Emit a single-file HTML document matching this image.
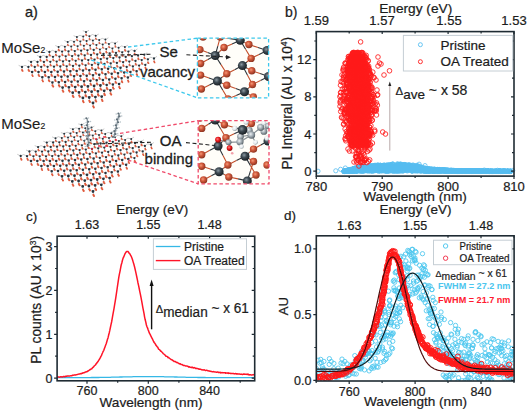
<!DOCTYPE html>
<html><head><meta charset="utf-8"><style>
html,body{margin:0;padding:0;background:#fff;width:529px;height:412px;overflow:hidden}
svg{display:block}
text{font-family:"Liberation Sans",sans-serif}
</style></head><body>
<svg width="529" height="412" viewBox="0 0 529 412">
<defs>
<radialGradient id="gSe" cx="40%" cy="38%" r="62%"><stop offset="0" stop-color="#f49a78"/><stop offset="0.45" stop-color="#d0583a"/><stop offset="1" stop-color="#8e3520"/></radialGradient>
<radialGradient id="gMo" cx="40%" cy="38%" r="62%"><stop offset="0" stop-color="#8a98a0"/><stop offset="0.45" stop-color="#3e4a52"/><stop offset="1" stop-color="#1a2024"/></radialGradient>
<radialGradient id="gC" cx="40%" cy="38%" r="62%"><stop offset="0" stop-color="#eef2f4"/><stop offset="0.5" stop-color="#a4aeb4"/><stop offset="1" stop-color="#5c666c"/></radialGradient>
<radialGradient id="gH" cx="40%" cy="38%" r="62%"><stop offset="0" stop-color="#ffffff"/><stop offset="0.6" stop-color="#e4eaee"/><stop offset="1" stop-color="#9aa4a8"/></radialGradient>
<radialGradient id="gO" cx="40%" cy="38%" r="62%"><stop offset="0" stop-color="#ff8080"/><stop offset="0.5" stop-color="#e81a1a"/><stop offset="1" stop-color="#8a0808"/></radialGradient>
</defs>
<text x="25.0" y="17.2" font-size="14.5" text-anchor="start" fill="#1c1c1c" stroke="#1c1c1c" stroke-width="0.3">a)</text>
<text x="1.2" y="52.5" font-size="15" fill="#1c1c1c" stroke="#1c1c1c" stroke-width="0.15">MoSe<tspan font-size="8.6" dx="0.1">2</tspan></text>
<text x="1.2" y="129.3" font-size="15" fill="#1c1c1c" stroke="#1c1c1c" stroke-width="0.15">MoSe<tspan font-size="8.6" dx="0.1">2</tspan></text>
<path d="M22.0 67.0L22.3 70.4M22.0 67.0L18.6 65.3M22.0 67.0L25.0 65.3M28.4 67.0L28.8 70.4M28.4 67.0L25.0 65.3M28.4 67.0L31.5 65.3M32.1 72.1L32.5 75.6M32.1 72.1L28.8 70.4M32.1 72.1L35.2 70.4M31.1 62.0L31.5 65.3M31.1 62.0L27.8 60.4M31.1 62.0L34.2 60.3M34.8 67.0L35.2 70.4M34.8 67.0L31.5 65.3M34.8 67.0L37.9 65.3M38.5 72.1L38.9 75.6M38.5 72.1L35.2 70.4M38.5 72.1L41.6 70.4M42.3 77.3L42.7 80.8M42.3 77.3L38.9 75.6M42.3 77.3L45.3 75.5M37.5 62.0L37.9 65.3M37.5 62.0L34.2 60.3M37.5 62.0L40.6 60.3M41.2 66.9L41.6 70.4M41.2 66.9L37.9 65.3M41.2 66.9L44.3 65.2M44.9 72.0L45.3 75.5M44.9 72.0L41.6 70.4M44.9 72.0L47.9 70.2M48.7 77.2L49.0 80.7M48.7 77.2L45.3 75.5M48.7 77.2L51.7 75.4M52.4 82.4L52.8 86.0M52.4 82.4L49.0 80.7M52.4 82.4L55.4 80.6M40.3 57.0L40.6 60.3M40.3 57.0L36.9 55.4M40.3 57.0L43.3 55.3M43.9 61.9L44.3 65.2M43.9 61.9L40.6 60.3M43.9 61.9L47.0 60.2M47.6 66.8L47.9 70.2M47.6 66.8L44.3 65.2M47.6 66.8L50.6 65.1M51.3 71.9L51.7 75.4M51.3 71.9L47.9 70.2M51.3 71.9L54.3 70.1M55.0 77.0L55.4 80.6M55.0 77.0L51.7 75.4M55.0 77.0L58.0 75.2M58.8 82.3L59.2 85.9M58.8 82.3L55.4 80.6M58.8 82.3L61.8 80.4M62.6 87.6L63.0 91.2M62.6 87.6L59.2 85.9M62.6 87.6L65.5 85.6M46.7 56.9L47.0 60.2M46.7 56.9L43.3 55.3M46.7 56.9L49.7 55.2M50.3 61.8L50.6 65.1M50.3 61.8L47.0 60.2M50.3 61.8L53.3 60.0M54.0 66.7L54.3 70.1M54.0 66.7L50.6 65.1M54.0 66.7L57.0 64.9M57.7 71.7L58.0 75.2M57.7 71.7L54.3 70.1M57.7 71.7L60.7 69.9M61.4 76.8L61.8 80.4M61.4 76.8L58.0 75.2M61.4 76.8L64.4 75.0M65.1 82.0L65.5 85.6M65.1 82.0L61.8 80.4M65.1 82.0L68.1 80.1M68.9 87.3L69.3 91.0M68.9 87.3L65.5 85.6M68.9 87.3L71.9 85.4M72.7 92.7L73.2 96.4M72.7 92.7L69.3 91.0M72.7 92.7L75.7 90.7M49.4 52.0L49.7 55.2M49.4 52.0L46.1 50.5M49.4 52.0L52.5 50.3M53.0 56.8L53.3 60.0M53.0 56.8L49.7 55.2M53.0 56.8L56.1 55.0M56.7 61.6L57.0 64.9M56.7 61.6L53.3 60.0M56.7 61.6L59.7 59.8M60.3 66.5L60.7 69.9M60.3 66.5L57.0 64.9M60.3 66.5L63.3 64.7M64.0 71.5L64.4 75.0M64.0 71.5L60.7 69.9M64.0 71.5L67.0 69.7M67.7 76.6L68.1 80.1M67.7 76.6L64.4 75.0M67.7 76.6L70.7 74.7M71.5 81.8L71.9 85.4M71.5 81.8L68.1 80.1M71.5 81.8L74.4 79.9M75.2 87.1L75.7 90.7M75.2 87.1L71.9 85.4M75.2 87.1L78.2 85.1M79.0 92.4L79.5 96.1M79.0 92.4L75.7 90.7M79.0 92.4L82.0 90.4M82.9 97.9L83.3 101.6M82.9 97.9L79.5 96.1M82.9 97.9L85.8 95.8M55.8 51.8L56.1 55.0M55.8 51.8L52.5 50.3M55.8 51.8L58.8 50.1M59.4 56.6L59.7 59.8M59.4 56.6L56.1 55.0M59.4 56.6L62.4 54.8M63.0 61.4L63.3 64.7M63.0 61.4L59.7 59.8M63.0 61.4L66.0 59.6M66.7 66.3L67.0 69.7M66.7 66.3L63.3 64.7M66.7 66.3L69.7 64.5M70.3 71.3L70.7 74.7M70.3 71.3L67.0 69.7M70.3 71.3L73.3 69.4M74.1 76.3L74.4 79.9M74.1 76.3L70.7 74.7M74.1 76.3L77.0 74.4M77.8 81.5L78.2 85.1M77.8 81.5L74.4 79.9M77.8 81.5L80.7 79.6M81.6 86.7L82.0 90.4M81.6 86.7L78.2 85.1M81.6 86.7L84.5 84.8M85.3 92.1L85.8 95.8M85.3 92.1L82.0 90.4M85.3 92.1L88.3 90.0M89.2 97.5L89.6 101.3M89.2 97.5L85.8 95.8M89.2 97.5L92.1 95.4M93.0 103.0L93.5 106.9M93.0 103.0L89.6 101.3M93.0 103.0L95.9 100.9M58.6 47.0L58.8 50.1M58.6 47.0L55.3 45.5M58.6 47.0L61.6 45.3M62.1 51.6L62.4 54.8M62.1 51.6L58.8 50.1M62.1 51.6L65.2 49.9M65.7 56.3L66.0 59.6M65.7 56.3L62.4 54.8M65.7 56.3L68.7 54.6M69.3 61.1L69.7 64.5M69.3 61.1L66.0 59.6M69.3 61.1L72.4 59.3M73.0 66.0L73.3 69.4M73.0 66.0L69.7 64.5M73.0 66.0L76.0 64.2M76.7 71.0L77.0 74.4M76.7 71.0L73.3 69.4M76.7 71.0L79.6 69.1M80.4 76.0L80.7 79.6M80.4 76.0L77.0 74.4M80.4 76.0L83.3 74.1M84.1 81.2L84.5 84.8M84.1 81.2L80.7 79.6M84.1 81.2L87.0 79.2M87.9 86.4L88.3 90.0M87.9 86.4L84.5 84.8M87.9 86.4L90.8 84.4M91.6 91.7L92.1 95.4M91.6 91.7L88.3 90.0M91.6 91.7L94.6 89.6M95.4 97.1L95.9 100.9M95.4 97.1L92.1 95.4M95.4 97.1L98.4 95.0M64.9 46.8L65.2 49.9M64.9 46.8L61.6 45.3M64.9 46.8L68.0 45.1M68.5 51.4L68.7 54.6M68.5 51.4L65.2 49.9M68.5 51.4L71.5 49.6M72.1 56.1L72.4 59.3M72.1 56.1L68.7 54.6M72.1 56.1L75.1 54.3M75.7 60.8L76.0 64.2M75.7 60.8L72.4 59.3M75.7 60.8L78.7 59.0M79.3 65.7L79.6 69.1M79.3 65.7L76.0 64.2M79.3 65.7L82.3 63.8M83.0 70.6L83.3 74.1M83.0 70.6L79.6 69.1M83.0 70.6L85.9 68.7M86.7 75.7L87.0 79.2M86.7 75.7L83.3 74.1M86.7 75.7L89.6 73.7M90.4 80.8L90.8 84.4M90.4 80.8L87.0 79.2M90.4 80.8L93.3 78.8M94.1 86.0L94.6 89.6M94.1 86.0L90.8 84.4M94.1 86.0L97.1 83.9M97.9 91.3L98.4 95.0M97.9 91.3L94.6 89.6M97.9 91.3L100.8 89.2M101.7 96.6L102.2 100.4M101.7 96.6L98.4 95.0M101.7 96.6L104.6 94.5M67.7 42.0L68.0 45.1M67.7 42.0L64.4 40.6M67.7 42.0L70.8 40.3M71.2 46.5L71.5 49.6M71.2 46.5L68.0 45.1M71.2 46.5L74.3 44.8M74.8 51.1L75.1 54.3M74.8 51.1L71.5 49.6M74.8 51.1L77.8 49.3M78.4 55.7L78.7 59.0M78.4 55.7L75.1 54.3M78.4 55.7L81.4 53.9M82.0 60.5L82.3 63.8M82.0 60.5L78.7 59.0M82.0 60.5L85.0 58.6M85.6 65.3L85.9 68.7M85.6 65.3L82.3 63.8M85.6 65.3L88.6 63.4M89.3 70.2L89.6 73.7M89.3 70.2L85.9 68.7M89.3 70.2L92.2 68.3M93.0 75.3L93.3 78.8M93.0 75.3L89.6 73.7M93.0 75.3L95.9 73.3M96.7 80.3L97.1 83.9M96.7 80.3L93.3 78.8M96.7 80.3L99.6 78.3M100.4 85.5L100.8 89.2M100.4 85.5L97.1 83.9M100.4 85.5L103.3 83.5M104.2 90.8L104.6 94.5M104.2 90.8L100.8 89.2M104.2 90.8L107.1 88.7M74.0 41.7L74.3 44.8M74.0 41.7L70.8 40.3M74.0 41.7L77.1 40.0M77.6 46.2L77.8 49.3M77.6 46.2L74.3 44.8M77.6 46.2L80.6 44.4M81.1 50.7L81.4 53.9M81.1 50.7L77.8 49.3M81.1 50.7L84.1 49.0M84.7 55.4L85.0 58.6M84.7 55.4L81.4 53.9M84.7 55.4L87.7 53.6M88.3 60.1L88.6 63.4M88.3 60.1L85.0 58.6M88.3 60.1L91.3 58.2M91.9 64.9L92.2 68.3M91.9 64.9L88.6 63.4M91.9 64.9L94.9 63.0M95.5 69.8L95.9 73.3M95.5 69.8L92.2 68.3M95.5 69.8L98.5 67.9M99.2 74.8L99.6 78.3M99.2 74.8L95.9 73.3M99.2 74.8L102.2 72.8M102.9 79.9L103.3 83.5M102.9 79.9L99.6 78.3M102.9 79.9L105.9 77.8M106.7 85.0L107.1 88.7M106.7 85.0L103.3 83.5M106.7 85.0L109.6 83.0M110.4 90.3L110.9 94.0M110.4 90.3L107.1 88.7M110.4 90.3L113.3 88.2M76.9 37.0L77.1 40.0M76.9 37.0L73.6 35.7M76.9 37.0L79.9 35.3M80.3 41.4L80.6 44.4M80.3 41.4L77.1 40.0M80.3 41.4L83.4 39.7M83.9 45.8L84.1 49.0M83.9 45.8L80.6 44.4M83.9 45.8L86.9 44.1M87.4 50.3L87.7 53.6M87.4 50.3L84.1 49.0M87.4 50.3L90.4 48.6M91.0 55.0L91.3 58.2M91.0 55.0L87.7 53.6M91.0 55.0L93.9 53.1M94.5 59.7L94.9 63.0M94.5 59.7L91.3 58.2M94.5 59.7L97.5 57.8M98.2 64.5L98.5 67.9M98.2 64.5L94.9 63.0M98.2 64.5L101.1 62.5M101.8 69.3L102.2 72.8M101.8 69.3L98.5 67.9M101.8 69.3L104.8 67.4M105.5 74.3L105.9 77.8M105.5 74.3L102.2 72.8M105.5 74.3L108.4 72.3M109.2 79.4L109.6 83.0M109.2 79.4L105.9 77.8M109.2 79.4L112.1 77.3M112.9 84.5L113.3 88.2M112.9 84.5L109.6 83.0M112.9 84.5L115.8 82.4M83.2 36.6L83.4 39.7M83.2 36.6L79.9 35.3M83.2 36.6L86.2 35.0M86.6 41.0L86.9 44.1M86.6 41.0L83.4 39.7M86.6 41.0L89.7 39.2M90.1 45.4L90.4 48.6M90.1 45.4L86.9 44.1M90.1 45.4L93.1 43.6M93.7 49.9L93.9 53.1M93.7 49.9L90.4 48.6M93.7 49.9L96.7 48.1M97.2 54.5L97.5 57.8M97.2 54.5L93.9 53.1M97.2 54.5L100.2 52.7M100.8 59.2L101.1 62.5M100.8 59.2L97.5 57.8M100.8 59.2L103.8 57.3M104.4 64.0L104.8 67.4M104.4 64.0L101.1 62.5M104.4 64.0L107.4 62.0M108.1 68.8L108.4 72.3M108.1 68.8L104.8 67.4M108.1 68.8L111.0 66.8M111.7 73.8L112.1 77.3M111.7 73.8L108.4 72.3M111.7 73.8L114.7 71.7M115.4 78.8L115.8 82.4M115.4 78.8L112.1 77.3M115.4 78.8L118.3 76.7M119.1 83.9L119.6 87.6M119.1 83.9L115.8 82.4M119.1 83.9L122.0 81.8M86.0 32.0L86.2 35.0M86.0 32.0L82.8 30.7M86.0 32.0L89.0 30.3M89.4 36.2L89.7 39.2M89.4 36.2L86.2 35.0M89.4 36.2L92.5 34.5M92.9 40.6L93.1 43.6M92.9 40.6L89.7 39.2M92.9 40.6L95.9 38.8M96.4 45.0L96.7 48.1M96.4 45.0L93.1 43.6M96.4 45.0L99.4 43.2M99.9 49.5L100.2 52.7M99.9 49.5L96.7 48.1M99.9 49.5L102.9 47.6M103.5 54.0L103.8 57.3M103.5 54.0L100.2 52.7M103.5 54.0L106.5 52.1M107.1 58.7L107.4 62.0M107.1 58.7L103.8 57.3M107.1 58.7L110.0 56.8M110.7 63.4L111.0 66.8M110.7 63.4L107.4 62.0M110.7 63.4L113.6 61.5M114.3 68.3L114.7 71.7M114.3 68.3L111.0 66.8M114.3 68.3L117.2 66.3M118.0 73.2L118.3 76.7M118.0 73.2L114.7 71.7M118.0 73.2L120.9 71.1M121.6 78.2L122.0 81.8M121.6 78.2L118.3 76.7M121.6 78.2L124.6 76.1M95.7 35.8L95.9 38.8M95.7 35.8L92.5 34.5M95.7 35.8L98.7 34.1M99.2 40.1L99.4 43.2M99.2 40.1L95.9 38.8M99.2 40.1L102.2 38.3M102.7 44.5L102.9 47.6M102.7 44.5L99.4 43.2M102.7 44.5L105.7 42.7M106.2 48.9L106.5 52.1M106.2 48.9L102.9 47.6M106.2 48.9L109.2 47.1M109.7 53.5L110.0 56.8M109.7 53.5L106.5 52.1M109.7 53.5L112.7 51.6M113.3 58.1L113.6 61.5M113.3 58.1L110.0 56.8M113.3 58.1L116.3 56.2M116.9 62.9L117.2 66.3M116.9 62.9L113.6 61.5M116.9 62.9L119.8 60.9M120.5 67.7L120.9 71.1M120.5 67.7L117.2 66.3M120.5 67.7L123.5 65.6M124.2 72.6L124.6 76.1M124.2 72.6L120.9 71.1M124.2 72.6L127.1 70.5M127.9 77.6L128.3 81.2M127.9 77.6L124.6 76.1M127.9 77.6L130.8 75.5M105.4 39.6L105.7 42.7M105.4 39.6L102.2 38.3M105.4 39.6L108.4 37.8M108.9 43.9L109.2 47.1M108.9 43.9L105.7 42.7M108.9 43.9L111.9 42.1M112.4 48.4L112.7 51.6M112.4 48.4L109.2 47.1M112.4 48.4L115.4 46.5M116.0 52.9L116.3 56.2M116.0 52.9L112.7 51.6M116.0 52.9L118.9 51.0M119.5 57.5L119.8 60.9M119.5 57.5L116.3 56.2M119.5 57.5L122.5 55.6M123.1 62.2L123.5 65.6M123.1 62.2L119.8 60.9M123.1 62.2L126.1 60.2M126.7 67.0L127.1 70.5M126.7 67.0L123.5 65.6M126.7 67.0L129.7 65.0M130.4 71.9L130.8 75.5M130.4 71.9L127.1 70.5M130.4 71.9L133.3 69.8M115.1 43.4L115.4 46.5M115.1 43.4L111.9 42.1M115.1 43.4L118.1 41.5M118.6 47.8L118.9 51.0M118.6 47.8L115.4 46.5M118.6 47.8L121.6 45.9M122.2 52.3L122.5 55.6M122.2 52.3L118.9 51.0M122.2 52.3L125.1 50.4M125.7 56.9L126.1 60.2M125.7 56.9L122.5 55.6M125.7 56.9L128.7 54.9M129.3 61.6L129.7 65.0M129.3 61.6L126.1 60.2M129.3 61.6L132.3 59.6M132.9 66.4L133.3 69.8M132.9 66.4L129.7 65.0M132.9 66.4L135.9 64.3M136.6 71.2L137.0 74.7M136.6 71.2L133.3 69.8M136.6 71.2L139.5 69.1M124.9 47.1L125.1 50.4M124.9 47.1L121.6 45.9M124.9 47.1L127.8 45.2M128.4 51.6L128.7 54.9M128.4 51.6L125.1 50.4M128.4 51.6L131.3 49.7M131.9 56.2L132.3 59.6M131.9 56.2L128.7 54.9M131.9 56.2L134.9 54.2M135.5 60.9L135.9 64.3M135.5 60.9L132.3 59.6M135.5 60.9L138.4 58.8M139.1 65.6L139.5 69.1M139.1 65.6L135.9 64.3M139.1 65.6L142.0 63.5M134.6 50.9L134.9 54.2M134.6 50.9L131.3 49.7M134.6 50.9L137.5 48.9M138.1 55.5L138.4 58.8M138.1 55.5L134.9 54.2M138.1 55.5L141.0 53.5M141.7 60.1L142.0 63.5M141.7 60.1L138.4 58.8M141.7 60.1L144.6 58.1M145.3 64.9L145.6 68.3M145.3 64.9L142.0 63.5M145.3 64.9L148.2 62.7M144.3 54.7L144.6 58.1M144.3 54.7L141.0 53.5M144.3 54.7L147.2 52.7M147.9 59.3L148.2 62.7M147.9 59.3L144.6 58.1M147.9 59.3L150.8 57.2M154.0 58.5L154.3 61.9M154.0 58.5L150.8 57.2M154.0 58.5L156.9 56.4" stroke="#8a8a8a" stroke-width="0.45" fill="none"/>
<path d="M67.7 44.7h0M68.2 45.5h0M71.3 49.2h0M71.7 50.1h0M74.0 44.4h0M74.5 45.2h0M77.6 48.9h0M78.0 49.7h0M76.8 39.6h0M77.3 40.4h0M80.3 44.0h0M80.8 44.9h0M83.9 48.5h0M84.3 49.4h0M83.1 39.2h0M83.6 40.1h0M86.6 43.6h0M87.1 44.5h0M90.2 48.1h0M90.6 49.0h0M86.0 34.5h0M86.4 35.4h0M89.4 38.8h0M89.9 39.7h0M92.9 43.2h0M93.4 44.1h0M96.4 47.7h0M96.9 48.5h0M95.7 38.4h0M96.2 39.2h0M99.2 42.7h0M99.6 43.6h0M102.7 47.2h0M103.2 48.0h0M105.4 42.2h0M105.9 43.1h0M108.9 46.7h0M109.4 47.5h0M115.2 46.1h0M115.6 46.9h0" stroke="#e0583a" stroke-width="1.54" stroke-linecap="round" fill="none"/>
<path d="M31.2 64.9h0M31.7 65.8h0M37.6 64.8h0M38.1 65.8h0M40.3 59.8h0M40.8 60.8h0M44.0 64.7h0M44.5 65.7h0M46.7 59.7h0M47.2 60.6h0M50.4 64.6h0M50.9 65.6h0M49.4 54.7h0M50.0 55.7h0M53.1 59.5h0M53.6 60.5h0M56.7 64.4h0M57.2 65.4h0M55.8 54.6h0M56.3 55.5h0M59.4 59.4h0M59.9 60.3h0M63.1 64.2h0M63.6 65.2h0M58.6 49.7h0M59.1 50.6h0M62.2 54.4h0M62.7 55.3h0M65.8 59.1h0M66.3 60.1h0M69.4 64.0h0M69.9 64.9h0M64.9 49.4h0M65.4 50.4h0M68.5 54.1h0M69.0 55.1h0M72.1 58.8h0M72.6 59.8h0M75.7 63.7h0M76.2 64.6h0M74.8 53.8h0M75.3 54.8h0M78.4 58.5h0M78.9 59.5h0M82.0 63.3h0M82.6 64.3h0M81.1 53.5h0M81.6 54.4h0M84.7 58.2h0M85.2 59.1h0M88.3 63.0h0M88.8 63.9h0M87.4 53.1h0M87.9 54.0h0M91.0 57.8h0M91.5 58.7h0M94.6 62.5h0M95.1 63.5h0M93.7 52.7h0M94.2 53.6h0M97.3 57.3h0M97.8 58.3h0M100.9 62.1h0M101.4 63.0h0M104.5 66.9h0M105.0 67.9h0M99.9 52.2h0M100.5 53.1h0M103.5 56.8h0M104.0 57.8h0M107.1 61.6h0M107.6 62.5h0M110.7 66.4h0M111.3 67.3h0M106.2 51.7h0M106.7 52.6h0M109.8 56.3h0M110.3 57.2h0M113.4 61.0h0M113.9 62.0h0M117.0 65.8h0M117.5 66.7h0M112.4 51.1h0M113.0 52.1h0M116.0 55.7h0M116.5 56.7h0M119.6 60.4h0M120.1 61.4h0M123.2 65.2h0M123.7 66.1h0M118.7 50.5h0M119.2 51.5h0M122.2 55.1h0M122.7 56.0h0M125.8 59.8h0M126.3 60.7h0M129.4 64.5h0M129.9 65.5h0M124.9 49.9h0M125.4 50.8h0M128.4 54.4h0M128.9 55.4h0M132.0 59.1h0M132.5 60.0h0M135.6 63.8h0M136.1 64.8h0M134.6 53.7h0M135.1 54.7h0M138.2 58.3h0M138.7 59.3h0M141.8 63.1h0M142.3 64.0h0M144.3 57.6h0M144.9 58.5h0M147.9 62.3h0M148.5 63.2h0M154.1 61.4h0M154.6 62.4h0" stroke="#e0583a" stroke-width="1.74" stroke-linecap="round" fill="none"/>
<path d="M22.0 69.9h0M22.6 70.9h0M28.5 69.9h0M29.1 71.0h0M32.2 75.1h0M32.8 76.1h0M34.9 69.9h0M35.5 70.9h0M38.6 75.0h0M39.2 76.1h0M42.4 80.3h0M43.0 81.4h0M41.3 69.8h0M41.9 70.9h0M45.0 75.0h0M45.6 76.0h0M48.8 80.2h0M49.3 81.2h0M47.7 69.7h0M48.2 70.8h0M51.4 74.8h0M52.0 75.9h0M55.1 80.0h0M55.7 81.1h0M54.0 69.6h0M54.6 70.6h0M57.7 74.7h0M58.3 75.7h0M61.5 79.8h0M62.1 80.9h0M60.4 69.4h0M61.0 70.4h0M64.1 74.5h0M64.7 75.5h0M67.8 79.6h0M68.4 80.7h0M66.7 69.1h0M67.3 70.2h0M70.4 74.2h0M71.0 75.3h0M74.1 79.3h0M74.7 80.4h0M77.9 84.6h0M78.5 85.6h0M73.0 68.9h0M73.6 69.9h0M76.7 73.9h0M77.3 75.0h0M80.5 79.0h0M81.0 80.1h0M84.2 84.2h0M84.8 85.3h0M79.4 68.6h0M79.9 69.6h0M83.0 73.6h0M83.6 74.6h0M86.8 78.7h0M87.3 79.7h0M90.5 83.8h0M91.1 84.9h0M85.7 68.2h0M86.2 69.3h0M89.3 73.2h0M89.9 74.2h0M93.0 78.3h0M93.6 79.3h0M96.8 83.4h0M97.4 84.5h0M91.9 67.8h0M92.5 68.9h0M95.6 72.8h0M96.2 73.8h0M99.3 77.8h0M99.9 78.9h0M103.0 82.9h0M103.6 84.0h0M98.2 67.3h0M98.8 68.4h0M101.9 72.3h0M102.5 73.3h0M105.6 77.3h0M106.2 78.4h0M109.3 82.4h0M109.9 83.5h0M108.1 71.8h0M108.7 72.8h0M111.8 76.8h0M112.4 77.8h0M115.5 81.9h0M116.1 82.9h0M114.4 71.2h0M115.0 72.3h0M118.0 76.2h0M118.6 77.3h0M121.8 81.3h0M122.3 82.3h0M120.6 70.6h0M121.2 71.7h0M124.3 75.6h0M124.8 76.6h0M128.0 80.6h0M128.5 81.7h0M126.8 70.0h0M127.4 71.0h0M130.5 74.9h0M131.1 76.0h0M133.0 69.3h0M133.6 70.4h0M136.7 74.2h0M137.2 75.3h0M139.2 68.6h0M139.8 69.6h0M145.4 67.8h0M145.9 68.9h0" stroke="#e0583a" stroke-width="1.94" stroke-linecap="round" fill="none"/>
<path d="M52.5 85.4h0M53.2 86.6h0M58.9 85.3h0M59.5 86.4h0M62.7 90.6h0M63.3 91.8h0M65.2 85.1h0M65.9 86.2h0M69.0 90.4h0M69.7 91.6h0M72.8 95.9h0M73.5 97.0h0M71.5 84.8h0M72.2 86.0h0M75.3 90.1h0M76.0 91.3h0M79.2 95.6h0M79.8 96.7h0M83.0 101.1h0M83.6 102.2h0M81.7 89.8h0M82.3 91.0h0M85.5 95.2h0M86.1 96.4h0M89.3 100.7h0M89.9 101.9h0M93.2 106.3h0M93.8 107.4h0M88.0 89.5h0M88.6 90.6h0M91.8 94.8h0M92.4 96.0h0M95.6 100.3h0M96.2 101.5h0M94.2 89.1h0M94.9 90.2h0M98.0 94.4h0M98.7 95.6h0M101.9 99.8h0M102.5 101.0h0M100.5 88.6h0M101.2 89.8h0M104.3 93.9h0M104.9 95.1h0M106.8 88.1h0M107.4 89.3h0M110.5 93.4h0M111.2 94.6h0M113.0 87.6h0M113.7 88.8h0M119.2 87.0h0M119.9 88.2h0" stroke="#e0583a" stroke-width="2.14" stroke-linecap="round" fill="none"/>
<path d="M58.6 47.0h0M64.9 46.8h0M67.7 42.0h0M71.2 46.5h0M74.0 41.7h0M77.6 46.2h0M76.9 37.0h0M80.3 41.4h0M83.9 45.8h0M83.2 36.6h0M86.6 41.0h0M90.1 45.4h0M86.0 32.0h0M89.4 36.2h0M92.9 40.6h0M96.4 45.0h0M99.9 49.5h0M95.7 35.8h0M99.2 40.1h0M102.7 44.5h0M106.2 48.9h0M105.4 39.6h0M108.9 43.9h0M112.4 48.4h0M115.1 43.4h0M118.6 47.8h0M124.9 47.1h0" stroke="#26343e" stroke-width="2.00" stroke-linecap="round" fill="none"/>
<path d="M22.0 67.0h0M28.4 67.0h0M31.1 62.0h0M34.8 67.0h0M37.5 62.0h0M41.2 66.9h0M40.3 57.0h0M43.9 61.9h0M47.6 66.8h0M46.7 56.9h0M50.3 61.8h0M54.0 66.7h0M49.4 52.0h0M53.0 56.8h0M56.7 61.6h0M60.3 66.5h0M55.8 51.8h0M59.4 56.6h0M63.0 61.4h0M66.7 66.3h0M62.1 51.6h0M65.7 56.3h0M69.3 61.1h0M73.0 66.0h0M68.5 51.4h0M72.1 56.1h0M75.7 60.8h0M79.3 65.7h0M74.8 51.1h0M78.4 55.7h0M82.0 60.5h0M85.6 65.3h0M81.1 50.7h0M84.7 55.4h0M88.3 60.1h0M91.9 64.9h0M87.4 50.3h0M91.0 55.0h0M94.5 59.7h0M98.2 64.5h0M93.7 49.9h0M97.2 54.5h0M100.8 59.2h0M104.4 64.0h0M103.5 54.0h0M107.1 58.7h0M110.7 63.4h0M109.7 53.5h0M113.3 58.1h0M116.9 62.9h0M116.0 52.9h0M119.5 57.5h0M123.1 62.2h0M126.7 67.0h0M122.2 52.3h0M125.7 56.9h0M129.3 61.6h0M132.9 66.4h0M128.4 51.6h0M131.9 56.2h0M135.5 60.9h0M139.1 65.6h0M134.6 50.9h0M138.1 55.5h0M141.7 60.1h0M145.3 64.9h0M144.3 54.7h0M147.9 59.3h0M154.0 58.5h0" stroke="#26343e" stroke-width="2.26" stroke-linecap="round" fill="none"/>
<path d="M32.1 72.1h0M38.5 72.1h0M42.3 77.3h0M44.9 72.0h0M48.7 77.2h0M52.4 82.4h0M51.3 71.9h0M55.0 77.0h0M58.8 82.3h0M57.7 71.7h0M61.4 76.8h0M65.1 82.0h0M64.0 71.5h0M67.7 76.6h0M71.5 81.8h0M70.3 71.3h0M74.1 76.3h0M77.8 81.5h0M76.7 71.0h0M80.4 76.0h0M84.1 81.2h0M83.0 70.6h0M86.7 75.7h0M90.4 80.8h0M89.3 70.2h0M93.0 75.3h0M96.7 80.3h0M95.5 69.8h0M99.2 74.8h0M102.9 79.9h0M106.7 85.0h0M101.8 69.3h0M105.5 74.3h0M109.2 79.4h0M112.9 84.5h0M108.1 68.8h0M111.7 73.8h0M115.4 78.8h0M119.1 83.9h0M114.3 68.3h0M118.0 73.2h0M121.6 78.2h0M120.5 67.7h0M124.2 72.6h0M127.9 77.6h0M130.4 71.9h0M136.6 71.2h0" stroke="#26343e" stroke-width="2.52" stroke-linecap="round" fill="none"/>
<path d="M62.6 87.6h0M68.9 87.3h0M72.7 92.7h0M75.2 87.1h0M79.0 92.4h0M82.9 97.9h0M81.6 86.7h0M85.3 92.1h0M89.2 97.5h0M93.0 103.0h0M87.9 86.4h0M91.6 91.7h0M95.4 97.1h0M94.1 86.0h0M97.9 91.3h0M101.7 96.6h0M100.4 85.5h0M104.2 90.8h0M110.4 90.3h0" stroke="#26343e" stroke-width="2.78" stroke-linecap="round" fill="none"/>
<path d="M20.7 156.0L21.2 159.2M20.7 156.0L17.3 154.3M20.7 156.0L23.6 154.5M27.0 156.2L27.6 159.4M27.0 156.2L23.6 154.5M27.0 156.2L29.9 154.6M31.0 161.1L31.6 164.4M31.0 161.1L27.6 159.4M31.0 161.1L33.9 159.5M29.4 151.5L29.9 154.6M29.4 151.5L26.0 150.0M29.4 151.5L32.3 150.1M33.4 156.3L33.9 159.5M33.4 156.3L29.9 154.6M33.4 156.3L36.2 154.7M37.3 161.1L37.9 164.5M37.3 161.1L33.9 159.5M37.3 161.1L40.2 159.5M41.4 166.1L41.9 169.6M41.4 166.1L37.9 164.5M41.4 166.1L44.2 164.4M35.7 151.6L36.2 154.7M35.7 151.6L32.3 150.1M35.7 151.6L38.6 150.1M39.7 156.3L40.2 159.5M39.7 156.3L36.2 154.7M39.7 156.3L42.5 154.7M43.6 161.1L44.2 164.4M43.6 161.1L40.2 159.5M43.6 161.1L46.5 159.5M47.7 166.1L48.2 169.5M47.7 166.1L44.2 164.4M47.7 166.1L50.5 164.4M51.7 171.2L52.3 174.7M51.7 171.2L48.2 169.5M51.7 171.2L54.5 169.4M38.1 147.1L38.6 150.1M38.1 147.1L34.7 145.6M38.1 147.1L41.0 145.6M42.0 151.6L42.5 154.7M42.0 151.6L38.6 150.1M42.0 151.6L44.9 150.0M46.0 156.3L46.5 159.5M46.0 156.3L42.5 154.7M46.0 156.3L48.8 154.6M49.9 161.0L50.5 164.4M49.9 161.0L46.5 159.5M49.9 161.0L52.8 159.4M53.9 166.0L54.5 169.4M53.9 166.0L50.5 164.4M53.9 166.0L56.8 164.2M58.0 171.1L58.6 174.6M58.0 171.1L54.5 169.4M58.0 171.1L60.8 169.2M62.0 176.3L62.6 179.9M62.0 176.3L58.6 174.6M62.0 176.3L64.8 174.4M44.4 147.0L44.9 150.0M44.4 147.0L41.0 145.6M44.4 147.0L47.3 145.5M48.3 151.5L48.8 154.6M48.3 151.5L44.9 150.0M48.3 151.5L51.2 149.9M52.2 156.1L52.8 159.4M52.2 156.1L48.8 154.6M52.2 156.1L55.1 154.5M56.2 160.9L56.8 164.2M56.2 160.9L52.8 159.4M56.2 160.9L59.1 159.2M60.2 165.8L60.8 169.2M60.2 165.8L56.8 164.2M60.2 165.8L63.0 164.0M64.2 170.8L64.8 174.4M64.2 170.8L60.8 169.2M64.2 170.8L67.1 169.0M68.3 176.0L68.9 179.7M68.3 176.0L64.8 174.4M68.3 176.0L71.1 174.1M72.3 181.4L73.0 185.1M72.3 181.4L68.9 179.7M72.3 181.4L75.1 179.3M46.8 142.6L47.3 145.5M46.8 142.6L43.4 141.3M46.8 142.6L49.7 141.1M50.7 146.9L51.2 149.9M50.7 146.9L47.3 145.5M50.7 146.9L53.6 145.4M54.6 151.4L55.1 154.5M54.6 151.4L51.2 149.9M54.6 151.4L57.5 149.7M58.5 156.0L59.1 159.2M58.5 156.0L55.1 154.5M58.5 156.0L61.4 154.3M62.5 160.7L63.0 164.0M62.5 160.7L59.1 159.2M62.5 160.7L65.3 158.9M66.5 165.5L67.1 169.0M66.5 165.5L63.0 164.0M66.5 165.5L69.3 163.7M70.5 170.6L71.1 174.1M70.5 170.6L67.1 169.0M70.5 170.6L73.3 168.6M74.5 175.7L75.1 179.3M74.5 175.7L71.1 174.1M74.5 175.7L77.3 173.7M78.6 181.0L79.2 184.7M78.6 181.0L75.1 179.3M78.6 181.0L81.4 178.9M82.7 186.4L83.3 190.3M82.7 186.4L79.2 184.7M82.7 186.4L85.5 184.3M53.1 142.5L53.6 145.4M53.1 142.5L49.7 141.1M53.1 142.5L56.0 141.0M57.0 146.7L57.5 149.7M57.0 146.7L53.6 145.4M57.0 146.7L59.8 145.2M60.9 151.2L61.4 154.3M60.9 151.2L57.5 149.7M60.9 151.2L63.7 149.5M64.8 155.7L65.3 158.9M64.8 155.7L61.4 154.3M64.8 155.7L67.6 154.0M68.7 160.4L69.3 163.7M68.7 160.4L65.3 158.9M68.7 160.4L71.6 158.6M72.7 165.2L73.3 168.6M72.7 165.2L69.3 163.7M72.7 165.2L75.5 163.3M76.7 170.2L77.3 173.7M76.7 170.2L73.3 168.6M76.7 170.2L79.5 168.2M80.7 175.3L81.4 178.9M80.7 175.3L77.3 173.7M80.7 175.3L83.5 173.3M84.8 180.6L85.5 184.3M84.8 180.6L81.4 178.9M84.8 180.6L87.6 178.5M88.9 186.0L89.6 189.8M88.9 186.0L85.5 184.3M88.9 186.0L91.7 183.8M93.0 191.5L93.7 195.5M93.0 191.5L89.6 189.8M93.0 191.5L95.8 189.3M55.5 138.2L56.0 141.0M55.5 138.2L52.1 136.9M55.5 138.2L58.4 136.7M59.3 142.3L59.8 145.2M59.3 142.3L56.0 141.0M59.3 142.3L62.2 140.7M63.2 146.5L63.7 149.5M63.2 146.5L59.8 145.2M63.2 146.5L66.1 144.9M67.1 150.9L67.6 154.0M67.1 150.9L63.7 149.5M67.1 150.9L70.0 149.2M71.0 155.4L71.6 158.6M71.0 155.4L67.6 154.0M71.0 155.4L73.9 153.6M75.0 160.0L75.5 163.3M75.0 160.0L71.6 158.6M75.0 160.0L77.8 158.2M78.9 164.8L79.5 168.2M78.9 164.8L75.5 163.3M78.9 164.8L81.8 162.9M82.9 169.8L83.5 173.3M82.9 169.8L79.5 168.2M82.9 169.8L85.7 167.8M87.0 174.8L87.6 178.5M87.0 174.8L83.5 173.3M87.0 174.8L89.8 172.8M91.0 180.1L91.7 183.8M91.0 180.1L87.6 178.5M91.0 180.1L93.8 177.9M95.1 185.4L95.8 189.3M95.1 185.4L91.7 183.8M95.1 185.4L97.9 183.2M61.8 137.9L62.2 140.7M61.8 137.9L58.4 136.7M61.8 137.9L64.7 136.4M65.6 142.0L66.1 144.9M65.6 142.0L62.2 140.7M65.6 142.0L68.5 140.4M69.5 146.2L70.0 149.2M69.5 146.2L66.1 144.9M69.5 146.2L72.3 144.5M73.3 150.5L73.9 153.6M73.3 150.5L70.0 149.2M73.3 150.5L76.2 148.8M77.3 155.0L77.8 158.2M77.3 155.0L73.9 153.6M77.3 155.0L80.1 153.2M81.2 159.6L81.8 162.9M81.2 159.6L77.8 158.2M81.2 159.6L84.0 157.7M85.2 164.4L85.7 167.8M85.2 164.4L81.8 162.9M85.2 164.4L88.0 162.4M89.2 169.3L89.8 172.8M89.2 169.3L85.7 167.8M89.2 169.3L92.0 167.2M93.2 174.3L93.8 177.9M93.2 174.3L89.8 172.8M93.2 174.3L96.0 172.2M97.2 179.5L97.9 183.2M97.2 179.5L93.8 177.9M97.2 179.5L100.0 177.3M101.3 184.8L102.0 188.7M101.3 184.8L97.9 183.2M101.3 184.8L104.0 182.6M64.2 133.7L64.7 136.4M64.2 133.7L60.9 132.6M64.2 133.7L67.1 132.2M68.0 137.6L68.5 140.4M68.0 137.6L64.7 136.4M68.0 137.6L70.9 136.0M71.8 141.6L72.3 144.5M71.8 141.6L68.5 140.4M71.8 141.6L74.7 140.0M75.7 145.8L76.2 148.8M75.7 145.8L72.3 144.5M75.7 145.8L78.5 144.1M79.6 150.1L80.1 153.2M79.6 150.1L76.2 148.8M79.6 150.1L82.4 148.3M83.5 154.5L84.0 157.7M83.5 154.5L80.1 153.2M83.5 154.5L86.3 152.7M87.4 159.1L88.0 162.4M87.4 159.1L84.0 157.7M87.4 159.1L90.2 157.2M91.4 163.8L92.0 167.2M91.4 163.8L88.0 162.4M91.4 163.8L94.2 161.8M95.3 168.7L96.0 172.2M95.3 168.7L92.0 167.2M95.3 168.7L98.1 166.6M99.4 173.7L100.0 177.3M99.4 173.7L96.0 172.2M99.4 173.7L102.1 171.6M103.4 178.8L104.0 182.6M103.4 178.8L100.0 177.3M103.4 178.8L106.2 176.7M70.4 133.4L70.9 136.0M70.4 133.4L67.1 132.2M70.4 133.4L73.3 131.8M74.2 137.2L74.7 140.0M74.2 137.2L70.9 136.0M74.2 137.2L77.1 135.6M78.1 141.2L78.5 144.1M78.1 141.2L74.7 140.0M78.1 141.2L80.9 139.5M81.9 145.3L82.4 148.3M81.9 145.3L78.5 144.1M81.9 145.3L84.8 143.6M85.8 149.6L86.3 152.7M85.8 149.6L82.4 148.3M85.8 149.6L88.6 147.8M89.7 154.0L90.2 157.2M89.7 154.0L86.3 152.7M89.7 154.0L92.5 152.1M93.6 158.5L94.2 161.8M93.6 158.5L90.2 157.2M93.6 158.5L96.4 156.6M97.6 163.2L98.1 166.6M97.6 163.2L94.2 161.8M97.6 163.2L100.4 161.2M101.5 168.0L102.1 171.6M101.5 168.0L98.1 166.6M101.5 168.0L104.3 166.0M105.5 173.0L106.2 176.7M105.5 173.0L102.1 171.6M105.5 173.0L108.3 170.9M109.6 178.1L110.2 181.9M109.6 178.1L106.2 176.7M109.6 178.1L112.3 175.9M72.9 129.3L73.3 131.8M72.9 129.3L69.6 128.2M72.9 129.3L75.8 127.8M76.7 132.9L77.1 135.6M76.7 132.9L73.3 131.8M76.7 132.9L79.5 131.4M80.5 136.7L80.9 139.5M80.5 136.7L77.1 135.6M80.5 136.7L83.3 135.1M84.3 140.7L84.8 143.6M84.3 140.7L80.9 139.5M84.3 140.7L87.1 139.0M88.1 144.8L88.6 147.8M88.1 144.8L84.8 143.6M88.1 144.8L91.0 143.0M92.0 149.0L92.5 152.1M92.0 149.0L88.6 147.8M92.0 149.0L94.8 147.2M95.9 153.4L96.4 156.6M95.9 153.4L92.5 152.1M95.9 153.4L98.7 151.5M99.8 157.9L100.4 161.2M99.8 157.9L96.4 156.6M99.8 157.9L102.6 155.9M103.7 162.5L104.3 166.0M103.7 162.5L100.4 161.2M103.7 162.5L106.5 160.5M107.7 167.3L108.3 170.9M107.7 167.3L104.3 166.0M107.7 167.3L110.5 165.2M111.7 172.3L112.3 175.9M111.7 172.3L108.3 170.9M111.7 172.3L114.5 170.1M79.1 128.8L79.5 131.4M79.1 128.8L75.8 127.8M79.1 128.8L82.0 127.3M82.9 132.4L83.3 135.1M82.9 132.4L79.5 131.4M82.9 132.4L85.8 130.8M86.7 136.2L87.1 139.0M86.7 136.2L83.3 135.1M86.7 136.2L89.5 134.5M90.5 140.1L91.0 143.0M90.5 140.1L87.1 139.0M90.5 140.1L93.3 138.4M94.3 144.2L94.8 147.2M94.3 144.2L91.0 143.0M94.3 144.2L97.1 142.3M98.2 148.3L98.7 151.5M98.2 148.3L94.8 147.2M98.2 148.3L101.0 146.5M102.0 152.7L102.6 155.9M102.0 152.7L98.7 151.5M102.0 152.7L104.9 150.7M106.0 157.2L106.5 160.5M106.0 157.2L102.6 155.9M106.0 157.2L108.8 155.1M109.9 161.8L110.5 165.2M109.9 161.8L106.5 160.5M109.9 161.8L112.7 159.7M113.9 166.5L114.5 170.1M113.9 166.5L110.5 165.2M113.9 166.5L116.6 164.4M117.9 171.4L118.5 175.1M117.9 171.4L114.5 170.1M117.9 171.4L120.6 169.2M81.6 124.8L82.0 127.3M81.6 124.8L78.3 123.9M81.6 124.8L84.5 123.3M85.3 128.3L85.8 130.8M85.3 128.3L82.0 127.3M85.3 128.3L88.2 126.7M89.1 131.8L89.5 134.5M89.1 131.8L85.8 130.8M89.1 131.8L91.9 130.2M92.8 135.6L93.3 138.4M92.8 135.6L89.5 134.5M92.8 135.6L95.7 133.9M96.6 139.5L97.1 142.3M96.6 139.5L93.3 138.4M96.6 139.5L99.5 137.7M100.5 143.5L101.0 146.5M100.5 143.5L97.1 142.3M100.5 143.5L103.3 141.6M104.3 147.6L104.9 150.7M104.3 147.6L101.0 146.5M104.3 147.6L107.2 145.7M108.2 151.9L108.8 155.1M108.2 151.9L104.9 150.7M108.2 151.9L111.0 150.0M112.1 156.4L112.7 159.7M112.1 156.4L108.8 155.1M112.1 156.4L114.9 154.3M116.1 161.0L116.6 164.4M116.1 161.0L112.7 159.7M116.1 161.0L118.8 158.8M120.0 165.7L120.6 169.2M120.0 165.7L116.6 164.4M120.0 165.7L122.8 163.5M91.5 127.6L91.9 130.2M91.5 127.6L88.2 126.7M91.5 127.6L94.4 126.1M95.3 131.2L95.7 133.9M95.3 131.2L91.9 130.2M95.3 131.2L98.1 129.5M99.0 134.9L99.5 137.7M99.0 134.9L95.7 133.9M99.0 134.9L101.9 133.2M102.8 138.7L103.3 141.6M102.8 138.7L99.5 137.7M102.8 138.7L105.7 136.9M106.6 142.7L107.2 145.7M106.6 142.7L103.3 141.6M106.6 142.7L109.5 140.8M110.5 146.8L111.0 150.0M110.5 146.8L107.2 145.7M110.5 146.8L113.3 144.9M114.4 151.1L114.9 154.3M114.4 151.1L111.0 150.0M114.4 151.1L117.2 149.1M118.3 155.5L118.8 158.8M118.3 155.5L114.9 154.3M118.3 155.5L121.1 153.4M122.2 160.1L122.8 163.5M122.2 160.1L118.8 158.8M122.2 160.1L125.0 157.9M126.1 164.8L126.8 168.3M126.1 164.8L122.8 163.5M126.1 164.8L128.9 162.5M101.4 130.5L101.9 133.2M101.4 130.5L98.1 129.5M101.4 130.5L104.3 128.8M105.2 134.1L105.7 136.9M105.2 134.1L101.9 133.2M105.2 134.1L108.0 132.4M109.0 138.0L109.5 140.8M109.0 138.0L105.7 136.9M109.0 138.0L111.8 136.1M112.8 141.9L113.3 144.9M112.8 141.9L109.5 140.8M112.8 141.9L115.6 140.0M116.6 146.0L117.2 149.1M116.6 146.0L113.3 144.9M116.6 146.0L119.4 144.0M120.5 150.2L121.1 153.4M120.5 150.2L117.2 149.1M120.5 150.2L123.3 148.2M124.4 154.6L125.0 157.9M124.4 154.6L121.1 153.4M124.4 154.6L127.2 152.5M128.3 159.1L128.9 162.5M128.3 159.1L125.0 157.9M128.3 159.1L131.1 156.9M111.3 133.3L111.8 136.1M111.3 133.3L108.0 132.4M111.3 133.3L114.2 131.5M115.1 137.1L115.6 140.0M115.1 137.1L111.8 136.1M115.1 137.1L118.0 135.2M118.9 141.0L119.4 144.0M118.9 141.0L115.6 140.0M118.9 141.0L121.7 139.1M122.8 145.1L123.3 148.2M122.8 145.1L119.4 144.0M122.8 145.1L125.6 143.0M126.6 149.3L127.2 152.5M126.6 149.3L123.3 148.2M126.6 149.3L129.4 147.2M130.5 153.6L131.1 156.9M130.5 153.6L127.2 152.5M130.5 153.6L133.3 151.4M134.4 158.1L135.0 161.5M134.4 158.1L131.1 156.9M134.4 158.1L137.2 155.8M121.3 136.2L121.7 139.1M121.3 136.2L118.0 135.2M121.3 136.2L124.1 134.3M125.1 140.0L125.6 143.0M125.1 140.0L121.7 139.1M125.1 140.0L127.9 138.1M128.9 144.1L129.4 147.2M128.9 144.1L125.6 143.0M128.9 144.1L131.7 142.0M132.7 148.2L133.3 151.4M132.7 148.2L129.4 147.2M132.7 148.2L135.5 146.1M136.6 152.5L137.2 155.8M136.6 152.5L133.3 151.4M136.6 152.5L139.4 150.3M131.2 139.0L131.7 142.0M131.2 139.0L127.9 138.1M131.2 139.0L134.0 137.0M135.0 143.0L135.5 146.1M135.0 143.0L131.7 142.0M135.0 143.0L137.8 140.9M138.8 147.1L139.4 150.3M138.8 147.1L135.5 146.1M138.8 147.1L141.6 145.0M142.7 151.4L143.3 154.7M142.7 151.4L139.4 150.3M142.7 151.4L145.5 149.2M141.1 141.9L141.6 145.0M141.1 141.9L137.8 140.9M141.1 141.9L143.9 139.7M144.9 145.9L145.5 149.2M144.9 145.9L141.6 145.0M144.9 145.9L147.7 143.8M151.0 144.7L151.5 147.9M151.0 144.7L147.7 143.8M151.0 144.7L153.8 142.5" stroke="#8a8a8a" stroke-width="0.45" fill="none"/>
<path d="M55.7 140.5h0M56.2 141.4h0M62.0 140.3h0M62.5 141.1h0M64.4 136.0h0M64.9 136.8h0M68.2 140.0h0M68.7 140.8h0M70.7 135.6h0M71.1 136.5h0M74.5 139.6h0M74.9 140.4h0M73.1 131.4h0M73.6 132.3h0M76.9 135.2h0M77.3 136.0h0M80.7 139.1h0M81.2 139.9h0M79.3 130.9h0M79.8 131.8h0M83.1 134.7h0M83.6 135.5h0M86.9 138.6h0M87.4 139.4h0M81.8 126.8h0M82.2 127.7h0M85.5 130.4h0M86.0 131.3h0M89.3 134.1h0M89.8 134.9h0M93.1 137.9h0M93.5 138.8h0M91.7 129.8h0M92.2 130.6h0M95.5 133.5h0M95.9 134.3h0M99.3 137.3h0M99.7 138.1h0M101.6 132.7h0M102.1 133.6h0M105.4 136.5h0M105.9 137.4h0M109.2 140.4h0M109.7 141.3h0M111.6 135.7h0M112.0 136.5h0M115.4 139.6h0M115.8 140.4h0M121.5 138.6h0M122.0 139.5h0" stroke="#e0583a" stroke-width="1.54" stroke-linecap="round" fill="none"/>
<path d="M29.7 154.2h0M30.2 155.1h0M36.0 154.2h0M36.5 155.2h0M38.3 149.6h0M38.9 150.6h0M42.3 154.2h0M42.8 155.2h0M44.6 149.6h0M45.2 150.5h0M48.6 154.1h0M49.1 155.1h0M47.0 145.0h0M47.6 146.0h0M50.9 149.5h0M51.5 150.4h0M54.9 154.0h0M55.4 155.0h0M53.3 144.9h0M53.8 145.9h0M57.2 149.3h0M57.7 150.2h0M61.1 153.8h0M61.6 154.7h0M59.6 144.7h0M60.1 145.6h0M63.5 149.0h0M64.0 150.0h0M67.4 153.5h0M67.9 154.4h0M65.8 144.4h0M66.3 145.3h0M69.7 148.7h0M70.2 149.6h0M73.6 153.1h0M74.1 154.1h0M72.1 144.0h0M72.6 145.0h0M75.9 148.3h0M76.5 149.2h0M79.8 152.7h0M80.4 153.7h0M83.8 157.2h0M84.3 158.2h0M78.3 143.6h0M78.8 144.5h0M82.2 147.8h0M82.7 148.8h0M86.0 152.2h0M86.6 153.1h0M90.0 156.7h0M90.5 157.7h0M84.5 143.1h0M85.0 144.0h0M88.4 147.3h0M88.9 148.2h0M92.2 151.6h0M92.8 152.6h0M96.2 156.1h0M96.7 157.1h0M90.7 142.5h0M91.2 143.5h0M94.5 146.7h0M95.1 147.6h0M98.4 151.0h0M98.9 151.9h0M102.3 155.4h0M102.9 156.4h0M96.9 141.9h0M97.4 142.8h0M100.7 146.0h0M101.2 147.0h0M104.6 150.3h0M105.1 151.2h0M108.5 154.7h0M109.0 155.6h0M103.0 141.2h0M103.6 142.1h0M106.9 145.2h0M107.4 146.2h0M110.8 149.5h0M111.3 150.4h0M114.7 153.8h0M115.2 154.8h0M113.0 144.4h0M113.6 145.4h0M116.9 148.6h0M117.4 149.6h0M120.8 153.0h0M121.3 153.9h0M124.7 157.4h0M125.2 158.4h0M119.2 143.5h0M119.7 144.5h0M123.0 147.7h0M123.6 148.6h0M126.9 152.0h0M127.4 152.9h0M130.8 156.4h0M131.3 157.4h0M125.3 142.6h0M125.8 143.5h0M129.2 146.7h0M129.7 147.6h0M133.0 151.0h0M133.6 151.9h0M136.9 155.4h0M137.5 156.3h0M131.4 141.5h0M131.9 142.5h0M135.3 145.6h0M135.8 146.6h0M139.1 149.9h0M139.7 150.8h0M143.0 154.2h0M143.5 155.2h0M141.4 144.5h0M141.9 145.4h0M145.2 148.7h0M145.7 149.6h0M151.3 147.4h0M151.8 148.4h0" stroke="#e0583a" stroke-width="1.74" stroke-linecap="round" fill="none"/>
<path d="M21.0 158.7h0M21.5 159.7h0M27.3 158.8h0M27.9 159.9h0M31.3 163.9h0M31.9 164.9h0M33.6 158.9h0M34.2 160.0h0M37.6 163.9h0M38.2 165.0h0M41.7 169.0h0M42.2 170.1h0M39.9 159.0h0M40.5 160.0h0M43.9 163.9h0M44.5 165.0h0M48.0 169.0h0M48.5 170.1h0M52.0 174.2h0M52.6 175.3h0M46.2 158.9h0M46.8 160.0h0M50.2 163.8h0M50.8 164.9h0M54.2 168.9h0M54.8 169.9h0M58.3 174.1h0M58.9 175.1h0M52.5 158.8h0M53.1 159.9h0M56.5 163.7h0M57.1 164.8h0M60.5 168.7h0M61.1 169.8h0M64.5 173.8h0M65.1 174.9h0M58.8 158.6h0M59.4 159.7h0M62.8 163.5h0M63.3 164.5h0M66.8 168.4h0M67.3 169.5h0M70.8 173.6h0M71.4 174.6h0M65.0 158.4h0M65.6 159.4h0M69.0 163.2h0M69.6 164.2h0M73.0 168.1h0M73.6 169.2h0M77.0 173.2h0M77.6 174.3h0M71.3 158.1h0M71.9 159.1h0M75.2 162.8h0M75.8 163.9h0M79.2 167.7h0M79.8 168.8h0M83.3 172.8h0M83.8 173.8h0M77.5 157.7h0M78.1 158.7h0M81.5 162.4h0M82.1 163.4h0M85.5 167.2h0M86.0 168.3h0M89.5 172.3h0M90.1 173.3h0M87.7 161.9h0M88.3 162.9h0M91.7 166.7h0M92.2 167.8h0M95.7 171.7h0M96.2 172.7h0M93.9 161.3h0M94.5 162.4h0M97.9 166.1h0M98.4 167.2h0M101.9 171.0h0M102.4 172.1h0M100.1 160.7h0M100.6 161.7h0M104.0 165.4h0M104.6 166.5h0M108.0 170.3h0M108.6 171.4h0M106.2 159.9h0M106.8 161.0h0M110.2 164.7h0M110.8 165.7h0M114.2 169.5h0M114.8 170.6h0M112.4 159.2h0M113.0 160.2h0M116.3 163.8h0M116.9 164.9h0M120.3 168.7h0M120.9 169.7h0M118.5 158.3h0M119.1 159.4h0M122.5 163.0h0M123.1 164.0h0M126.5 167.8h0M127.0 168.8h0M128.6 162.0h0M129.2 163.1h0M134.7 161.0h0M135.3 162.0h0" stroke="#e0583a" stroke-width="1.94" stroke-linecap="round" fill="none"/>
<path d="M62.3 179.3h0M63.0 180.5h0M68.6 179.1h0M69.2 180.3h0M72.7 184.5h0M73.3 185.7h0M74.8 178.8h0M75.5 179.9h0M78.9 184.1h0M79.5 185.3h0M83.0 189.7h0M83.7 190.9h0M81.1 178.4h0M81.7 179.5h0M85.1 183.7h0M85.8 184.9h0M89.2 189.2h0M89.9 190.4h0M93.4 194.9h0M94.0 196.0h0M87.3 177.9h0M87.9 179.1h0M91.3 183.2h0M92.0 184.4h0M95.4 188.7h0M96.1 189.9h0M93.5 177.4h0M94.1 178.5h0M97.5 182.6h0M98.2 183.8h0M101.6 188.1h0M102.3 189.3h0M99.7 176.7h0M100.3 177.9h0M103.7 182.0h0M104.4 183.2h0M105.8 176.1h0M106.5 177.2h0M109.9 181.3h0M110.5 182.5h0M112.0 175.3h0M112.7 176.5h0M118.2 174.5h0M118.8 175.7h0" stroke="#e0583a" stroke-width="2.14" stroke-linecap="round" fill="none"/>
<path d="M55.5 138.2h0M61.8 137.9h0M64.2 133.7h0M68.0 137.6h0M70.4 133.4h0M74.2 137.2h0M78.1 141.2h0M72.9 129.3h0M76.7 132.9h0M80.5 136.7h0M84.3 140.7h0M79.1 128.8h0M82.9 132.4h0M86.7 136.2h0M90.5 140.1h0M81.6 124.8h0M85.3 128.3h0M89.1 131.8h0M92.8 135.6h0M96.6 139.5h0M91.5 127.6h0M95.3 131.2h0M99.0 134.9h0M102.8 138.7h0M101.4 130.5h0M105.2 134.1h0M109.0 138.0h0M111.3 133.3h0M115.1 137.1h0M118.9 141.0h0M121.3 136.2h0M125.1 140.0h0M131.2 139.0h0" stroke="#26343e" stroke-width="2.00" stroke-linecap="round" fill="none"/>
<path d="M20.7 156.0h0M27.0 156.2h0M29.4 151.5h0M33.4 156.3h0M35.7 151.6h0M39.7 156.3h0M38.1 147.1h0M42.0 151.6h0M46.0 156.3h0M44.4 147.0h0M48.3 151.5h0M52.2 156.1h0M46.8 142.6h0M50.7 146.9h0M54.6 151.4h0M58.5 156.0h0M53.1 142.5h0M57.0 146.7h0M60.9 151.2h0M64.8 155.7h0M59.3 142.3h0M63.2 146.5h0M67.1 150.9h0M71.0 155.4h0M65.6 142.0h0M69.5 146.2h0M73.3 150.5h0M77.3 155.0h0M71.8 141.6h0M75.7 145.8h0M79.6 150.1h0M83.5 154.5h0M81.9 145.3h0M85.8 149.6h0M89.7 154.0h0M88.1 144.8h0M92.0 149.0h0M95.9 153.4h0M99.8 157.9h0M94.3 144.2h0M98.2 148.3h0M102.0 152.7h0M106.0 157.2h0M100.5 143.5h0M104.3 147.6h0M108.2 151.9h0M112.1 156.4h0M106.6 142.7h0M110.5 146.8h0M114.4 151.1h0M118.3 155.5h0M112.8 141.9h0M116.6 146.0h0M120.5 150.2h0M124.4 154.6h0M122.8 145.1h0M126.6 149.3h0M130.5 153.6h0M134.4 158.1h0M128.9 144.1h0M132.7 148.2h0M136.6 152.5h0M135.0 143.0h0M138.8 147.1h0M142.7 151.4h0M141.1 141.9h0M144.9 145.9h0M151.0 144.7h0" stroke="#26343e" stroke-width="2.26" stroke-linecap="round" fill="none"/>
<path d="M31.0 161.1h0M37.3 161.1h0M41.4 166.1h0M43.6 161.1h0M47.7 166.1h0M51.7 171.2h0M49.9 161.0h0M53.9 166.0h0M58.0 171.1h0M56.2 160.9h0M60.2 165.8h0M64.2 170.8h0M62.5 160.7h0M66.5 165.5h0M70.5 170.6h0M68.7 160.4h0M72.7 165.2h0M76.7 170.2h0M75.0 160.0h0M78.9 164.8h0M82.9 169.8h0M81.2 159.6h0M85.2 164.4h0M89.2 169.3h0M93.2 174.3h0M87.4 159.1h0M91.4 163.8h0M95.3 168.7h0M99.4 173.7h0M93.6 158.5h0M97.6 163.2h0M101.5 168.0h0M105.5 173.0h0M103.7 162.5h0M107.7 167.3h0M111.7 172.3h0M109.9 161.8h0M113.9 166.5h0M117.9 171.4h0M116.1 161.0h0M120.0 165.7h0M122.2 160.1h0M126.1 164.8h0M128.3 159.1h0" stroke="#26343e" stroke-width="2.52" stroke-linecap="round" fill="none"/>
<path d="M62.0 176.3h0M68.3 176.0h0M72.3 181.4h0M74.5 175.7h0M78.6 181.0h0M82.7 186.4h0M80.7 175.3h0M84.8 180.6h0M88.9 186.0h0M93.0 191.5h0M87.0 174.8h0M91.0 180.1h0M95.1 185.4h0M97.2 179.5h0M101.3 184.8h0M103.4 178.8h0M109.6 178.1h0" stroke="#26343e" stroke-width="2.78" stroke-linecap="round" fill="none"/>
<path d="M87.2 118.3L88.4 146M119.3 113.5L113.9 137" stroke="#7c8a92" stroke-width="1.2" fill="none"/>
<path d="M84.1 118.9h0M88.5 117.9h0M86.1 122.4h0M90.5 121.4h0M84.4 125.8h0M88.8 124.8h0M86.4 129.3h0M90.8 128.3h0M84.7 132.8h0M89.1 131.8h0M86.7 136.2h0M91.1 135.2h0M85.0 139.7h0M89.4 138.7h0M87.0 143.1h0M91.4 142.1h0M85.3 146.6h0M89.7 145.6h0M116.2 114.1h0M120.6 113.1h0M117.3 117.0h0M121.7 116.0h0M114.8 120.0h0M119.2 119.0h0M116.0 122.9h0M120.4 121.9h0M113.5 125.8h0M117.9 124.8h0M114.6 128.8h0M119.0 127.8h0M112.1 131.7h0M116.5 130.7h0M113.3 134.7h0M117.7 133.7h0M110.8 137.6h0M115.2 136.6h0" stroke="#b8c4ca" stroke-width="1.5" stroke-linecap="round" fill="none"/>
<path d="M86.3 118.3h0M88.3 121.8h0M86.6 125.2h0M88.6 128.7h0M86.9 132.2h0M88.9 135.6h0M87.2 139.1h0M89.2 142.5h0M87.5 146.0h0M118.4 113.5h0M119.5 116.4h0M117.0 119.4h0M118.2 122.3h0M115.7 125.2h0M116.8 128.2h0M114.3 131.1h0M115.5 134.1h0M113.0 137.0h0" stroke="#5e6e78" stroke-width="2.1" stroke-linecap="round" fill="none"/>
<path d="M96 139h0M104 137h0M110 141h0M99 146h0M116 140h0M92 149h0M106 146h0" stroke="#f0284a" stroke-width="1.9" stroke-linecap="round" fill="none"/>
<path d="M128 47 L197.5 38.2 M91 60 L197.5 97.8" stroke="#3cc8ec" stroke-width="1.3" stroke-dasharray="3.5 2.5" fill="none"/>
<path d="M120 133.4 L198.2 120.7 M128 160 L198.2 183.8" stroke="#f04a6a" stroke-width="1.3" stroke-dasharray="3.5 2.5" fill="none"/>
<clipPath id="clip38"><rect x="197.4" y="38.2" width="71.20000000000002" height="59.599999999999994"/></clipPath>
<rect x="197.4" y="38.2" width="71.20000000000002" height="59.599999999999994" fill="#fffef9"/>
<g clip-path="url(#clip38)">
<path d="M215.2 55.5L219.6 51.5M215.2 55.5L207.6 52.5M215.2 55.5L207.9 59.5M215.2 55.5L217.8 46.2M215.2 55.5L221.0 64.6M240.2 40.2L244.6 42.4M240.2 40.2L232.1 43.9M240.2 40.2L230.2 38.6M240.2 40.2L245.6 49.3M242.4 65.6L247.1 68.2M242.4 65.6L246.8 62.0M242.4 65.6L234.6 69.7M242.4 65.6L247.4 75.0M267.1 50.4L259.1 54.4M267.1 50.4L258.0 47.5M217.4 81.0L222.1 83.2M217.4 81.0L222.1 77.3M217.4 81.0L209.0 78.0M217.4 81.0L209.4 85.0M217.4 81.0L222.7 90.0M244.5 91.8L248.9 94.4M244.5 91.8L248.5 88.2M244.5 91.8L236.2 95.4M244.5 91.8L235.7 88.5M268.5 76.5L260.1 73.6M268.5 76.5L260.5 80.5M213.0 28.0L216.7 32.5M213.0 28.0L208.0 32.5" stroke="#2e353a" stroke-width="1.1" fill="none"/>
<path d="M219.6 51.5L224.0 47.5M207.6 52.5L199.9 49.6M207.9 59.5L200.6 63.5M217.8 46.2L220.3 37.0M221.0 64.6L226.8 73.7M244.6 42.4L248.9 44.5M232.1 43.9L224.0 47.5M230.2 38.6L220.3 37.0M245.6 49.3L251.1 58.4M247.1 68.2L251.8 70.7M246.8 62.0L251.1 58.4M234.6 69.7L226.8 73.7M247.4 75.0L252.5 84.5M259.1 54.4L251.1 58.4M258.0 47.5L248.9 44.5M222.1 83.2L226.8 85.3M222.1 77.3L226.8 73.7M209.0 78.0L200.6 75.1M209.4 85.0L201.4 89.0M222.7 90.0L228.0 99.0M248.9 94.4L253.3 97.0M248.5 88.2L252.5 84.5M236.2 95.4L228.0 99.0M235.7 88.5L226.8 85.3M260.1 73.6L251.8 70.7M260.5 80.5L252.5 84.5M216.7 32.5L220.3 37.0M208.0 32.5L203.0 37.0" stroke="#c4502c" stroke-width="1.1" fill="none"/>
<circle cx="224" cy="47.5" r="3.7" fill="url(#gSe)"/>
<circle cx="248.9" cy="44.5" r="3.7" fill="url(#gSe)"/>
<circle cx="251.1" cy="58.4" r="3.7" fill="url(#gSe)"/>
<circle cx="199.9" cy="49.6" r="3.7" fill="url(#gSe)"/>
<circle cx="200.6" cy="63.5" r="3.7" fill="url(#gSe)"/>
<circle cx="226.8" cy="73.7" r="3.7" fill="url(#gSe)"/>
<circle cx="251.8" cy="70.7" r="3.7" fill="url(#gSe)"/>
<circle cx="200.6" cy="75.1" r="3.7" fill="url(#gSe)"/>
<circle cx="201.4" cy="89" r="3.7" fill="url(#gSe)"/>
<circle cx="226.8" cy="85.3" r="3.7" fill="url(#gSe)"/>
<circle cx="252.5" cy="84.5" r="3.7" fill="url(#gSe)"/>
<circle cx="220.3" cy="37" r="3.7" fill="url(#gSe)"/>
<circle cx="253.3" cy="97" r="3.7" fill="url(#gSe)"/>
<circle cx="228" cy="99" r="3.7" fill="url(#gSe)"/>
<circle cx="203" cy="37" r="3.7" fill="url(#gSe)"/>
<circle cx="215.2" cy="55.5" r="4.5" fill="url(#gMo)"/>
<circle cx="240.2" cy="40.2" r="4.5" fill="url(#gMo)"/>
<circle cx="242.4" cy="65.6" r="4.5" fill="url(#gMo)"/>
<circle cx="267.1" cy="50.4" r="4.5" fill="url(#gMo)"/>
<circle cx="217.4" cy="81" r="4.5" fill="url(#gMo)"/>
<circle cx="244.5" cy="91.8" r="4.5" fill="url(#gMo)"/>
<circle cx="268.5" cy="76.5" r="4.5" fill="url(#gMo)"/>
<circle cx="213" cy="28" r="4.5" fill="url(#gMo)"/>
</g>
<rect x="197.4" y="38.2" width="71.20000000000002" height="59.599999999999994" fill="none" stroke="#3cc8ec" stroke-width="1.3" stroke-dasharray="3.5 2.5"/>
<clipPath id="clip120"><rect x="198.2" y="120.7" width="70.80000000000001" height="63.10000000000001"/></clipPath>
<rect x="198.2" y="120.7" width="70.80000000000001" height="63.10000000000001" fill="#fffef9"/>
<g clip-path="url(#clip120)">
<path d="M218.1 146.0L222.0 141.8M218.1 146.0L209.9 150.3M218.1 146.0L223.0 155.5M242.5 129.9L246.9 126.8M242.5 129.9L234.2 133.8M242.5 129.9L233.4 127.3M245.0 156.2L249.2 158.8M245.0 156.2L249.2 152.6M245.0 156.2L236.4 160.6M245.0 156.2L250.5 165.6M219.1 171.7L223.9 174.3M219.1 171.7L223.5 168.3M219.1 171.7L211.3 175.8M219.1 171.7L210.4 169.0M247.3 180.9L251.7 177.9M247.3 180.9L238.1 178.9M247.3 180.9L250.4 171.2M215.2 120.0L219.8 122.3M215.2 120.0L207.6 119.0M215.2 120.0L208.4 124.2M215.2 120.0L220.6 128.8M268.0 141.0L260.8 145.1" stroke="#2e353a" stroke-width="1.1" fill="none"/>
<path d="M222.0 141.8L225.9 137.7M209.9 150.3L201.7 154.7M223.0 155.5L227.9 165.0M246.9 126.8L251.4 123.6M234.2 133.8L225.9 137.7M233.4 127.3L224.4 124.7M249.2 158.8L253.5 161.5M249.2 152.6L253.5 149.1M236.4 160.6L227.9 165.0M250.5 165.6L256.0 175.0M223.9 174.3L228.8 177.0M223.5 168.3L227.9 165.0M211.3 175.8L203.6 180.0M210.4 169.0L201.7 166.3M251.7 177.9L256.0 175.0M238.1 178.9L228.8 177.0M250.4 171.2L253.5 161.5M219.8 122.3L224.4 124.7M207.6 119.0L200.0 118.0M208.4 124.2L201.7 128.4M220.6 128.8L225.9 137.7M260.8 145.1L253.5 149.1" stroke="#c4502c" stroke-width="1.1" fill="none"/>
<path d="M228.5 142.3L240 141.8L251.4 135L260.7 127.8M240.5 136.6L251.4 135M218.1 139.8L228.5 142.3L229.6 148.1M255.5 142.3L251.4 135" stroke="#8a9296" stroke-width="1.2" fill="none"/>
<circle cx="224.4" cy="124.7" r="3.7" fill="url(#gSe)"/>
<circle cx="225.9" cy="137.7" r="3.7" fill="url(#gSe)"/>
<circle cx="201.7" cy="128.4" r="3.7" fill="url(#gSe)"/>
<circle cx="201.7" cy="154.7" r="3.7" fill="url(#gSe)"/>
<circle cx="227.9" cy="165" r="3.7" fill="url(#gSe)"/>
<circle cx="253.5" cy="161.5" r="3.7" fill="url(#gSe)"/>
<circle cx="253.5" cy="149.1" r="3.7" fill="url(#gSe)"/>
<circle cx="201.7" cy="166.3" r="3.7" fill="url(#gSe)"/>
<circle cx="203.6" cy="180" r="3.7" fill="url(#gSe)"/>
<circle cx="228.8" cy="177" r="3.7" fill="url(#gSe)"/>
<circle cx="256" cy="175" r="3.7" fill="url(#gSe)"/>
<circle cx="251.4" cy="123.6" r="3.7" fill="url(#gSe)"/>
<circle cx="267" cy="165" r="3.7" fill="url(#gSe)"/>
<circle cx="200" cy="118" r="3.7" fill="url(#gSe)"/>
<circle cx="218.1" cy="146" r="4.5" fill="url(#gMo)"/>
<circle cx="242.5" cy="129.9" r="4.5" fill="url(#gMo)"/>
<circle cx="245" cy="156.2" r="4.5" fill="url(#gMo)"/>
<circle cx="219.1" cy="171.7" r="4.5" fill="url(#gMo)"/>
<circle cx="247.3" cy="180.9" r="4.5" fill="url(#gMo)"/>
<circle cx="215.2" cy="120" r="4.5" fill="url(#gMo)"/>
<circle cx="268" cy="141" r="4.5" fill="url(#gMo)"/>
<circle cx="263.9" cy="131.4" r="3.4" fill="url(#gC)"/>
<circle cx="268" cy="126" r="3.2" fill="url(#gC)"/>
<circle cx="249.3" cy="130.4" r="3.4" fill="url(#gC)"/>
<circle cx="240.5" cy="136.6" r="3.4" fill="url(#gC)"/>
<circle cx="240" cy="141.8" r="3.6" fill="url(#gC)"/>
<circle cx="251.4" cy="135" r="3.8" fill="url(#gC)"/>
<circle cx="260.7" cy="127.3" r="3.6" fill="url(#gC)"/>
<circle cx="228.5" cy="142.3" r="3.0" fill="url(#gC)"/>
<circle cx="234.8" cy="128.3" r="2.6" fill="url(#gH)"/>
<circle cx="246.2" cy="122" r="2.6" fill="url(#gH)"/>
<circle cx="267" cy="138.2" r="2.6" fill="url(#gH)"/>
<circle cx="255.5" cy="142.3" r="2.4" fill="url(#gH)"/>
<circle cx="263.9" cy="123.1" r="2.4" fill="url(#gH)"/>
<circle cx="241.5" cy="146.5" r="2.3" fill="url(#gH)"/>
<circle cx="257" cy="120.5" r="2.2" fill="url(#gH)"/>
<circle cx="242.5" cy="129.9" r="4.8" fill="url(#gMo)"/>
<circle cx="218.1" cy="139.8" r="3.0" fill="url(#gO)"/>
<circle cx="229.6" cy="148.1" r="2.9" fill="url(#gO)"/>
<circle cx="232.2" cy="153.3" r="1.3" fill="#f2a0aa"/>
</g>
<rect x="198.2" y="120.7" width="70.80000000000001" height="63.10000000000001" fill="none" stroke="#f04a6a" stroke-width="1.3" stroke-dasharray="3.5 2.5"/>
<text x="159.4" y="57.0" font-size="15" text-anchor="start" fill="#1c1c1c" stroke="#1c1c1c" stroke-width="0.3">Se</text>
<text x="140.0" y="77.0" font-size="15" text-anchor="start" fill="#1c1c1c" stroke="#1c1c1c" stroke-width="0.3">vacancy</text>
<text x="159.8" y="146.4" font-size="15" text-anchor="start" fill="#1c1c1c" stroke="#1c1c1c" stroke-width="0.3">OA</text>
<text x="144.6" y="164.3" font-size="15" text-anchor="start" fill="#1c1c1c" stroke="#1c1c1c" stroke-width="0.3">binding</text>
<path d="M101 55.4 L151 54.3 M186.4 54.8 L227 57" stroke="#222" stroke-width="1.1" stroke-dasharray="4 2.5" fill="none"/>
<path d="M231 57.2 L226 55 L226 59.4Z" fill="#222"/>
<path d="M95 144 L153 142.2 M186 142.6 L215 145.5" stroke="#222" stroke-width="1.1" stroke-dasharray="4 2.5" fill="none"/>
<marker id="m0" markerUnits="userSpaceOnUse" markerWidth="5.800000000000001" markerHeight="5.800000000000001" refX="2.9000000000000004" refY="2.9000000000000004" overflow="visible"><circle cx="2.9000000000000004" cy="2.9000000000000004" r="2.1" fill="none" stroke="#55bdf0" stroke-width="0.8"/></marker>
<path d="M354.6 170.6L474.1 171.1L355.8 169.8L417.1 170.4L462.0 171.3L402.3 167.7L408.9 167.5L462.6 170.7L384.7 166.9L455.1 171.1L344.1 171.3L387.0 169.2L490.6 171.3L415.8 166.6L347.3 170.6L399.4 170.7L448.8 170.2L372.6 167.6L387.0 166.2L459.8 171.2L479.3 171.1L452.7 170.5L408.5 166.3L488.2 171.4L482.9 171.3L417.2 170.5L455.5 171.1L486.8 171.3L431.4 170.4L440.3 171.0L368.5 167.2L465.2 171.0L496.0 171.4L483.1 171.3L504.1 171.3L439.3 169.5L471.5 171.0L350.3 170.6L354.5 170.8L373.6 166.2L360.5 169.9L419.5 167.0L504.2 171.3L373.6 168.1L456.9 171.3L452.2 171.0L436.3 169.9L450.3 170.8L430.2 170.9L419.9 170.8L417.4 168.3L469.1 171.1L346.0 171.0L372.3 167.0L401.8 168.7L493.9 171.3L395.2 168.7L417.4 170.8L428.8 168.9L431.6 169.5L500.9 171.3L463.7 170.8L477.5 171.3L417.6 169.4L381.1 167.6L390.2 166.9L435.0 171.2L410.9 168.8L457.0 171.3L366.7 168.6L404.5 166.7L392.6 169.9L498.0 171.4L363.5 169.9L393.7 169.7L427.0 168.8L360.4 169.4L450.1 170.3L510.7 171.4L427.1 168.9L350.2 170.2L367.5 167.1L499.1 171.3L344.8 171.4L406.4 165.6L377.2 167.2L404.6 169.5L456.5 171.1L399.0 165.7L419.9 167.4L423.5 170.8L411.1 165.7L431.9 169.0L344.1 171.4L468.2 171.0L431.2 169.7L487.8 171.3L428.8 169.9L449.8 171.0L450.3 170.7L471.3 171.1L346.9 170.9L484.4 171.2L445.7 170.8L396.5 166.0L353.5 168.9L487.8 171.2L361.8 170.8L491.0 171.3L382.5 168.8L448.6 171.2L418.5 167.8L459.5 171.4L475.8 171.2L409.7 167.7L384.1 165.4L373.3 168.1L366.6 168.0L492.5 171.3L361.6 168.2L490.8 171.4L406.2 166.5L462.6 171.1L444.9 170.3L395.9 166.4L434.1 169.8L422.7 170.0L409.5 165.3L369.6 170.5L345.2 171.0L508.6 171.4L381.8 170.1L438.1 170.4L477.6 171.3L488.1 171.3L475.3 171.0L494.1 171.3L439.8 170.3L370.0 168.5L497.1 171.3L346.2 170.9L391.6 170.4L362.3 167.2L503.1 171.3L401.0 167.7L479.2 171.1L351.7 170.9L486.2 171.3L448.3 170.4L444.5 170.2L428.6 170.8L369.5 165.7L345.0 171.1L488.6 171.3L349.6 170.7L392.1 168.0L408.3 165.1L359.4 167.0L349.2 169.8L392.6 166.0L344.2 171.3L451.8 170.7L475.0 171.3L403.9 167.1L347.1 170.5L406.4 169.7L374.9 167.4L349.5 171.0L387.9 169.6L461.3 170.9L492.9 171.3L386.4 169.1L360.0 170.2L438.9 169.9L386.6 169.0L474.4 170.9L354.5 171.2L466.4 171.1L407.9 167.1L466.7 171.3L503.6 171.3L406.5 168.2L382.8 167.4L372.3 168.2L492.9 171.3L478.8 171.3L489.1 171.4L373.5 167.1L387.6 170.5L354.8 168.8L346.0 171.3L500.6 171.3L398.8 170.0L486.1 171.2L450.2 170.8L425.0 168.0L424.5 171.1L353.1 169.7L461.7 170.9L463.5 171.2L398.9 169.4L399.2 169.4L480.1 171.3L372.7 167.1L403.4 169.0L505.9 171.3L374.4 170.4L419.4 168.4L394.9 166.9L451.9 170.5L378.0 167.3L350.9 171.2L350.5 171.1L470.5 171.2L419.5 169.0L372.6 171.1L368.7 166.5L393.6 168.2L381.6 166.5L456.2 171.0L421.8 169.6L433.4 170.0L434.1 169.3L501.4 171.4L400.3 171.1L399.5 165.5L452.1 170.8L354.7 168.7L440.3 170.8L471.2 171.4L369.6 166.9L349.3 171.2L421.0 168.0L436.2 171.3L383.2 166.6L395.2 169.9L344.2 171.4L497.8 171.4L429.9 169.0L455.9 171.1L446.6 171.2L420.5 170.1L487.7 171.2L466.9 171.1L473.3 170.9L398.6 167.5L365.8 170.8L459.4 171.3L438.3 171.2L450.3 170.5L499.7 171.3L402.0 168.5L456.8 170.7L358.9 169.9L350.5 170.9L461.9 170.7L507.0 171.4L404.0 165.3L421.5 169.8L470.6 170.9L363.3 168.7L363.5 170.4L426.0 170.6L474.8 171.2L368.6 167.8L381.2 170.9L510.5 171.4L361.1 168.9L344.3 171.3L353.2 171.3L504.4 171.3L497.5 171.3L461.9 171.4L445.8 171.3L345.0 171.1L388.4 166.1L425.8 168.9L445.1 169.9L416.4 166.1L477.8 171.1L421.8 169.5L446.2 171.1L410.3 167.1L388.5 169.8L357.5 168.1L487.7 171.2L457.0 170.9L350.8 169.5L416.2 167.2L359.6 167.9L363.4 166.3L457.7 170.9L447.5 171.1L420.5 171.0L384.0 169.4L366.2 169.1L351.5 171.3L392.6 164.0L460.6 171.1L371.4 170.7L406.5 166.9L478.6 171.2L483.3 171.2L482.9 171.3L415.0 170.4L435.4 171.3L415.5 170.4L416.9 170.3L344.1 171.3L408.5 167.8L360.2 169.0L387.2 170.8L405.4 166.8L387.7 166.3L471.8 171.4L373.9 169.7L436.7 170.4L432.5 171.2L385.2 170.3L464.1 170.9L388.1 165.2L361.8 171.3L399.3 166.5L500.7 171.3L361.9 168.3L345.7 170.9L390.9 170.6L363.8 167.0L493.3 171.4L510.3 171.3L392.0 171.0L364.1 169.1L372.3 170.3L382.9 165.5L348.1 170.2L412.0 166.6L422.7 167.5L368.6 169.9L422.1 169.2L392.3 169.1L355.1 169.7L479.4 171.1L406.2 164.7L504.5 171.4L359.0 167.6L499.7 171.3L504.1 171.3L424.8 171.1L398.7 164.6L357.1 170.8L347.6 170.8L438.7 170.3L488.3 171.3L444.6 170.4L421.7 171.1L356.3 169.0L373.3 168.9L446.4 170.5L378.4 169.7L362.5 167.9L459.3 171.3L382.6 170.4L440.2 170.8L486.6 171.3L445.9 170.4L499.9 171.3L498.2 171.3L344.3 171.3L463.1 171.1L448.3 171.2L446.3 170.8L500.7 171.4L397.2 165.6L402.4 168.1L392.9 170.7L390.5 165.0L467.9 171.2L450.2 170.4L473.3 171.4L366.0 166.2L384.0 166.1L443.4 169.9L353.6 168.6L487.7 171.3L457.8 171.4L485.8 171.3L463.1 170.8L346.8 170.5L357.3 170.8L413.2 169.8L446.5 171.1L442.1 170.1L503.9 171.3L385.0 167.4L447.1 170.1L435.6 170.4L386.9 166.3L444.7 171.3L387.2 170.2L419.9 169.5L365.2 168.5L448.5 170.9L480.1 171.3L350.8 169.9L431.6 169.5L498.6 171.3L476.9 171.1L423.1 169.4L509.2 171.4L407.9 168.2L445.1 171.3L447.2 171.3L400.3 168.2L432.1 170.0L438.7 171.3L391.9 165.9L406.6 165.7L428.2 169.8L451.6 170.3L344.3 171.4L355.0 170.7L346.2 170.7L363.9 168.9L488.8 171.3L378.8 169.5L407.4 169.3L415.7 168.8L354.0 168.7L504.9 171.3L355.8 168.1L397.5 168.5L380.1 165.3L454.4 171.1L398.6 168.3L400.5 166.5L501.3 171.4L482.6 171.1L374.4 165.4L487.7 171.2L357.6 169.6L466.1 171.0L351.0 169.7L405.5 169.9L395.0 170.6L397.3 171.3L510.4 171.4L393.6 169.1L413.8 169.2L489.8 171.4L510.2 171.3L507.5 171.4L353.9 168.9L365.2 167.4L488.5 171.3L390.1 167.3L486.5 171.2L418.4 168.2L474.4 171.3L498.0 171.3L376.7 167.4L461.6 170.9L352.8 171.2L375.0 170.7L418.1 167.2L433.9 169.3L419.0 169.0L360.6 166.7L450.9 170.3L498.6 171.4L438.7 170.4L465.6 171.4L448.5 170.6L399.3 170.5L453.3 171.3L393.4 171.2L388.4 169.6L441.4 170.2L457.2 171.0L465.5 170.9L426.6 169.1L505.4 171.3L503.6 171.3L401.5 168.0L447.8 171.0L496.4 171.4L442.5 169.9L479.2 171.1L458.3 170.8L435.8 170.4L491.9 171.4L360.8 169.8L376.9 165.3L426.0 168.6L429.8 170.8L487.5 171.2L360.0 167.7L432.6 171.0L393.3 165.9L369.5 167.9L426.4 169.8L368.7 166.7L427.7 169.5L442.9 170.8L462.4 171.1L496.3 171.3L370.6 168.7L402.7 164.6L388.6 165.0L346.7 171.3L386.4 166.2L438.4 170.6L406.0 165.6L374.1 166.6L399.2 166.3L476.9 171.2L370.7 170.0L378.8 170.8L408.3 167.1L401.6 164.5L499.4 171.3L472.6 171.2L466.3 171.4L346.0 171.3L390.1 166.1L347.4 170.9L437.3 169.6L431.6 170.8L354.7 169.7L475.0 171.0L441.5 171.1L353.1 171.3L382.4 167.8L363.8 168.1L389.6 165.7L425.9 169.0L380.3 167.7L489.7 171.4L498.3 171.3L510.2 171.4L418.9 167.7L437.0 170.1L485.6 171.3L458.9 171.0L494.5 171.3L411.2 169.1L492.3 171.3L468.9 170.8L501.0 171.3L397.0 171.0L410.2 170.0L460.3 170.9L498.9 171.3L379.4 169.0L420.8 168.8L499.7 171.3L391.5 169.4L433.8 171.2L413.6 165.7L495.4 171.3L428.4 170.5L436.1 170.4L446.7 170.0L465.6 171.3L367.2 167.5L505.9 171.3L480.8 171.3L378.2 165.1L488.0 171.3L476.7 171.1L470.3 171.0L452.8 170.4L408.8 166.5L503.3 171.4L379.7 169.1L433.5 170.3L500.0 171.4L388.2 170.8L368.0 168.0L350.0 169.6L466.5 171.3L471.9 171.3L423.6 170.6L367.3 168.4L489.2 171.4L372.7 168.5L502.4 171.4L486.6 171.3L412.5 166.5L370.8 168.3L347.8 170.7L510.0 171.4L356.5 169.2L498.1 171.3L503.6 171.4L509.1 171.4L468.9 171.2L480.2 171.4L389.3 164.8L468.9 171.1L400.1 164.5L370.7 170.3L351.3 169.9L494.8 171.4L467.2 170.9L372.1 168.3L433.3 171.3L500.5 171.4L363.8 167.7L420.8 167.6L445.9 171.2L412.5 165.1L388.3 170.1L489.7 171.4L405.0 164.5L485.0 171.4L354.8 169.8L453.1 170.6L371.3 168.9L412.5 169.4L452.3 170.8L406.4 166.1L387.0 167.2L470.5 171.2L347.5 171.4L471.9 170.9L458.2 171.4L380.3 165.2L430.8 170.3L505.4 171.3L379.3 166.7L476.9 171.0L494.7 171.3L352.2 170.6L371.5 167.6L428.6 168.8L377.5 170.6L347.3 171.2L491.1 171.3L378.9 167.7L446.6 170.9L346.0 170.9L434.7 171.2L421.0 170.7L406.0 166.3L438.8 170.7L467.6 171.2L447.1 171.0L443.7 170.4L438.4 169.7L476.2 170.9L375.5 165.3L450.2 171.2L344.2 171.4L412.6 167.3L489.9 171.3L495.9 171.3L486.8 171.2L464.7 171.3L433.7 170.3L452.5 171.1L496.6 171.4L413.5 170.3L495.6 171.3L501.4 171.4L392.8 164.6L488.5 171.4L414.9 171.0L479.1 171.1L499.4 171.3L407.5 168.8L448.4 170.8L503.3 171.3L413.5 165.2L381.0 169.2L353.4 168.7L424.4 169.8L490.6 171.3L372.7 170.6L488.6 171.2L428.2 169.4L346.0 171.0L353.8 171.0L350.5 170.3L433.7 170.4L458.6 171.3L376.5 170.3L422.0 167.9L368.0 166.3L395.5 169.9L379.9 166.4L344.7 171.3L385.8 167.7L402.8 170.7L364.3 166.2L431.7 169.1L502.2 171.3L494.7 171.3L386.8 165.7L391.9 169.4L416.8 168.9L502.9 171.3L459.9 170.7L379.5 169.7L394.6 166.9L346.6 171.3L379.6 170.8L379.5 170.7L386.8 168.3L428.5 169.2L385.7 168.7L486.3 171.4L423.0 170.9L345.3 171.0L449.7 170.8L475.7 170.9L434.8 170.4L344.0 171.3L469.6 171.3L411.7 169.8L500.9 171.4L362.8 166.7L387.9 170.5L351.4 171.0L409.4 169.7L451.5 170.4L363.4 171.2L466.6 171.0L486.3 171.4L455.5 171.1L369.2 169.2L482.8 171.1L481.0 171.3L412.5 170.3L374.8 166.2L357.6 167.6L503.9 171.3L437.7 169.4L459.6 170.7L463.6 171.3L470.8 171.0L393.7 171.1L396.0 167.2L397.2 167.0L403.2 166.5L498.8 171.4L441.4 169.9L346.5 171.0L475.0 171.1L400.9 168.9L347.6 170.8L477.6 171.0L458.2 171.0L378.7 169.6L367.3 169.6L344.5 171.3L470.7 171.2L483.8 171.2L471.0 170.8L357.4 169.8L366.1 170.6L458.6 171.4L437.0 169.5L407.3 166.7L361.2 167.5L469.2 171.0L495.2 171.3L437.3 171.4L477.8 171.2L454.5 170.9L364.7 168.8L498.1 171.3L358.4 169.0L492.8 171.4L344.1 171.3L436.8 169.8L391.0 167.3L363.7 170.8L429.8 169.2L428.0 171.3L344.3 171.3L397.9 169.9L380.6 165.4L417.2 170.6L368.5 171.0L500.8 171.3L412.2 171.0L383.4 165.9L481.8 171.2L384.1 164.9L391.0 169.4L362.8 168.8L481.3 171.2L477.9 171.3L453.3 171.2L413.5 169.4L387.3 166.0L374.1 168.3L397.6 164.8L376.0 169.2L457.5 171.1L461.6 170.6L397.4 167.4L346.2 170.8L399.5 166.9L372.3 167.4L420.4 166.5L501.2 171.3L367.1 169.8L428.0 169.2L490.5 171.3L470.0 171.1L433.2 170.8L430.6 170.4L429.7 171.3L355.6 169.1L408.5 169.9L504.8 171.4L499.3 171.3L344.0 171.3L458.9 171.2L453.2 170.5L351.7 170.7L360.7 167.1L360.4 170.9L355.8 168.4L371.3 165.7L348.0 170.8L361.1 170.5L368.7 168.2L374.4 169.3L485.3 171.2L344.6 171.3L439.9 170.8L355.5 171.0L396.3 166.7L415.7 169.9L364.3 169.8L488.4 171.4L352.7 171.2L430.4 171.3L388.3 169.2L407.6 168.5L481.0 171.3L365.7 167.1L375.0 170.5L346.0 170.7L449.6 170.6L355.2 168.5L351.3 169.8L479.4 171.2L369.8 165.8L349.0 171.0L440.6 170.2L369.9 169.8L404.2 164.5L509.4 171.4L483.7 171.3L379.4 168.6L350.3 169.9L455.8 171.2L347.4 170.5L506.7 171.4L507.7 171.3L376.6 166.6L467.9 171.2L433.3 170.9L436.0 171.0L397.5 165.5L472.9 171.0L493.5 171.3L438.2 170.0L361.2 171.2L378.3 166.5L508.1 171.4L506.9 171.3L365.9 168.4L381.3 166.5L396.3 168.4L432.8 170.7L472.4 171.1L350.2 170.3L410.2 165.3L502.2 171.4L468.0 171.0L420.9 170.9L491.2 171.3L443.3 169.8L359.3 169.6L347.7 171.0L510.4 171.4L478.5 171.0L427.6 169.1L373.7 170.9L372.2 170.8L356.3 171.2L352.7 171.1L428.9 170.6L509.2 171.3L498.9 171.3L491.8 171.3L401.9 169.7L353.9 168.5L377.5 165.2L460.8 170.7L347.9 170.2L354.2 168.9L347.9 170.2L350.8 171.0L412.6 170.3L358.3 169.8L350.8 170.2L462.5 171.0L432.2 170.8L415.6 167.5L498.4 171.3L507.5 171.3L439.0 169.9L357.1 168.1L479.5 171.3L448.3 170.8L368.5 170.2L362.2 166.6L478.1 171.1L368.6 167.2L381.9 168.0L346.2 170.7L394.6 166.1L359.3 170.5L466.4 170.9L439.4 170.6L444.4 169.9L478.2 171.1L411.8 168.5L492.2 171.4L426.4 170.7L411.6 169.9L488.4 171.2L397.3 165.5L473.8 170.9L462.5 171.2L444.7 171.0L416.5 171.0L345.9 170.8L414.0 168.3L443.9 171.3L447.2 170.4L351.0 169.6L422.2 169.2L389.2 171.0L372.3 170.2L472.4 171.1L500.6 171.4L471.4 171.0L413.9 166.9L367.1 167.3L382.1 167.8L449.6 171.1L504.5 171.4L491.8 171.3L475.9 171.2L471.9 171.0L507.9 171.3L359.9 168.8L353.7 169.8L359.1 169.2L472.9 171.4L395.5 170.9L390.2 168.7L345.5 171.2L451.2 170.9L359.9 169.5L346.0 171.3L408.5 170.3L429.1 171.1L468.9 170.9L479.1 171.1L438.5 169.7L359.3 171.2L393.0 164.1L415.0 167.9L380.9 167.7L467.3 171.0L348.7 170.8L403.2 170.5L348.1 170.4L345.3 171.2L440.1 169.9L382.1 170.9L496.0 171.3L467.0 171.0L456.1 171.3L360.7 166.9L386.9 167.1L457.7 170.9L351.3 170.1L415.5 169.6L411.9 167.7L348.3 170.8L372.1 168.4L367.9 169.0L414.4 170.4L378.3 167.7L441.5 169.7L443.0 170.4L507.3 171.3L424.2 169.6L500.2 171.4L477.9 171.3L367.9 169.8L421.5 169.7L373.2 170.8L352.5 169.0L472.5 171.0L444.1 170.5L414.2 167.0L408.8 165.5L377.5 168.5L469.5 171.0L465.6 170.9L399.9 168.3L350.9 170.6L500.6 171.4L496.0 171.3L469.6 171.3L481.8 171.1L391.5 170.4L365.3 169.9L380.1 170.9L373.9 169.2L464.8 170.7L344.7 171.1L491.4 171.3L421.1 169.6L374.7 169.6L380.0 169.7L407.5 170.9L361.3 169.2L346.8 170.6L458.6 171.2L468.3 170.8L471.8 171.2L439.7 170.0L481.9 171.3L380.7 168.8L349.0 170.0L450.5 170.8L430.0 168.9L347.8 170.2L386.8 167.9L410.9 169.3L399.9 167.2L389.3 169.8L344.5 171.3L424.4 171.2L349.7 169.8L344.8 171.4L396.0 166.3L449.7 170.7L407.3 168.7L348.8 170.3L485.0 171.1L383.7 168.3L380.4 166.7L460.5 171.2L373.8 165.8L437.4 171.0L396.7 168.1L457.0 170.7L475.3 171.3L353.9 169.4L455.7 171.3L423.7 168.2L465.4 170.8L428.4 170.2L442.5 170.2L379.1 166.6L397.8 163.9L380.0 166.3L485.8 171.2L446.9 170.1L349.8 170.7L505.4 171.3L395.8 169.5L386.4 171.3L456.8 171.4L464.1 171.4L363.3 169.1L353.9 171.2L505.8 171.3L448.3 170.4L363.3 171.2L379.1 168.2L466.9 171.1L398.2 170.8L366.5 169.1L382.2 168.6L441.2 170.9L502.8 171.3L504.8 171.3L434.5 169.1L399.1 166.1L469.7 171.2L399.2 168.7L360.2 169.9L385.5 165.9L505.6 171.4L445.5 170.4L383.5 165.9L403.6 170.8L350.3 170.0L505.0 171.3L503.4 171.4L373.0 166.3L393.0 166.3L436.4 170.5L458.0 170.8L507.8 171.3L457.5 171.1L441.9 170.9L498.9 171.3L367.4 166.9L467.4 170.8L508.9 171.3L362.7 170.6L346.2 171.3L463.5 171.4L412.7 167.1L369.9 167.8L448.7 170.7L346.3 170.9L356.9 171.2L485.6 171.2L495.7 171.4L389.0 170.0L392.1 170.4L427.5 169.2L503.2 171.3L417.1 169.2L392.2 166.8L451.5 171.0L440.9 171.1L350.7 169.7L369.8 166.4L500.1 171.4L383.5 167.5L386.3 171.0L427.1 171.0L430.0 170.9L445.7 170.2L361.3 166.6L454.6 170.8L447.4 171.0L352.2 169.7L400.4 165.0L375.6 166.8L461.4 170.8L440.7 170.9L502.2 171.4L385.6 165.5L496.9 171.3L346.7 170.9L487.6 171.2L381.8 166.0L466.8 170.8L479.5 171.1L413.3 168.8L452.3 171.1L434.0 171.2L385.8 171.2L352.5 171.2L351.5 171.0L363.9 166.8L427.2 171.3L367.9 166.8L442.7 170.9L345.4 171.2L391.2 169.3L503.9 171.3L469.1 171.0L482.2 171.1L434.5 170.5L383.5 167.8L372.5 170.3L476.0 171.3L387.1 165.0L456.8 170.9L352.5 171.2L351.5 171.0L367.5 170.8L354.4 168.4L504.1 171.3L460.4 171.1L409.3 168.9L450.0 171.1L384.1 170.5L445.1 169.9L446.2 171.2L376.1 167.6L429.7 170.4L344.1 171.4L377.2 167.7L461.8 170.8L474.5 171.3L480.5 171.3L382.2 169.7L384.2 168.7L454.6 171.2L373.2 167.7L408.9 164.8L348.7 171.3L418.0 170.6L461.0 171.0L423.1 168.9L452.3 170.9L382.8 166.9L360.0 169.8L439.3 170.7L457.7 170.7L464.8 171.0L391.2 168.2L453.1 170.5L483.1 171.2L459.8 171.4L404.1 164.7L457.1 170.8L487.1 171.3L347.9 170.5L407.2 168.7L356.1 170.6L466.3 170.8L349.3 170.4L383.4 167.2L374.1 165.8L397.6 166.6L407.3 166.7L452.1 171.1L345.3 171.4L382.7 166.3L426.7 170.0L349.1 170.9L425.8 169.1L462.8 171.1L457.9 171.4L411.4 167.1L481.8 171.1L458.1 170.8L410.9 168.4L391.1 164.7L397.2 169.5L476.6 171.2L409.5 165.3L352.1 171.2L430.0 171.3L490.0 171.2L384.4 165.5L413.8 167.9L408.2 165.3L390.9 164.7L393.1 169.5L509.8 171.4L362.4 168.2L499.7 171.3L457.9 171.4L351.7 169.5L472.6 170.9L396.9 167.2L383.4 170.8L454.3 170.7L351.8 170.0L483.0 171.2L388.1 171.3L377.2 170.5L399.8 167.9L415.8 170.5L393.1 169.7L483.2 171.2L499.4 171.3L474.8 171.3L395.9 168.5L386.7 170.0L495.3 171.3L457.9 171.2L455.1 170.8L492.7 171.4L500.9 171.3L364.6 169.2L400.1 164.1L452.0 171.2L418.8 167.3L350.8 169.8L451.4 170.5L364.4 166.3L401.8 166.6L378.4 171.2L350.7 170.2L492.3 171.3L349.9 171.4L507.6 171.3L490.1 171.3L461.6 170.7L399.7 169.1L350.2 169.5L355.2 168.4L353.3 169.7L488.3 171.3L435.5 170.2L355.7 168.0L454.4 170.5L484.2 171.3L467.9 171.0L373.2 167.9L505.9 171.4L449.5 170.9L420.1 168.0L371.2 171.1L363.8 169.3L447.0 170.7L472.6 171.2L358.8 168.8L458.3 171.0L350.6 170.5L455.2 171.1L481.0 171.3L450.9 170.9L357.6 170.3L361.8 168.6L482.5 171.2L443.9 171.3L440.1 169.9L390.0 168.0L411.3 168.2L355.3 169.6L382.2 167.7L352.8 170.6L357.5 168.3L498.9 171.3L402.3 168.3L438.7 171.0L346.2 170.7L417.3 167.2L413.1 169.7L347.7 170.6L426.0 171.4L362.4 166.5L458.5 171.2L399.4 166.5L480.9 171.3L448.2 170.6L457.1 171.3L399.7 166.6L383.6 167.6L407.9 167.7L481.1 171.1L356.6 168.9L349.1 170.8L460.9 170.8L508.4 171.4L424.6 169.1L471.7 170.9L390.3 170.2L377.8 166.6L352.0 170.8L480.4 171.0L411.2 166.4L401.6 169.4L432.2 171.1L415.2 167.3L502.5 171.3L373.6 168.8L350.5 171.3L509.0 171.4L396.1 165.9L374.5 168.9L358.6 167.9L393.7 170.1L387.0 167.3L410.2 169.4L386.1 169.0L415.4 169.1L451.9 171.0L355.9 171.1L397.1 164.1L407.7 168.7L348.0 170.7L346.8 171.2L370.9 169.4L364.9 170.4L344.6 171.3L381.2 165.9L469.2 171.1L491.8 171.4L351.4 169.4L502.7 171.4L402.4 171.2L447.8 170.3L355.4 168.9L426.2 170.9L378.6 170.0L372.4 168.2L350.7 169.5L399.4 168.4L462.6 171.3L372.8 167.3L448.7 170.8L459.9 170.9L456.6 170.7L459.0 170.7L409.6 166.0L462.6 171.4L424.9 168.3L411.1 169.0L397.4 165.3L395.8 169.8L453.5 170.4L440.6 171.3L356.8 170.2L460.9 170.7L467.2 171.3L452.2 170.6L413.6 170.0L424.7 169.8L395.3 171.3L381.2 166.5L390.1 166.6L406.7 169.9L462.9 170.7L459.8 170.8L403.9 165.3L507.1 171.3L460.9 171.3L351.4 169.9L396.4 169.2L438.2 171.3L431.9 169.7L462.6 171.4L352.2 169.4L488.2 171.2L428.7 170.5L477.2 171.2L499.5 171.3L345.5 171.4L491.7 171.4L369.7 171.0L392.3 164.4L344.6 171.2L401.1 165.8L482.0 171.1L369.9 167.3L363.5 170.3L374.2 165.5L491.1 171.3L371.3 170.7L466.2 171.0L479.0 171.1L395.6 167.3L474.9 171.2L347.5 170.9L463.2 171.0L478.3 171.1L439.4 170.0L377.6 170.3L359.5 169.4L407.1 169.6L473.7 171.3L350.2 170.5L398.7 171.2L412.2 168.4L490.8 171.3L378.0 165.3L482.3 171.1L401.6 169.7L485.2 171.2L448.1 171.3L406.3 170.6L501.1 171.4L486.6 171.2L428.7 169.4L384.8 171.0L478.1 171.2L348.3 170.8L455.7 170.7L473.2 171.3L346.0 170.7L417.7 170.1L360.3 167.3L354.9 168.6L455.2 171.2L490.3 171.3L355.6 169.7L421.3 169.5L503.5 171.3L452.8 170.5L489.5 171.3L501.1 171.3L464.0 171.3L402.6 169.1L434.2 171.2L360.1 168.8L504.3 171.3L428.4 170.8L458.9 171.1L374.5 168.4L352.3 171.1L470.6 171.2L357.9 169.3L371.9 165.5L418.8 167.8L491.0 171.3L456.0 171.0L480.5 171.2L410.4 165.4L411.2 169.3L487.7 171.3L449.1 170.8L415.3 166.1L355.4 168.1L438.9 169.9L510.5 171.3L347.3 170.5L471.7 170.9L381.2 166.0L468.1 171.0L469.8 171.2L412.7 167.7L498.5 171.3L350.7 169.6L463.9 170.8L472.7 171.0L433.4 171.1L426.1 168.7L503.5 171.4L454.2 171.1L437.6 170.7L372.6 167.8L397.3 168.2L488.3 171.3L379.0 169.6L426.9 171.2L478.5 171.1L353.3 171.1L351.3 170.3L378.5 168.4L422.5 167.9L425.3 171.3L385.5 165.8L469.9 170.9L458.7 171.2L380.1 169.1L377.1 167.8L383.6 166.4L348.9 170.3L378.0 166.1L490.7 171.3L347.8 171.3L463.9 171.2L425.4 168.7L476.1 170.9L443.1 170.8L425.4 169.8L400.7 164.1L489.1 171.3L502.2 171.3L415.9 167.7L417.3 168.2L470.7 171.0L352.6 171.4L439.2 170.8L470.5 171.4L380.7 167.6L465.5 171.1L423.6 170.0L386.8 168.8L456.2 170.8L356.0 169.2L485.4 171.3L478.1 171.1L418.6 170.9L429.2 170.6L507.0 171.3L428.9 169.5L471.7 170.9L451.4 170.9L366.9 166.9L356.9 171.2L470.9 171.0L402.5 165.4L491.9 171.3L347.7 171.2L409.4 169.7L358.5 169.7L412.4 167.0L476.4 171.1L509.0 171.4L422.1 169.9L400.8 170.7L429.6 169.7L367.2 170.7L355.6 169.7L493.8 171.4L347.9 170.3L391.6 167.5L464.6 171.2L506.6 171.4L418.4 166.0L428.6 170.8L381.1 165.9L400.2 168.9L345.1 171.4L361.6 169.9L507.9 171.3L348.8 170.6L386.7 165.2L508.5 171.3L465.4 171.1L369.9 167.6L352.6 170.0L476.7 171.3L460.6 171.2L457.7 171.2L413.0 168.9L352.2 169.8L353.2 169.6L418.8 166.8L411.7 171.0L393.7 166.1L354.8 170.8L357.5 168.2L381.8 170.4L447.1 171.0L435.6 169.7L443.5 170.0L377.8 166.7L438.9 170.6L446.0 170.4L364.0 170.0L429.2 170.8L412.0 169.0L427.8 170.9L441.4 170.1L418.7 169.6L370.9 166.4L500.4 171.3L390.5 165.5L405.6 169.9L412.3 171.3L355.4 169.4L498.9 171.3L451.7 171.1L344.0 171.3L348.7 170.2L463.1 171.3L462.8 171.0L386.6 165.8L379.4 167.2L361.5 166.7L459.5 171.0L358.2 167.1L416.8 165.8L507.4 171.3L411.4 169.6L415.7 168.8L360.6 170.4L479.1 171.0L416.7 165.4L440.8 170.8L460.9 170.8L468.1 170.8L387.6 170.1L435.1 170.6L436.5 169.6L383.7 167.4L483.9 171.2L355.1 170.3L404.4 167.2L412.0 169.1L405.3 167.0L351.8 170.3L495.0 171.3L463.3 170.8L492.8 171.4L352.2 171.0L388.3 171.0L442.5 170.1L468.5 171.1L409.1 169.5L502.8 171.3L477.6 171.2L353.0 171.1L354.5 168.3L356.3 169.4L456.5 170.7L424.8 169.1L403.0 165.5L356.4 170.8L390.1 166.9L390.4 170.8L485.9 171.4L378.4 165.5L463.2 170.9L457.5 171.1L318.0 171.2L335.8 170.8L340.6 169.3L345.3 168.0L419.1 164.2L425.0 165.6L512.7 170.5L497.5 170.3L484.3 170.1" fill="none" stroke="none" marker-start="url(#m0)" marker-mid="url(#m0)" marker-end="url(#m0)"/>
<marker id="m1" markerUnits="userSpaceOnUse" markerWidth="6.3" markerHeight="6.3" refX="3.15" refY="3.15" overflow="visible"><circle cx="3.15" cy="3.15" r="2.3" fill="none" stroke="#ff1a1a" stroke-width="0.85"/></marker>
<path d="M358.0 114.5L362.7 103.7L355.3 125.6L359.3 129.6L354.5 136.6L360.3 142.6L357.4 113.8L364.8 146.2L362.9 86.7L352.9 102.3L361.0 156.0L356.5 128.7L355.4 135.6L360.0 142.3L346.4 88.9L355.9 119.8L353.7 82.8L376.3 109.0L355.6 126.4L358.0 57.5L366.6 94.0L349.8 66.9L350.7 104.2L343.6 76.0L355.3 135.0L359.0 60.3L358.2 57.2L355.4 143.0L340.3 103.1L353.0 73.9L356.3 114.8L362.2 55.3L365.0 128.9L359.6 58.1L357.8 53.3L357.1 77.8L356.5 75.7L351.2 65.1L352.4 92.3L356.4 119.6L353.3 127.4L354.9 93.1L363.4 121.2L360.9 141.6L366.0 71.9L357.6 113.5L359.2 101.0L360.5 109.2L366.2 112.9L356.2 96.6L349.0 56.6L359.6 71.5L351.1 72.4L369.0 111.9L361.1 140.3L367.6 145.4L362.9 71.2L354.3 137.5L355.1 128.7L359.2 70.0L364.6 120.4L363.5 143.7L357.0 73.8L370.4 110.4L360.6 91.0L357.1 133.0L356.1 60.6L349.9 82.1L361.6 79.0L357.9 70.8L362.7 65.5L363.4 87.4L366.8 144.1L367.5 151.4L343.8 123.7L361.4 120.3L356.4 75.5L367.7 117.0L360.7 87.6L374.2 96.4L361.8 90.7L357.7 72.3L353.2 82.6L361.7 92.8L355.0 126.9L365.0 105.3L355.7 104.2L361.2 74.8L365.2 100.0L362.3 71.9L354.2 132.3L347.0 101.1L363.2 70.3L348.7 105.6L369.4 138.8L358.1 130.4L354.1 118.1L358.2 80.5L361.3 61.2L354.8 92.5L361.9 161.0L347.5 77.5L358.1 57.8L349.0 127.9L357.3 133.2L347.7 97.7L359.9 91.0L355.3 57.1L354.6 60.4L347.9 115.0L355.6 113.9L353.9 60.7L359.3 56.7L345.1 63.5L353.4 63.6L356.9 68.8L343.6 67.3L363.2 143.3L356.5 108.2L360.5 124.2L353.9 58.0L348.6 86.7L355.8 80.3L353.2 70.7L363.9 69.5L357.8 60.2L355.0 119.3L355.7 127.7L350.4 120.0L355.0 72.9L348.6 81.8L350.4 63.9L364.7 72.8L350.3 70.6L352.7 54.5L358.5 54.1L360.9 89.6L363.6 120.4L353.4 117.9L363.9 73.6L358.0 80.8L349.5 125.9L348.8 97.5L340.7 111.5L339.9 96.7L344.4 113.4L355.2 118.3L364.8 81.0L359.4 146.4L354.2 87.0L356.3 140.8L363.6 86.1L360.4 72.4L355.7 79.6L361.7 109.3L354.8 86.2L359.8 83.2L346.6 99.1L356.3 60.8L346.0 92.6L358.6 63.0L359.5 57.6L358.4 137.1L360.5 74.5L359.2 61.4L355.3 126.3L356.0 71.8L364.2 103.6L361.5 87.0L361.3 63.8L368.0 61.3L349.6 65.4L360.4 97.7L353.4 124.7L359.7 90.2L363.2 89.3L356.8 89.4L362.6 139.3L357.3 66.6L354.2 121.7L353.3 75.6L359.1 119.9L357.9 135.7L350.7 119.9L359.9 67.5L353.5 115.4L356.4 67.0L365.7 124.6L356.0 68.4L358.8 69.8L351.8 109.1L360.5 56.2L356.4 140.5L360.5 144.3L352.4 83.7L362.4 124.4L366.8 88.8L363.5 56.4L358.9 71.6L360.0 131.4L357.4 78.0L370.4 101.7L362.6 67.1L361.5 103.4L355.8 97.7L363.6 91.7L364.6 139.1L352.4 112.5L366.7 134.3L350.8 111.5L354.3 67.6L364.8 66.2L355.5 117.7L364.4 150.1L361.9 72.1L362.8 143.2L357.9 85.0L358.1 99.9L358.9 111.1L357.5 54.5L366.8 118.1L359.7 138.7L350.1 100.5L365.4 119.8L358.5 142.6L362.7 88.5L356.9 116.0L358.9 62.8L355.8 97.4L352.6 77.9L356.8 58.3L355.7 56.4L357.5 56.0L357.0 139.6L350.4 131.5L354.2 86.5L355.4 80.2L355.0 145.6L359.3 61.7L354.1 97.4L359.1 56.1L345.0 88.3L359.2 58.2L356.8 82.4L362.2 114.0L356.6 76.1L348.8 107.3L350.9 145.2L361.5 67.4L363.3 62.6L356.8 64.9L354.0 74.7L355.7 125.3L369.6 133.5L359.1 85.4L357.5 56.7L354.2 88.3L361.5 61.9L359.9 108.4L345.8 80.0L360.7 71.0L354.4 98.3L353.3 67.3L355.1 111.0L357.9 132.1L356.7 138.6L374.0 77.9L360.6 68.1L368.7 94.3L352.4 92.0L350.3 60.7L363.4 60.3L365.6 68.2L369.6 73.5L360.6 127.0L346.7 83.4L357.9 57.0L362.1 139.2L365.9 95.4L365.3 79.2L359.8 63.5L358.6 153.1L364.7 104.8L363.0 60.8L357.2 71.8L371.2 134.5L364.7 114.0L355.9 76.1L365.1 122.3L366.4 103.3L351.9 111.7L366.9 125.3L356.7 66.6L364.5 116.2L359.3 69.1L357.3 135.4L355.0 87.2L348.6 129.6L363.1 142.8L355.6 59.0L350.3 111.2L356.2 70.9L353.0 112.0L351.9 99.8L367.2 125.2L361.2 87.2L355.0 96.7L360.1 106.0L360.6 64.7L360.3 68.3L346.2 84.5L347.1 134.0L356.7 124.3L357.2 63.7L362.2 144.4L358.3 69.6L360.2 95.4L357.8 52.3L362.0 67.0L356.5 68.3L350.9 70.7L364.6 130.6L362.1 115.6L353.5 93.1L353.9 131.3L357.1 58.9L360.6 119.2L356.7 100.6L357.4 116.2L354.6 70.3L357.7 159.9L354.8 80.9L360.1 64.4L345.5 107.8L358.3 59.3L356.8 162.2L353.9 110.0L366.9 132.5L348.1 117.4L357.5 74.6L350.3 65.3L357.6 107.6L355.7 60.2L358.8 125.9L361.1 83.9L348.8 133.3L350.6 91.9L369.4 135.2L363.2 109.4L362.4 54.1L357.4 144.3L366.0 63.3L351.4 119.8L360.6 69.8L354.8 142.3L366.5 78.3L368.2 107.6L351.1 103.5L353.8 131.2L361.0 79.9L363.5 66.4L371.7 89.0L348.5 71.5L350.4 111.3L372.4 110.5L345.9 69.7L350.5 62.4L369.9 107.5L361.4 71.4L360.1 131.4L356.0 143.6L351.3 139.1L355.4 88.6L366.8 125.0L359.7 133.4L366.9 73.0L360.4 105.0L365.7 103.6L364.5 94.8L351.8 86.3L357.1 105.1L355.0 104.0L360.8 125.7L351.9 105.9L360.3 141.1L363.1 130.4L362.9 143.4L370.2 104.6L350.0 88.8L356.4 57.1L348.3 63.7L355.3 132.0L359.5 155.9L359.8 137.0L366.1 90.8L353.0 77.1L352.6 140.8L359.0 121.1L368.7 73.3L364.0 112.7L365.2 136.2L368.0 129.6L357.4 96.3L361.3 140.9L353.2 61.4L360.6 118.6L358.2 66.1L359.7 61.7L352.8 62.4L359.2 70.1L360.7 143.9L360.4 122.2L358.5 140.9L353.7 116.2L354.3 68.0L350.6 134.5L368.1 67.2L365.8 124.2L364.5 143.9L352.9 69.4L375.6 108.1L366.5 96.6L356.9 156.6L361.4 66.8L355.7 143.2L355.1 143.0L355.3 58.0L350.2 107.4L366.5 101.7L344.9 98.1L364.2 102.8L353.4 70.7L363.1 98.0L359.1 65.1L355.4 62.9L367.3 122.5L355.6 64.8L362.0 121.1L355.8 97.1L357.3 58.1L368.2 60.6L361.0 130.2L358.1 71.0L354.3 94.6L357.7 116.8L348.0 97.5L351.5 142.1L359.7 127.2L361.3 95.9L349.8 61.1L369.5 126.9L360.1 83.4L360.4 128.7L359.6 73.0L357.4 60.4L367.4 92.0L354.6 64.1L357.8 104.2L365.7 124.7L351.2 125.5L341.0 81.5L350.0 133.5L359.4 118.3L353.2 64.0L364.2 143.7L351.1 58.1L359.3 107.1L357.0 143.3L361.8 76.3L342.0 74.9L348.2 118.7L368.2 78.3L363.4 97.9L361.5 74.1L362.5 111.1L354.8 87.2L373.8 102.4L349.0 112.3L367.0 141.4L372.6 135.3L363.0 118.5L360.9 125.0L362.9 117.4L370.9 125.6L366.0 99.1L352.2 150.9L364.1 113.9L357.8 132.7L354.6 68.4L361.7 139.5L353.6 141.2L362.1 61.9L358.1 64.4L360.0 56.5L358.7 118.8L363.5 89.7L355.7 121.6L366.3 140.4L360.0 145.0L351.4 143.6L362.8 124.2L350.7 104.9L348.5 68.4L356.3 55.6L367.2 87.7L367.3 117.8L363.5 74.8L352.8 92.7L349.8 63.0L356.3 56.3L355.7 94.4L356.9 89.1L352.7 60.5L355.5 148.0L351.1 116.8L347.8 84.1L352.3 103.2L364.6 81.4L365.8 91.9L359.2 130.9L368.7 79.5L365.6 100.0L361.4 126.9L353.6 59.1L356.2 154.0L351.9 121.5L359.0 100.2L351.4 126.7L362.0 89.3L364.8 121.6L366.5 59.2L359.3 141.8L357.5 81.6L362.8 102.0L356.4 107.8L359.0 68.2L362.1 63.9L343.7 83.0L353.0 94.7L361.0 61.2L359.8 61.3L364.8 124.2L354.4 129.9L359.9 81.7L353.0 73.1L350.0 81.5L377.4 105.1L364.7 62.3L359.6 74.2L354.0 58.6L361.3 104.9L357.0 53.7L354.4 62.8L356.2 64.1L353.4 91.2L356.2 60.1L352.6 112.2L349.7 105.5L368.6 139.7L360.5 90.7L347.8 72.1L356.1 129.8L348.3 70.7L364.0 133.8L355.7 88.3L357.8 71.0L363.1 85.7L354.1 82.8L356.6 100.6L363.7 72.1L362.8 118.1L358.6 85.5L356.5 145.0L358.7 85.5L351.9 65.2L353.5 57.7L360.7 139.5L358.9 79.8L364.3 91.9L354.4 117.8L359.1 83.0L366.0 129.5L361.1 54.6L359.9 104.4L347.4 83.7L366.4 145.3L357.6 100.3L367.6 102.9L354.7 143.7L371.6 115.1L354.3 61.1L354.7 139.6L362.1 91.1L366.9 75.2L352.4 64.4L349.3 72.9L362.0 136.0L364.2 65.6L356.3 107.3L361.3 114.1L355.6 136.7L361.6 62.7L361.6 65.8L357.9 90.7L353.4 117.0L362.2 144.8L359.9 128.0L360.6 85.0L357.1 97.9L361.5 115.5L356.4 127.7L368.4 89.9L371.0 87.7L356.4 142.9L364.7 121.0L357.5 90.7L355.9 58.1L370.9 118.8L356.9 76.3L360.6 162.7L348.9 65.9L367.9 112.7L359.8 53.8L344.9 109.8L360.4 62.6L357.8 68.8L365.2 122.8L350.8 102.4L368.8 85.3L357.2 124.0L342.9 70.1L361.2 131.0L359.0 88.8L342.1 82.2L356.6 78.3L351.5 107.8L359.4 56.3L357.3 117.3L363.5 131.4L356.8 115.6L354.3 126.3L362.7 129.8L364.4 100.2L355.8 58.5L358.9 112.2L366.3 86.3L364.1 110.3L358.2 113.9L355.5 114.6L365.2 76.0L368.0 83.4L359.0 139.0L361.7 102.1L353.4 139.0L355.4 116.2L353.5 80.5L363.3 66.0L357.0 101.2L354.5 107.1L357.7 59.7L365.3 146.0L350.2 100.4L366.9 78.3L363.7 120.8L360.4 75.4L370.9 133.4L365.3 115.3L363.5 114.4L354.1 63.3L373.3 94.6L360.9 136.8L358.4 87.6L360.8 102.1L362.0 87.5L357.0 66.5L356.6 121.1L371.2 98.1L359.9 66.8L357.7 129.7L365.5 141.4L366.2 114.8L362.9 68.0L358.4 60.3L351.9 63.6L358.7 68.2L357.0 99.3L354.6 139.5L353.9 114.3L357.4 86.6L353.5 139.5L351.5 81.0L356.8 96.4L362.1 58.3L360.2 143.3L350.0 64.8L358.4 132.2L367.1 145.1L350.9 91.6L360.9 120.1L364.5 78.9L355.8 67.6L349.1 58.3L349.7 79.8L358.3 53.7L353.0 82.9L365.4 94.7L356.0 91.4L364.0 135.6L372.3 119.9L345.3 139.2L358.7 81.4L354.5 81.0L354.3 92.0L353.2 67.5L354.1 73.7L360.0 91.5L354.7 52.7L359.0 58.3L352.1 106.1L356.2 59.4L351.4 112.4L363.3 72.2L363.3 153.2L360.6 100.6L362.3 81.3L358.8 64.9L363.1 104.4L358.0 140.9L357.2 91.8L365.3 84.4L356.1 74.0L353.9 115.1L370.1 89.2L347.6 132.7L356.2 134.4L362.0 126.7L360.2 76.4L365.7 73.3L355.1 69.4L356.8 87.6L368.5 99.8L365.9 102.7L369.4 73.4L357.4 57.1L366.0 109.4L355.5 59.1L358.2 158.8L362.5 115.9L353.6 57.6L358.1 71.6L359.3 58.1L365.9 136.2L358.3 53.3L352.6 53.2L365.1 112.7L356.3 62.6L362.4 102.9L354.1 59.2L364.6 64.4L356.9 61.9L367.2 92.0L371.3 104.6L349.3 131.8L352.9 114.5L353.4 81.5L361.7 155.2L356.6 121.4L358.9 103.7L347.0 101.3L361.8 76.8L368.1 116.0L357.2 72.0L352.5 60.3L351.6 92.6L362.2 69.7L357.8 55.9L362.6 59.3L353.9 72.2L357.3 80.8L358.1 121.1L360.3 129.0L360.6 128.5L353.5 88.3L368.9 89.7L352.6 121.2L355.0 124.6L366.4 111.9L356.7 111.2L353.1 65.8L361.5 70.3L360.6 59.6L357.3 99.4L366.1 124.3L360.5 132.5L350.9 128.4L345.0 99.8L356.9 99.8L372.2 87.6L349.5 140.0L369.7 127.4L352.6 64.0L349.6 131.8L360.5 96.1L357.4 117.1L351.2 123.9L350.0 81.2L362.3 65.5L376.2 111.0L352.9 66.6L355.3 67.8L359.0 78.0L354.2 57.4L347.9 96.0L365.1 115.8L344.4 111.7L358.8 129.1L356.4 122.3L360.9 131.8L345.8 140.8L352.3 82.8L359.6 77.6L358.6 128.7L368.9 122.1L360.4 144.9L355.6 128.7L361.4 60.1L357.5 110.6L366.9 128.9L374.1 111.0L362.2 76.7L350.5 111.2L351.0 133.9L356.9 74.2L353.4 116.9L353.9 66.0L340.5 85.2L368.3 143.7L352.6 109.5L358.3 61.7L367.4 94.2L368.6 143.8L354.9 126.5L362.4 57.6L352.3 77.7L363.2 103.2L371.7 92.6L353.1 146.6L363.8 128.4L355.5 77.2L356.8 61.2L369.4 101.8L359.8 132.4L364.9 96.1L366.0 139.3L362.9 109.7L352.9 67.3L351.1 98.7L367.9 129.9L359.4 123.5L366.3 158.9L368.8 68.3L360.1 146.2L350.4 89.1L353.4 64.1L362.2 104.4L354.5 110.5L362.4 56.4L372.1 96.9L357.7 52.8L359.7 143.4L356.9 57.7L349.7 86.2L370.0 74.8L364.2 73.8L358.0 74.1L350.8 141.6L359.1 75.7L358.9 90.8L356.1 69.8L352.2 91.7L341.6 109.0L358.0 71.9L352.0 145.1L363.3 145.5L359.8 58.9L360.2 63.6L361.8 66.9L370.1 109.7L357.2 61.2L361.2 71.6L367.4 101.7L361.3 89.3L341.0 92.6L351.6 132.6L351.8 68.7L361.3 78.2L359.3 64.2L348.8 95.0L361.1 116.1L364.3 65.8L354.4 117.2L352.5 145.9L354.5 112.7L353.8 144.2L350.5 111.0L352.0 124.9L366.0 58.0L362.7 94.1L362.3 128.3L359.9 133.5L363.1 140.3L355.4 123.8L357.0 67.9L353.5 86.6L365.1 112.3L354.2 138.0L350.3 119.9L346.4 87.5L356.4 94.4L349.2 86.8L362.1 93.1L357.8 128.9L359.1 78.3L359.1 77.9L366.5 94.0L363.7 58.1L357.2 140.9L355.2 136.9L361.3 68.1L352.3 105.2L358.9 140.5L343.3 79.3L356.5 120.9L362.5 118.1L362.4 66.6L361.2 91.7L355.3 138.9L363.9 125.7L346.4 78.7L368.9 86.4L360.8 158.3L351.3 57.2L365.6 121.3L363.6 118.4L362.8 58.4L358.6 144.9L364.2 123.7L356.4 156.6L361.9 52.5L349.5 64.8L364.5 88.7L354.4 72.8L351.3 117.3L359.3 96.7L361.2 80.8L349.0 99.5L367.8 107.8L356.5 63.7L354.1 56.8L362.3 102.6L361.5 84.9L357.8 123.6L350.1 65.7L350.5 87.2L367.1 110.9L353.3 61.3L355.3 114.7L360.9 128.0L361.7 54.0L352.5 67.5L368.5 94.3L353.0 129.4L359.4 144.8L357.5 53.0L369.0 106.5L359.7 101.4L350.4 135.1L348.7 75.2L351.8 76.2L358.8 134.5L359.2 57.2L342.6 108.3L354.1 63.3L366.4 136.4L359.5 64.4L368.2 142.1L352.8 102.8L360.9 60.9L354.8 124.6L361.1 61.0L354.8 138.5L361.0 136.2L368.4 161.3L359.0 92.0L367.3 111.4L360.5 120.0L363.5 132.4L361.8 96.5L351.5 76.4L369.1 134.4L356.6 79.5L361.1 52.6L369.3 69.8L351.1 56.3L355.1 130.6L363.3 114.3L352.7 113.4L360.7 100.1L363.0 80.6L354.6 71.6L355.2 127.8L358.3 117.8L358.3 97.5L356.1 77.3L354.9 112.3L361.5 75.2L351.1 139.0L354.8 62.2L356.8 60.8L359.3 61.8L353.4 136.4L358.2 101.4L353.8 132.9L359.5 141.2L357.9 92.6L343.0 98.0L360.2 77.0L363.7 103.1L364.3 108.5L364.6 113.3L357.9 121.6L360.3 126.9L362.0 97.8L360.7 129.4L350.0 67.4L355.6 136.7L360.6 106.9L359.2 142.1L356.9 127.6L357.0 153.6L359.8 113.3L364.4 137.7L358.9 61.8L353.3 134.1L364.9 111.8L358.2 130.8L355.3 110.4L350.0 87.1L356.8 134.6L353.4 103.1L363.6 59.2L350.4 114.5L362.6 142.5L359.4 61.5L351.2 61.8L355.3 87.8L367.2 124.6L350.9 60.3L368.2 106.6L359.9 87.0L351.1 94.5L355.5 72.9L345.1 129.0L353.2 63.2L356.0 68.8L352.7 63.1L362.4 60.5L352.8 57.0L363.2 124.7L349.8 73.5L358.9 62.7L357.1 85.9L364.7 136.1L359.3 137.6L354.0 137.0L359.5 61.3L353.5 82.4L352.6 66.5L356.9 139.6L366.6 109.4L345.5 113.2L365.1 78.5L357.1 126.1L367.4 137.1L357.6 70.8L355.4 107.6L360.6 135.4L345.3 62.9L357.3 78.2L360.8 129.2L357.8 144.8L366.5 118.7L373.7 100.9L353.8 130.0L365.3 71.7L366.1 117.8L352.9 55.1L360.0 92.9L366.6 79.8L365.2 88.0L370.1 82.6L357.0 63.1L352.2 101.5L360.5 118.6L356.6 106.4L352.7 72.2L359.8 112.1L357.8 66.5L353.9 111.6L353.4 123.2L360.8 106.9L355.2 69.8L349.4 70.0L354.8 119.2L364.0 108.8L361.0 68.6L362.5 102.0L357.1 71.3L353.8 89.6L365.1 143.7L364.7 160.2L362.3 108.3L346.6 99.9L353.1 56.5L354.8 61.9L358.2 118.3L357.0 124.8L353.2 121.8L364.6 56.5L365.3 119.1L353.0 52.6L365.1 64.6L351.6 144.9L361.4 138.2L358.3 61.2L347.4 65.9L366.9 85.5L365.6 99.4L354.8 74.6L350.4 141.5L362.6 142.7L351.5 59.6L359.8 134.8L340.6 92.5L354.3 98.9L363.6 93.8L362.1 140.7L361.8 58.3L355.6 106.5L356.6 144.4L354.9 117.1L347.9 59.5L356.2 123.9L350.5 77.0L353.7 75.3L353.3 129.3L353.7 56.6L352.6 72.8L353.1 84.9L360.0 64.1L354.1 128.7L349.0 94.8L352.4 69.7L366.6 134.0L358.5 98.6L359.7 93.7L351.8 97.4L366.5 69.7L360.6 60.9L364.5 95.8L345.7 135.7L366.3 140.8L359.5 141.0L355.3 67.7L360.7 116.3L357.7 111.1L362.3 115.8L358.7 73.3L356.5 143.3L363.1 101.6L366.3 95.5L362.6 62.7L350.2 107.4L364.7 124.6L358.2 75.9L357.1 61.6L361.0 119.3L357.2 145.9L355.6 80.1L361.6 112.3L353.9 134.9L349.7 72.9L362.7 73.7L359.0 133.1L358.0 127.8L355.4 102.5L361.4 138.4L363.7 123.7L355.2 137.9L354.5 118.3L355.9 101.1L349.7 75.6L366.2 85.6L354.0 71.4L368.8 79.6L357.1 97.7L359.8 96.5L356.5 63.9L354.0 80.6L364.7 89.0L358.7 57.7L354.0 62.8L348.9 71.7L366.7 77.3L359.6 76.2L358.9 63.8L362.6 97.4L354.9 91.9L360.1 143.6L360.2 94.4L357.7 76.5L359.8 117.1L355.3 62.4L357.9 89.7L359.9 118.7L361.7 95.3L351.7 115.5L361.2 127.1L362.7 113.3L366.8 105.8L364.0 98.7L357.2 98.9L362.5 158.7L362.1 87.0L353.4 99.6L355.9 54.1L360.1 138.5L356.4 101.9L363.8 143.2L356.4 71.9L359.2 66.5L344.7 101.4L356.0 114.6L368.9 136.1L353.3 82.8L349.4 59.8L368.8 111.9L356.7 127.8L364.4 126.5L356.8 107.7L356.9 61.0L340.8 100.4L356.7 143.6L362.2 162.2L341.5 117.2L363.4 99.1L356.2 65.1L361.1 128.3L365.1 138.9L362.2 72.1L366.1 74.6L344.3 74.3L359.6 68.0L353.5 132.0L362.4 105.1L352.3 116.6L345.7 102.5L362.6 73.0L361.4 81.4L364.4 88.1L360.3 116.5L359.9 65.4L359.9 143.6L355.1 79.4L343.9 77.4L349.4 63.4L348.3 78.6L358.4 160.3L348.2 70.4L359.9 133.9L361.8 105.3L349.6 86.7L346.8 101.8L350.1 130.6L365.7 136.1L344.4 95.0L351.6 66.2L362.8 139.3L367.1 113.0L357.1 89.7L363.2 127.3L353.7 115.9L365.8 144.2L352.9 58.3L356.0 63.0L360.7 113.6L361.2 120.8L352.1 64.6L352.4 145.3L359.2 124.4L352.8 145.0L356.2 95.0L364.8 140.8L352.9 60.4L350.4 115.5L355.5 93.1L355.6 135.3L352.2 80.8L359.2 103.1L368.4 119.1L357.9 131.1L355.0 118.8L351.4 67.8L358.4 72.2L363.0 57.9L355.9 92.6L372.4 143.1L357.5 70.7L355.3 129.8L362.4 108.8L350.5 120.5L354.8 53.8L355.8 69.0L357.8 121.1L361.8 142.6L355.7 104.3L354.9 55.8L364.5 132.8L344.0 70.1L362.4 126.3L360.0 64.3L356.1 56.0L366.2 55.4L359.4 113.7L362.6 75.6L354.0 75.2L358.9 151.5L357.7 150.3L354.4 137.2L360.8 141.5L363.7 62.5L358.3 122.3L362.2 101.6L361.7 119.8L349.8 138.1L354.8 95.2L343.8 92.3L353.9 68.8L365.6 125.0L353.1 67.0L371.6 96.2L359.0 65.2L355.1 56.1L360.4 69.0L364.6 85.0L370.0 113.0L359.9 136.9L353.6 142.9L351.0 136.6L362.4 136.9L361.2 95.9L358.6 115.5L351.0 125.7L358.7 101.6L360.0 78.7L364.0 115.1L359.7 60.1L364.6 115.4L362.5 137.3L352.5 67.7L361.6 101.3L353.7 58.8L360.2 89.4L359.1 125.2L368.3 86.2L360.5 72.3L355.4 136.6L354.4 77.0L360.8 78.8L351.4 62.8L359.7 71.5L350.6 72.7L356.8 73.5L364.5 121.2L359.2 119.4L355.8 92.5L350.2 70.4L355.3 141.0L359.9 107.3L359.7 137.6L349.6 100.5L348.1 83.3L365.2 98.4L358.3 95.6L355.4 144.6L368.7 134.0L365.5 138.0L352.7 129.3L370.1 75.3L361.2 108.1L362.8 52.8L361.4 93.2L364.6 95.6L355.5 57.4L345.1 138.4L377.7 94.7L360.8 67.0L352.3 64.9L353.6 53.5L360.4 64.6L360.4 62.1L361.3 127.5L367.1 98.0L351.0 56.2L362.2 110.3L357.6 124.1L364.3 119.5L366.7 121.7L356.2 52.8L359.7 131.9L361.9 144.6L362.4 131.9L359.8 58.9L363.2 137.2L356.0 136.7L360.4 57.6L368.7 66.2L360.4 65.7L360.2 82.3L353.9 136.0L353.9 63.2L369.1 150.1L356.1 100.6L353.4 75.9L370.4 73.3L364.3 141.3L358.4 100.1L359.7 117.7L353.7 62.3L357.0 66.8L352.8 69.7L347.9 71.1L358.4 97.2L367.1 135.2L358.9 114.3L365.4 159.5L364.9 56.1L360.7 60.0L359.0 90.2L358.9 104.7L354.7 70.2L359.7 83.8L360.2 117.0L365.1 147.8L354.6 102.8L364.9 137.1L365.9 127.8L352.5 97.7L354.6 120.4L353.7 118.7L345.8 110.1L365.4 107.9L361.1 98.5L354.5 60.1L364.9 94.0L346.4 131.5L358.3 139.0L354.2 126.1L361.2 65.4L358.6 59.1L344.3 112.9L359.3 125.2L359.8 135.2L352.5 57.1L368.4 84.3L361.1 72.0L359.7 100.3L367.8 80.6L356.3 133.9L360.0 108.8L365.3 97.1L371.0 86.1L358.2 119.7L359.9 92.0L369.7 159.9L361.7 62.0L362.7 81.3L363.5 65.9L359.5 142.2L363.0 63.2L355.0 69.2L364.1 139.9L359.7 134.5L358.8 129.4L362.5 58.0L356.2 135.9L367.0 79.7L352.8 58.8L355.6 156.6L354.1 83.2L357.6 140.6L363.6 75.2L359.9 60.6L351.8 143.8L362.5 103.8L356.0 115.4L361.4 77.4L354.8 144.2L366.8 162.6L366.3 88.3L360.8 99.0L359.4 87.9L361.2 83.4L354.3 83.9L362.7 142.3L351.6 140.0L356.0 67.0L374.6 110.1L356.0 58.2L365.0 60.5L348.2 86.6L363.8 76.1L358.6 80.5L375.4 110.6L359.5 64.8L369.3 90.1L358.2 57.1L367.4 108.5L358.6 113.1L364.0 126.1L340.7 95.5L362.3 81.2L371.3 132.1L354.4 75.3L348.3 87.8L347.2 111.9L349.6 64.5L359.9 93.4L358.8 83.9L340.0 106.3L355.3 138.5L354.0 95.5L359.0 119.9L360.5 114.6L359.6 125.5L352.0 53.9L354.3 102.5L360.9 93.6L353.1 89.7L357.2 145.1L354.3 107.6L353.3 68.5L363.3 139.5L352.5 121.1L356.7 66.5L361.2 80.8L355.8 81.6L358.3 54.1L364.1 89.5L355.6 68.0L355.1 59.7L355.0 106.2L356.7 75.6L362.8 143.9L356.6 111.6L355.0 55.2L358.6 64.6L357.7 116.5L355.9 57.5L356.6 77.4L348.9 135.1L359.0 127.9L350.6 107.4L364.7 142.7L355.1 106.6L359.3 108.8L359.0 58.6L366.4 97.1L357.9 70.6L356.5 63.9L360.9 133.9L355.5 88.3L365.4 114.9L373.9 77.3L358.5 57.4L354.2 61.2L346.3 92.7L355.4 132.9L364.4 95.2L360.1 108.4L353.8 78.6L356.8 145.6L376.4 102.8L357.9 71.9L361.1 125.4L360.3 96.5L358.3 125.9L350.8 62.9L356.9 83.3L357.3 111.5L360.8 134.2L352.5 63.2L370.0 81.7L357.1 123.3L354.1 57.7L360.1 84.5L346.1 63.7L353.2 98.1L362.7 87.4L365.5 81.3L364.0 86.0L350.9 88.0L367.8 121.9L359.4 130.6L354.6 71.6L356.8 64.8L354.4 112.2L362.5 69.1L353.9 53.5L350.7 57.3L357.3 130.3L346.7 82.4L361.6 67.9L357.8 62.9L361.8 141.3L377.2 95.3L356.1 126.8L353.3 88.2L361.7 144.9L356.2 112.1L345.6 76.3L367.2 93.4L356.8 80.1L363.3 162.4L366.5 141.7L358.9 73.8L355.9 65.2L342.3 89.2L357.7 125.3L363.9 70.4L350.9 61.3L354.6 105.7L354.8 75.3L354.9 64.5L358.3 87.9L351.9 91.3L353.3 63.4L362.2 77.4L347.6 107.4L356.3 96.5L353.3 92.0L361.5 86.8L355.1 127.8L359.1 57.7L352.0 72.0L357.6 114.8L351.5 116.1L362.2 65.3L352.8 73.1L370.1 93.3L357.5 124.2L359.0 86.7L358.9 113.5L364.1 154.9L361.7 73.2L356.5 87.8L355.5 58.7L349.4 63.0L365.0 130.2L360.3 128.1L352.3 139.1L368.8 74.6L343.9 118.4L355.4 117.3L361.3 114.7L351.6 72.8L351.1 73.9L350.6 77.5L357.5 107.0L366.6 89.4L369.7 134.8L357.4 63.9L351.7 105.3L372.6 103.4L363.0 101.4L358.8 61.2L351.7 72.2L358.6 108.0L361.1 64.9L372.4 103.9L349.9 81.7L359.0 110.4L367.7 89.2L359.5 83.6L355.6 122.7L358.4 81.9L354.5 58.5L349.5 71.7L358.7 65.4L348.1 136.4L353.1 81.5L356.5 143.5L360.2 161.6L356.7 92.8L353.8 138.8L359.2 114.9L359.3 92.0L360.9 134.8L352.5 146.0L354.2 141.1L363.5 128.7L352.5 102.1L360.9 65.9L367.4 84.5L363.7 84.4L359.7 102.6L370.6 144.7L359.4 74.7L359.3 138.4L355.5 107.6L362.4 139.5L360.6 134.8L361.2 157.2L352.1 72.1L366.8 129.4L362.4 123.2L355.0 88.2L340.1 101.7L357.5 70.8L362.0 70.7L362.8 62.0L351.9 139.4L362.6 106.9L350.7 115.5L355.0 91.7L360.9 58.6L359.9 141.5L364.9 77.8L356.4 58.2L354.7 139.2L359.2 56.4L359.9 108.4L360.4 140.5L371.3 114.8L352.4 115.1L359.2 131.6L359.7 59.4L359.1 145.0L357.1 104.6L353.5 76.9L367.8 67.4L363.7 108.2L357.9 75.3L356.9 72.5L364.7 144.2L360.0 139.7L358.1 92.5L352.5 97.0L346.9 79.1L365.1 88.2L360.2 98.1L361.9 60.5L354.3 82.9L362.1 115.0L358.6 145.1L362.2 113.6L370.8 131.9L362.9 58.6L350.2 119.0L349.8 66.9L354.5 89.8L371.6 100.8L361.7 126.5L356.0 138.4L365.5 67.6L345.3 121.7L358.2 145.0L362.4 110.7L355.8 57.8L362.6 112.0L348.5 75.9L367.2 116.6L367.6 69.0L366.6 65.8L362.4 58.7L358.7 70.3L359.3 142.7L349.2 120.4L355.4 62.2L364.9 68.6L344.7 109.7L356.3 57.0L358.2 86.4L360.1 69.0L355.6 59.7L362.1 105.7L356.2 105.1L359.4 68.9L348.6 124.3L362.1 77.7L357.4 80.7L368.7 103.9L362.7 78.2L361.6 107.4L363.9 78.4L357.7 117.4L361.5 62.3L354.7 78.3L362.1 84.4L364.1 81.2L359.0 69.1L358.7 117.9L367.6 99.8L349.3 77.2L369.9 144.8L356.2 65.2L349.9 72.9L363.0 73.4L351.5 80.9L354.9 72.0L364.3 105.2L364.3 85.4L363.1 126.6L359.5 65.6L357.0 61.4L371.2 112.3L346.5 122.0L362.4 73.1L355.9 73.8L366.8 145.7L348.6 106.3L356.9 108.9L357.5 144.0L356.8 122.2L360.9 139.7L362.0 91.3L359.3 130.4L349.6 133.4L353.0 67.0L365.8 133.8L352.3 113.4L366.4 105.3L359.0 68.0L352.0 121.2L350.3 118.9L359.7 92.0L354.5 65.6L361.5 115.4L358.5 98.1L359.9 66.7L359.9 114.3L352.5 135.0L359.0 53.0L360.5 125.2L360.3 84.9L359.0 57.7L364.4 79.9L346.3 109.3L361.8 74.4L356.2 55.3L347.4 74.9L362.8 62.7L357.6 102.7L357.5 62.7L367.3 105.6L350.6 129.0L355.9 69.9L362.0 79.7L356.7 112.8L365.3 82.8L355.7 130.8L348.7 68.6L365.1 123.5L357.4 129.4L353.5 100.8L350.7 70.2L358.2 74.7L359.3 61.9L359.7 60.2L363.2 85.9L359.7 115.7L364.1 122.6L349.5 151.1L353.9 59.5L354.3 83.5L352.8 102.4L356.1 63.5L364.1 109.8L358.9 128.2L360.3 64.6L346.5 116.5L360.7 144.1L354.4 114.1L357.4 108.8L355.1 108.9L360.1 72.6L369.0 115.3L359.4 61.8L365.8 133.0L357.8 87.7L355.1 67.8L353.3 117.7L356.6 79.8L350.1 112.0L354.4 133.4L357.0 80.2L359.2 105.1L361.4 71.3L364.7 112.3L356.7 103.6L357.8 72.4L360.7 121.5L358.9 118.4L359.9 76.4L363.8 134.4L357.3 116.7L367.4 133.5L370.7 99.8L351.9 129.4L355.1 142.9L353.4 113.0L361.2 72.0L362.3 63.0L343.4 68.9L358.3 83.7L357.1 57.3L365.7 101.5L361.2 113.1L352.0 86.6L355.9 64.0L351.8 91.0L356.1 84.0L356.0 157.1L360.5 85.4L356.5 61.8L360.2 125.2L352.5 69.0L360.1 139.3L356.5 95.4L359.0 56.5L357.0 66.3L361.9 140.6L357.1 61.4L355.3 60.9L347.8 136.5L366.4 136.2L352.9 91.9L364.0 99.4L349.9 71.1L358.4 58.6L347.2 92.7L359.6 58.9L360.7 140.6L371.6 75.8L363.2 137.6L356.9 67.8L368.9 90.9L358.5 62.7L364.6 104.8L367.2 94.0L351.5 75.5L357.6 62.4L364.5 101.6L356.2 116.5L347.3 123.9L363.4 88.1L350.9 130.3L361.8 79.3L356.8 58.1L358.4 74.1L356.1 62.1L362.5 76.3L355.8 58.4L362.6 77.4L360.0 115.8L353.5 71.2L353.5 61.0L361.4 66.2L365.0 85.4L361.4 63.8L367.0 85.1L367.0 84.4L362.7 131.0L355.0 143.4L364.0 128.3L359.7 115.1L362.1 118.4L354.2 75.3L368.8 68.8L363.0 75.8L352.0 102.8L363.0 128.1L359.3 102.8L354.1 61.2L348.4 56.5L358.7 144.9L348.9 114.8L361.5 140.7L359.0 151.1L357.6 66.5L353.0 69.3L371.2 110.0L375.1 104.1L357.7 69.5L367.8 116.5L366.2 108.6L358.9 120.6L347.0 112.5L358.8 64.1L363.0 67.7L361.9 151.9L362.9 79.5L364.0 106.6L359.0 71.6L349.6 74.2L365.5 132.1L350.0 72.9L362.3 144.1L356.1 115.0L359.1 85.9L348.1 113.3L355.3 69.9L357.0 120.1L354.4 58.3L355.1 123.0L361.7 140.6L354.3 142.7L364.2 105.4L350.1 83.2L355.3 101.5L355.9 66.2L364.4 89.3L364.6 141.1L351.0 104.6L362.1 93.4L363.4 62.0L358.9 57.1L364.0 119.1L357.9 58.0L364.8 84.9L367.1 70.1L357.3 88.5L349.4 62.8L368.1 71.0L361.1 112.6L355.5 70.4L362.3 144.9L348.5 68.2L358.0 107.1L357.4 70.9L362.1 118.2L356.9 108.0L361.0 85.2L364.0 127.3L348.6 58.5L347.2 107.7L366.3 91.4L362.1 101.2L361.5 96.2L374.7 130.1L359.0 120.6L358.0 97.4L357.0 132.8L365.0 67.7L357.1 58.4L359.2 115.3L366.7 76.2L357.2 64.6L370.8 98.3L363.5 138.8L351.6 90.6L364.4 126.0L353.0 115.6L362.1 132.7L359.1 80.8L353.8 112.7L358.4 88.9L373.0 94.6L367.6 137.7L360.4 89.7L359.0 69.0L352.7 114.0L355.9 120.6L359.6 73.2L363.1 97.1L356.9 88.1L354.4 56.5L351.2 114.2L348.2 136.9L370.3 78.2L361.6 61.3L349.1 63.9L359.6 97.8L358.0 108.8L349.6 70.6L372.4 98.2L364.9 81.6L365.0 130.1L369.3 119.4L362.8 59.5L347.9 70.7L355.6 56.8L354.0 117.3L363.2 72.1L354.5 106.2L360.1 67.7L362.7 131.3L362.6 132.3L362.0 102.1L353.0 53.2L358.6 58.5L358.3 108.7L363.0 89.5L364.8 125.1L362.8 103.9L345.4 91.5L360.9 137.2L350.7 67.0L356.2 160.8L356.7 138.7L364.9 89.0L372.3 110.0L360.8 72.0L356.2 81.8L361.4 57.1L359.8 77.2L354.8 128.9L356.8 94.6L361.9 52.9L364.4 124.8L351.6 128.5L352.7 57.3L353.0 80.1L359.0 61.4L359.1 129.7L367.9 94.9L359.4 70.6L356.0 107.4L358.4 106.1L356.0 128.7L361.5 66.0L351.1 106.9L353.1 127.1L363.5 122.7L353.3 77.1L356.5 57.9L361.3 84.5L360.7 116.2L362.2 101.0L350.0 87.1L354.9 57.5L354.6 110.2L368.8 80.7L361.2 138.1L372.8 72.1L350.5 79.7L363.3 58.8L343.6 124.5L354.7 66.5L364.7 123.3L366.2 81.1L359.2 70.9L354.7 132.0L350.6 58.5L357.2 57.2L355.8 138.3L366.2 83.0L355.1 68.3L355.7 125.1L359.3 62.4L361.7 134.2L363.3 142.7L353.2 92.5L354.0 117.0L365.6 57.4L353.0 77.2L359.3 66.2L364.7 147.4L358.0 127.2L369.1 129.5L374.8 131.5L354.4 60.5L357.0 60.2L362.3 135.3L360.2 86.7L355.8 53.8L361.4 127.0L361.0 92.0L359.8 95.3L350.0 67.8L359.8 101.5L362.4 118.2L351.3 98.0L361.6 70.1L356.5 84.8L366.0 73.8L360.8 106.2L360.1 116.2L362.1 70.4L357.7 133.2L349.1 77.8L354.9 85.1L357.2 85.2L364.0 111.1L359.2 63.9L351.6 140.4L361.3 141.7L367.4 85.4L355.4 66.0L357.6 127.7L356.3 69.0L357.7 87.9L361.3 71.1L369.3 120.4L360.3 94.4L357.1 93.4L365.8 122.3L353.1 55.3L354.3 59.4L354.3 64.9L358.8 128.8L365.1 115.2L353.6 67.9L346.9 84.4L350.6 79.0L360.2 135.9L353.6 52.4L359.6 142.3L354.2 136.8L344.2 89.1L358.6 65.0L350.2 144.4L354.6 128.7L359.8 56.9L357.1 91.1L352.0 76.2L361.0 66.9L366.7 119.6L356.6 71.0L362.0 56.8L361.1 141.5L354.5 98.1L359.5 64.1L370.1 130.5L361.1 107.7L365.5 66.1L361.1 124.3L359.7 64.7L354.9 76.2L366.7 86.3L353.6 60.7L354.5 108.4L354.2 75.3L362.2 83.1L352.8 102.5L352.7 113.9L365.5 129.6L359.9 119.9L358.6 106.0L353.2 134.7L355.5 134.3L364.5 160.4L352.8 106.6L356.6 103.0L361.5 143.8L372.1 120.5L349.5 106.0L358.7 122.6L356.5 58.0L362.5 69.3L351.4 70.2L356.2 94.7L352.2 115.7L361.8 84.2L355.4 95.2L359.0 109.4L349.9 104.8L358.3 150.0L367.2 65.1L365.8 119.9L365.5 88.8L362.0 69.0L355.3 62.3L354.9 95.2L360.7 111.3L369.3 105.9L366.7 96.4L347.2 83.2L368.2 117.0L362.9 75.2L360.3 117.0L350.6 61.1L352.9 130.9L358.2 144.2L363.1 104.6L361.9 91.3L356.1 69.3L355.8 62.7L344.4 112.8L360.2 145.9L360.6 41.9L358.9 166.0L381.0 64.0L389.5 70.8L382.7 132.0L385.5 134.0L378.0 66.0L379.5 63.0L384.0 75.0L378.0 57.0L354.0 162.0L364.0 160.0L348.0 149.0L370.0 149.0L376.0 80.0L377.0 90.0L376.5 115.0L342.0 118.0L343.0 100.0" fill="none" stroke="none" marker-start="url(#m1)" marker-mid="url(#m1)" marker-end="url(#m1)"/>
<path d="M389.8 84 L389.8 150.6" stroke="#b8a8a8" stroke-width="1"/>
<path d="M389.8 81.5 L388.3 86 L391.3 86Z" fill="#222"/>
<rect x="316.3" y="31.6" width="197.7" height="144.5" fill="none" stroke="#1f2b33" stroke-width="1.6"/>
<path d="M316.3 176.1L316.3 179.1M349.2 176.1L349.2 178.1M382.2 176.1L382.2 179.1M415.1 176.1L415.1 178.1M448.1 176.1L448.1 179.1M481.1 176.1L481.1 178.1M514.0 176.1L514.0 179.1M316.3 171.2L313.3 171.2M514.0 171.2L511.0 171.2M316.3 152.6L314.3 152.6M514.0 152.6L512.0 152.6M316.3 134.0L313.3 134.0M514.0 134.0L511.0 134.0M316.3 115.4L314.3 115.4M514.0 115.4L512.0 115.4M316.3 96.8L313.3 96.8M514.0 96.8L511.0 96.8M316.3 78.2L314.3 78.2M514.0 78.2L512.0 78.2M316.3 59.6L313.3 59.6M514.0 59.6L511.0 59.6M316.3 41.0L314.3 41.0M514.0 41.0L512.0 41.0M316.3 31.6L316.3 34.1M349.2 31.6L349.2 33.6M382.2 31.6L382.2 34.1M415.1 31.6L415.1 33.6M448.1 31.6L448.1 34.1M481.1 31.6L481.1 33.6M514.0 31.6L514.0 34.1" stroke="#1f2b33" stroke-width="1.2" fill="none"/>
<rect x="403.4" y="35.4" width="109.3" height="35.6" fill="#fff" stroke="#c5ced4" stroke-width="1"/>
<circle cx="420.4" cy="44.7" r="2" fill="none" stroke="#55bdf0" stroke-width="0.9"/>
<circle cx="420.4" cy="61.7" r="2" fill="none" stroke="#ff1a1a" stroke-width="0.9"/>
<text x="440.5" y="49.5" font-size="13.5" text-anchor="start" fill="#1c1c1c"  stroke="#1c1c1c" stroke-width="0.22">Pristine</text>
<text x="440.5" y="66.3" font-size="13.5" text-anchor="start" fill="#1c1c1c"  stroke="#1c1c1c" stroke-width="0.22">OA Treated</text>
<text x="316.3" y="190.5" font-size="13" text-anchor="middle" fill="#1c1c1c"  stroke="#1c1c1c" stroke-width="0.22">780</text>
<text x="382.2" y="190.5" font-size="13" text-anchor="middle" fill="#1c1c1c"  stroke="#1c1c1c" stroke-width="0.22">790</text>
<text x="448.1" y="190.5" font-size="13" text-anchor="middle" fill="#1c1c1c"  stroke="#1c1c1c" stroke-width="0.22">800</text>
<text x="514.0" y="190.5" font-size="13" text-anchor="middle" fill="#1c1c1c"  stroke="#1c1c1c" stroke-width="0.22">810</text>
<text x="311.5" y="175.8" font-size="13" text-anchor="end" fill="#1c1c1c"  stroke="#1c1c1c" stroke-width="0.22">0</text>
<text x="311.5" y="138.6" font-size="13" text-anchor="end" fill="#1c1c1c"  stroke="#1c1c1c" stroke-width="0.22">4</text>
<text x="311.5" y="101.4" font-size="13" text-anchor="end" fill="#1c1c1c"  stroke="#1c1c1c" stroke-width="0.22">8</text>
<text x="311.5" y="64.2" font-size="13" text-anchor="end" fill="#1c1c1c"  stroke="#1c1c1c" stroke-width="0.22">12</text>
<text x="316.4" y="25.3" font-size="13" text-anchor="middle" fill="#1c1c1c"  stroke="#1c1c1c" stroke-width="0.22">1.59</text>
<text x="382.0" y="25.3" font-size="13" text-anchor="middle" fill="#1c1c1c"  stroke="#1c1c1c" stroke-width="0.22">1.57</text>
<text x="449.0" y="25.3" font-size="13" text-anchor="middle" fill="#1c1c1c"  stroke="#1c1c1c" stroke-width="0.22">1.55</text>
<text x="514.0" y="25.3" font-size="13" text-anchor="middle" fill="#1c1c1c"  stroke="#1c1c1c" stroke-width="0.22">1.53</text>
<text x="415.7" y="12.5" font-size="13.7" text-anchor="middle" fill="#1c1c1c"  stroke="#1c1c1c" stroke-width="0.22">Energy (eV)</text>
<text x="415.0" y="201.0" font-size="13.7" text-anchor="middle" fill="#1c1c1c"  stroke="#1c1c1c" stroke-width="0.22">Wavelength (nm)</text>
<text transform="translate(292 103.2) rotate(-90)" font-size="13.75" text-anchor="middle" fill="#1c1c1c" stroke="#1c1c1c" stroke-width="0.22">PL Integral (AU x 10<tspan font-size="8.5" dy="-5">4</tspan><tspan dy="5">)</tspan></text>
<text x="285.0" y="17.0" font-size="14" text-anchor="start" fill="#1c1c1c"  stroke="#1c1c1c" stroke-width="0.22">b)</text>
<text x="395.5" y="94.6" font-size="11.5" fill="#1c1c1c" stroke="#1c1c1c" stroke-width="0.22">Δ<tspan font-size="13.5" dy="4">ave</tspan><tspan dy="-4" font-size="14"> ~ x 58</tspan></text>
<clipPath id="cc"><rect x="57.1" y="236.2" width="197.6" height="144.60000000000002"/></clipPath>
<g clip-path="url(#cc)"><path d="M57.0 377.7L58.6 377.7L60.3 377.7L61.9 377.7L63.6 377.7L65.3 377.7L66.9 377.6L68.6 377.6L70.3 377.6L71.9 377.6L73.6 377.6L75.2 377.6L76.9 377.6L78.6 377.6L80.2 377.6L81.9 377.6L83.5 377.6L85.2 377.6L86.9 377.6L88.5 377.6L90.2 377.6L91.8 377.5L93.5 377.5L95.2 377.5L96.8 377.5L98.5 377.5L100.2 377.4L101.8 377.4L103.5 377.4L105.1 377.4L106.8 377.3L108.5 377.3L110.1 377.3L111.8 377.2L113.4 377.2L115.1 377.1L116.8 377.1L118.4 377.1L120.1 377.0L121.8 377.0L123.4 376.9L125.1 376.9L126.7 376.9L128.4 376.8L130.1 376.8L131.7 376.8L133.4 376.7L135.0 376.7L136.7 376.7L138.4 376.6L140.0 376.6L141.7 376.6L143.3 376.6L145.0 376.6L146.7 376.6L148.3 376.6L150.0 376.6L151.7 376.6L153.3 376.6L155.0 376.6L156.6 376.6L158.3 376.6L160.0 376.7L161.6 376.7L163.3 376.7L164.9 376.8L166.6 376.8L168.3 376.8L169.9 376.9L171.6 376.9L173.3 376.9L174.9 377.0L176.6 377.0L178.2 377.1L179.9 377.1L181.6 377.1L183.2 377.2L184.9 377.2L186.5 377.3L188.2 377.3L189.9 377.3L191.5 377.4L193.2 377.4L194.8 377.4L196.5 377.4L198.2 377.5L199.8 377.5L201.5 377.5L203.2 377.5L204.8 377.5L206.5 377.6L208.1 377.6L209.8 377.6L211.5 377.6L213.1 377.6L214.8 377.6L216.4 377.6L218.1 377.6L219.8 377.6L221.4 377.6L223.1 377.6L224.8 377.6L226.4 377.6L228.1 377.6L229.7 377.6L231.4 377.7L233.1 377.7L234.7 377.7L236.4 377.7L238.0 377.7L239.7 377.7L241.4 377.7L243.0 377.7L244.7 377.7L246.3 377.7L248.0 377.7L249.7 377.7L251.3 377.7L253.0 377.7L254.7 377.7" fill="none" stroke="#35b8e6" stroke-width="1.3"/>
<path d="M57.0 377.0L57.6 376.8L58.2 377.0L58.8 377.1L59.4 377.2L60.0 376.9L60.6 376.8L61.2 376.7L61.8 376.9L62.4 377.0L63.0 376.7L63.6 376.4L64.2 376.4L64.8 376.8L65.4 376.5L66.0 376.1L66.6 376.3L67.2 376.0L67.8 376.1L68.4 376.0L69.0 375.9L69.6 376.1L70.2 375.9L70.8 375.7L71.4 375.8L72.0 375.7L72.6 375.2L73.2 375.3L73.8 375.1L74.4 375.1L75.0 374.8L75.6 374.9L76.2 374.8L76.8 374.6L77.4 374.4L78.0 374.3L78.6 374.1L79.2 373.9L79.8 374.0L80.4 373.6L81.0 373.9L81.6 373.6L82.2 373.0L82.8 373.2L83.4 372.8L84.0 372.8L84.6 372.6L85.2 372.0L85.8 372.0L86.4 371.8L87.0 371.7L87.6 371.1L88.2 371.1L88.8 370.4L89.4 370.1L90.0 369.6L90.6 369.5L91.2 368.9L91.8 368.7L92.4 367.9L93.0 367.4L93.6 366.9L94.2 366.0L94.8 365.5L95.4 365.0L96.0 364.0L96.6 363.4L97.2 362.5L97.8 361.8L98.4 360.8L99.0 359.9L99.6 359.0L100.2 357.9L100.8 356.6L101.4 355.7L102.0 354.0L102.6 352.7L103.2 351.3L103.8 350.3L104.4 348.6L105.0 347.0L105.6 345.3L106.2 343.8L106.8 341.7L107.4 339.6L108.0 337.9L108.6 335.3L109.2 333.0L109.8 330.4L110.4 327.5L111.0 324.7L111.6 322.0L112.2 318.6L112.8 315.2L113.4 311.8L114.0 308.6L114.6 304.9L115.2 301.4L115.8 297.6L116.4 293.7L117.0 289.5L117.6 285.4L118.2 281.4L118.8 277.4L119.4 274.1L120.0 271.3L120.6 268.2L121.2 265.0L121.8 263.0L122.4 260.5L123.0 258.4L123.6 257.2L124.2 255.7L124.8 254.2L125.4 253.1L126.0 252.1L126.6 251.6L127.2 251.5L127.8 251.4L128.4 252.0L129.0 253.0L129.6 253.3L130.2 254.7L130.8 255.7L131.4 256.7L132.0 258.2L132.6 260.1L133.2 262.1L133.8 264.0L134.4 266.3L135.0 268.8L135.6 271.4L136.2 274.2L136.8 277.0L137.4 279.9L138.0 283.0L138.6 285.7L139.2 288.5L139.8 291.6L140.4 294.3L141.0 297.4L141.6 300.7L142.2 303.8L142.8 307.3L143.4 310.3L144.0 313.4L144.6 317.1L145.2 319.8L145.8 322.1L146.4 325.0L147.0 326.7L147.6 328.1L148.2 330.0L148.8 331.4L149.4 333.2L150.0 334.1L150.6 335.4L151.2 336.7L151.8 337.8L152.4 338.9L153.0 340.2L153.6 341.5L154.2 342.5L154.8 343.2L155.4 344.1L156.0 345.3L156.6 346.0L157.2 346.8L157.8 347.4L158.4 348.8L159.0 349.3L159.6 349.6L160.2 350.6L160.8 351.3L161.4 351.3L162.0 352.2L162.6 352.8L163.2 353.6L163.8 354.0L164.4 354.5L165.0 355.0L165.6 355.8L166.2 356.3L166.8 356.3L167.4 356.6L168.0 357.7L168.6 357.5L169.2 358.0L169.8 358.5L170.4 359.0L171.0 359.5L171.6 359.7L172.2 359.9L172.8 360.5L173.4 360.8L174.0 361.4L174.6 361.4L175.2 361.5L175.8 361.8L176.4 362.6L177.0 362.5L177.6 362.5L178.2 363.1L178.8 363.4L179.4 363.9L180.0 363.7L180.6 364.2L181.2 364.5L181.8 364.4L182.4 364.7L183.0 365.3L183.6 365.5L184.2 365.5L184.8 365.6L185.4 365.9L186.0 365.9L186.6 366.0L187.2 366.1L187.8 366.4L188.4 366.5L189.0 367.2L189.6 366.8L190.2 367.2L190.8 367.4L191.4 367.3L192.0 367.7L192.6 367.2L193.2 367.8L193.8 368.0L194.4 367.6L195.0 367.9L195.6 368.5L196.2 368.4L196.8 368.3L197.4 368.6L198.0 368.7L198.6 369.1L199.2 369.2L199.8 369.1L200.4 369.2L201.0 369.4L201.6 369.8L202.2 369.8L202.8 369.9L203.4 369.9L204.0 369.8L204.6 370.0L205.2 370.4L205.8 370.4L206.4 370.3L207.0 370.3L207.6 370.7L208.2 370.8L208.8 370.9L209.4 371.0L210.0 371.2L210.6 371.3L211.2 371.5L211.8 371.6L212.4 371.8L213.0 371.7L213.6 371.6L214.2 371.8L214.8 371.9L215.4 371.9L216.0 372.1L216.6 372.3L217.2 372.0L217.8 371.9L218.4 372.5L219.0 372.4L219.6 372.5L220.2 372.2L220.8 372.9L221.4 372.7L222.0 372.6L222.6 372.7L223.2 372.8L223.8 372.8L224.4 372.8L225.0 372.7L225.6 373.2L226.2 373.0L226.8 373.1L227.4 373.2L228.0 372.8L228.6 373.4L229.2 373.2L229.8 373.3L230.4 373.4L231.0 373.3L231.6 373.6L232.2 373.4L232.8 373.4L233.4 373.5L234.0 373.7L234.6 373.9L235.2 373.7L235.8 373.5L236.4 374.0L237.0 373.7L237.6 374.1L238.2 374.0L238.8 373.9L239.4 373.9L240.0 374.2L240.6 374.3L241.2 374.1L241.8 374.4L242.4 374.6L243.0 374.2L243.6 374.1L244.2 374.2L244.8 374.1L245.4 374.3L246.0 374.3L246.6 374.2L247.2 374.6L247.8 374.1L248.4 374.3L249.0 375.0L249.6 374.8L250.2 374.8L250.8 374.8L251.4 375.1L252.0 374.9L252.6 374.8L253.2 374.6L253.8 374.8L254.4 374.7L255.0 374.8" fill="none" stroke="#ff1428" stroke-width="1.5" stroke-linejoin="round"/></g>
<rect x="57.1" y="236.2" width="197.6" height="144.6" fill="none" stroke="#1f2b33" stroke-width="1.6"/>
<path d="M87.0 380.8L87.0 383.8M117.7 380.8L117.7 382.8M148.3 380.8L148.3 383.8M178.9 380.8L178.9 382.8M209.6 380.8L209.6 383.8M240.2 380.8L240.2 382.8M57.1 378.1L54.1 378.1M254.7 378.1L251.7 378.1M57.1 356.2L55.1 356.2M254.7 356.2L252.7 356.2M57.1 334.3L54.1 334.3M254.7 334.3L251.7 334.3M57.1 312.4L55.1 312.4M254.7 312.4L252.7 312.4M57.1 290.4L54.1 290.4M254.7 290.4L251.7 290.4M57.1 268.5L55.1 268.5M254.7 268.5L252.7 268.5M57.1 246.6L54.1 246.6M254.7 246.6L251.7 246.6M87.0 236.2L87.0 238.7M117.7 236.2L117.7 238.2M148.3 236.2L148.3 238.7M178.9 236.2L178.9 238.2M209.6 236.2L209.6 238.7M240.2 236.2L240.2 238.2" stroke="#1f2b33" stroke-width="1.2" fill="none"/>
<rect x="153.4" y="238.8" width="93.1" height="30.6" fill="#fff" stroke="#c5ced4" stroke-width="1"/>
<path d="M155.8 246.5H180.4" stroke="#35b8e6" stroke-width="1.3"/>
<path d="M155.8 260.6H180.4" stroke="#ff1428" stroke-width="1.4"/>
<text x="184.0" y="250.8" font-size="12" text-anchor="start" fill="#1c1c1c"  stroke="#1c1c1c" stroke-width="0.22">Pristine</text>
<text x="184.0" y="264.9" font-size="12" text-anchor="start" fill="#1c1c1c"  stroke="#1c1c1c" stroke-width="0.22">OA Treated</text>
<path d="M151.6 285 L151.6 329.3" stroke="#111" stroke-width="1.4"/>
<path d="M151.6 279.5 L149.6 286 L153.6 286Z" fill="#111"/>
<text x="155.8" y="312.5" font-size="11.5" fill="#1c1c1c" stroke="#1c1c1c" stroke-width="0.22" textLength="93" lengthAdjust="spacingAndGlyphs">Δ<tspan font-size="14" dy="4.5">median</tspan><tspan dy="-4.5" font-size="14"> ~ x 61</tspan></text>
<text x="87.0" y="395.4" font-size="12.5" text-anchor="middle" fill="#1c1c1c"  stroke="#1c1c1c" stroke-width="0.22">760</text>
<text x="148.3" y="395.4" font-size="12.5" text-anchor="middle" fill="#1c1c1c"  stroke="#1c1c1c" stroke-width="0.22">800</text>
<text x="209.6" y="395.4" font-size="12.5" text-anchor="middle" fill="#1c1c1c"  stroke="#1c1c1c" stroke-width="0.22">840</text>
<text x="52.5" y="382.5" font-size="12.5" text-anchor="end" fill="#1c1c1c"  stroke="#1c1c1c" stroke-width="0.22">0</text>
<text x="52.5" y="338.7" font-size="12.5" text-anchor="end" fill="#1c1c1c"  stroke="#1c1c1c" stroke-width="0.22">1</text>
<text x="52.5" y="294.8" font-size="12.5" text-anchor="end" fill="#1c1c1c"  stroke="#1c1c1c" stroke-width="0.22">2</text>
<text x="52.5" y="251.0" font-size="12.5" text-anchor="end" fill="#1c1c1c"  stroke="#1c1c1c" stroke-width="0.22">3</text>
<text x="87.0" y="229.4" font-size="12.5" text-anchor="middle" fill="#1c1c1c"  stroke="#1c1c1c" stroke-width="0.22">1.63</text>
<text x="148.3" y="229.4" font-size="12.5" text-anchor="middle" fill="#1c1c1c"  stroke="#1c1c1c" stroke-width="0.22">1.55</text>
<text x="209.6" y="229.4" font-size="12.5" text-anchor="middle" fill="#1c1c1c"  stroke="#1c1c1c" stroke-width="0.22">1.48</text>
<text x="152.3" y="214.1" font-size="13.5" text-anchor="middle" fill="#1c1c1c"  stroke="#1c1c1c" stroke-width="0.22">Energy (eV)</text>
<text x="151.0" y="406.8" font-size="13.6" text-anchor="middle" fill="#1c1c1c"  stroke="#1c1c1c" stroke-width="0.22">Wavelength (nm)</text>
<text transform="translate(41 299.8) rotate(-90)" font-size="13.8" text-anchor="middle" fill="#1c1c1c" stroke="#1c1c1c" stroke-width="0.22">PL counts (AU x 10<tspan font-size="8.5" dy="-5">3</tspan><tspan dy="5">)</tspan></text>
<text x="26.0" y="220.8" font-size="13.5" text-anchor="start" fill="#1c1c1c"  stroke="#1c1c1c" stroke-width="0.22">c)</text>
<clipPath id="cd"><rect x="316.3" y="235.8" width="197.8" height="145.2"/></clipPath>
<g clip-path="url(#cd)">
<marker id="m2" markerUnits="userSpaceOnUse" markerWidth="6.0" markerHeight="6.0" refX="3.0" refY="3.0" overflow="visible"><circle cx="3.0" cy="3.0" r="2.15" fill="none" stroke="#4cc6ee" stroke-width="0.85"/></marker>
<path d="M316.4 368.6L315.7 377.2L317.3 376.5L318.1 360.2L317.9 370.9L318.9 372.6L319.8 363.1L321.3 362.5L320.7 359.4L322.6 368.7L322.4 366.7L323.9 361.4L324.1 369.0L325.1 376.2L326.4 375.0L326.8 373.9L327.3 377.1L327.7 371.2L329.2 364.4L328.9 377.4L329.4 358.7L330.3 376.7L331.2 361.5L332.0 371.6L331.9 374.4L333.8 368.7L333.9 363.4L334.5 376.6L336.5 377.2L335.3 374.1L335.7 377.4L338.2 368.1L337.4 373.5L338.5 372.7L339.2 371.1L339.7 371.6L338.6 377.0L341.5 372.9L341.0 363.1L343.1 363.7L342.0 359.1L344.2 374.4L344.9 361.5L345.7 376.3L346.7 373.7L345.5 374.1L348.2 375.5L347.0 363.8L349.4 374.8L348.4 371.7L351.1 364.8L351.1 369.5L352.2 373.2L353.2 367.8L354.2 373.9L354.8 355.6L356.3 374.0L355.2 361.1L355.0 365.7L357.9 360.0L357.1 359.1L357.0 358.5L359.1 366.2L359.3 368.5L360.9 369.0L361.1 366.3L361.2 367.8L362.7 361.1L362.0 361.9L361.7 351.2L363.3 360.4L364.5 369.9L364.3 354.8L365.3 354.5L365.4 357.3L365.5 354.6L367.6 350.5L367.4 353.8L367.2 352.9L369.1 370.9L369.3 351.1L369.0 351.4L371.2 368.6L369.9 360.8L370.5 353.4L371.2 359.1L372.1 350.6L372.3 353.6L372.3 366.7L371.7 342.4L373.8 368.0L373.2 334.6L374.0 334.0L373.8 366.1L375.6 341.1L375.2 358.3L376.0 334.9L375.4 352.3L376.5 326.6L377.0 362.2L376.5 346.9L376.7 366.9L377.6 352.3L378.1 367.2L379.5 347.1L378.6 325.2L379.6 326.5L379.3 349.3L378.3 351.2L380.8 362.4L381.2 325.4L379.9 343.9L381.1 320.7L380.7 317.4L380.3 332.4L382.5 349.1L382.5 347.2L382.1 337.5L381.6 312.0L381.6 338.3L382.1 313.6L384.0 353.4L383.2 339.9L383.6 361.4L383.8 329.1L384.5 310.6L384.3 308.5L383.8 335.3L384.7 336.6L385.0 311.8L385.4 359.7L385.3 316.8L385.7 338.9L384.6 351.4L385.5 324.6L387.6 332.3L386.3 358.6L386.6 320.3L386.5 355.3L386.8 335.0L387.7 322.6L386.6 335.6L386.3 321.6L388.6 335.9L388.8 354.5L389.2 314.5L388.5 291.2L388.6 312.3L389.4 343.0L389.5 306.0L389.4 300.7L389.9 353.0L390.7 324.8L390.4 322.9L389.7 300.0L389.6 305.9L390.8 336.4L390.2 305.5L390.9 333.1L391.6 347.9L392.5 348.6L392.8 341.3L391.7 334.7L391.7 307.8L391.4 322.7L391.3 322.0L392.7 333.9L394.0 326.2L393.3 281.1L394.0 318.5L393.9 287.8L393.2 333.0L394.0 290.3L394.1 280.1L393.1 315.1L395.5 290.1L395.1 291.1L395.5 316.5L395.7 306.0L395.9 272.0L395.1 313.2L395.2 272.7L394.7 282.2L395.4 308.4L396.4 271.3L397.2 291.2L397.5 326.7L397.7 296.0L397.0 324.1L397.2 313.6L397.0 291.9L397.0 313.5L397.6 309.9L398.2 296.5L399.4 312.4L399.2 308.1L399.4 287.9L399.4 318.9L398.7 275.1L399.0 279.6L398.8 298.4L400.6 321.7L400.9 291.0L400.8 305.3L400.9 256.3L399.7 257.8L399.8 312.0L399.6 298.7L399.5 312.9L402.1 292.7L402.3 286.7L401.7 264.4L401.3 281.6L401.5 297.5L401.6 296.0L401.6 279.1L402.5 294.8L402.8 307.7L403.8 256.8L404.3 264.9L404.3 295.1L403.6 293.7L404.1 267.7L404.5 278.7L406.0 289.5L405.4 254.2L405.9 261.0L406.0 287.0L404.7 280.3L407.2 271.2L406.1 266.9L407.6 268.7L407.6 267.0L407.4 275.7L407.5 296.2L407.5 279.8L409.1 268.7L408.7 264.1L407.8 250.4L408.6 296.4L408.8 251.2L407.9 285.4L410.1 275.3L409.8 268.2L409.8 254.9L409.9 294.3L409.6 252.1L410.9 285.6L411.1 256.5L411.4 254.3L412.2 288.9L412.6 249.3L412.5 260.9L411.9 249.4L413.3 255.9L413.5 281.0L412.7 294.0L413.6 283.2L414.2 260.5L415.3 251.4L415.2 260.7L414.4 289.9L414.6 259.5L415.0 258.2L415.2 293.2L416.4 292.1L416.5 281.5L416.2 263.2L416.9 275.2L416.1 252.2L417.9 288.5L417.7 289.9L417.9 287.7L418.6 275.1L417.8 280.5L419.5 286.9L420.7 276.5L419.6 265.3L419.3 297.8L419.8 278.7L421.3 297.4L421.8 268.0L422.4 276.3L421.2 295.9L421.8 273.9L422.5 253.7L423.7 269.4L423.5 299.9L423.1 291.5L422.5 298.8L423.7 264.8L423.0 269.7L425.2 302.7L425.4 270.4L424.6 265.8L424.4 277.2L424.3 285.2L425.1 285.0L427.0 299.2L426.5 292.8L426.3 310.8L427.4 275.0L427.2 298.1L426.2 273.7L428.0 287.3L428.1 274.7L428.6 285.6L428.9 310.8L427.6 305.2L428.2 318.7L430.5 313.3L430.5 313.5L429.5 324.6L429.8 318.6L429.8 309.6L430.1 286.1L432.1 313.3L432.0 308.3L431.8 289.5L431.2 311.3L432.0 289.6L433.1 326.3L432.8 297.3L433.3 300.4L433.0 326.4L433.5 332.6L434.5 339.7L434.4 308.5L435.4 318.3L434.2 316.9L435.3 302.6L436.7 336.6L435.9 334.4L435.8 343.0L436.1 341.9L436.6 323.1L437.5 316.3L437.5 338.2L437.5 337.0L437.5 348.1L438.6 338.2L439.4 324.3L439.8 345.9L439.7 351.9L440.3 332.9L440.3 352.2L440.7 336.8L441.1 319.3L441.5 338.4L441.6 317.4L441.0 312.0L443.1 340.5L443.2 337.8L443.3 351.7L443.1 359.6L442.6 346.6L443.4 340.9L444.0 354.4L444.1 340.6L444.7 356.8L444.0 347.9L444.3 319.5L446.6 358.2L446.1 353.4L446.5 348.0L446.7 341.8L445.7 356.6L448.2 355.6L447.7 352.0L448.2 362.7L448.1 362.5L448.3 338.1L450.4 355.6L450.0 364.0L449.9 352.2L449.1 354.0L448.9 346.1L451.1 334.1L451.4 348.6L450.6 322.6L451.2 359.1L451.7 334.8L450.5 354.0L452.4 355.9L452.9 345.0L452.6 359.9L452.6 350.6L453.7 356.5L454.7 363.0L455.2 329.3L455.3 343.7L454.9 339.2L454.1 356.1L457.1 347.3L456.9 361.7L457.0 365.3L455.5 325.4L457.1 361.6L457.3 345.7L457.5 370.0L458.4 329.3L458.4 357.6L457.6 332.0L457.6 333.8L459.0 369.8L458.8 352.2L459.0 352.5L459.0 341.7L459.2 366.1L461.6 338.6L461.5 342.5L461.0 352.9L461.8 367.1L461.5 359.0L462.2 361.2L463.3 361.4L463.2 361.9L462.7 368.7L462.9 359.2L465.2 345.6L463.8 339.3L464.3 356.1L463.8 352.1L464.4 344.0L466.0 370.8L466.7 356.4L465.6 342.9L466.6 363.6L465.8 359.3L467.6 338.4L468.5 353.9L468.5 366.8L468.2 335.9L468.1 347.1L469.0 352.6L469.8 353.6L469.8 357.1L470.0 358.3L468.8 345.6L470.4 365.1L470.8 369.7L470.8 355.6L471.6 367.6L471.7 361.9L472.5 348.0L473.0 339.3L472.1 348.6L472.5 344.8L473.3 345.4L474.8 371.7L475.1 332.8L475.0 360.1L473.7 371.7L476.6 356.4L476.0 367.4L475.7 332.1L476.2 361.6L475.5 331.7L477.5 361.4L477.6 366.9L477.5 354.6L477.9 357.7L477.8 340.6L478.8 334.8L480.0 371.9L478.8 366.9L479.1 362.8L479.9 363.9L480.5 370.6L480.9 336.0L481.5 364.0L481.0 336.8L482.4 367.2L482.2 355.4L482.1 366.9L483.2 367.3L482.0 344.8L484.9 348.8L484.7 356.4L484.8 368.1L484.1 343.8L486.2 372.5L485.1 353.3L486.7 358.3L485.3 372.5L487.4 361.8L486.9 341.8L488.3 369.3L487.2 372.7L488.9 372.8L489.4 355.1L489.5 354.9L488.5 354.6L490.4 356.2L490.5 362.7L490.5 342.6L491.4 370.4L491.5 348.0L492.5 363.0L492.7 357.6L492.1 338.8L491.7 347.9L493.3 369.9L494.9 359.6L494.2 353.5L495.0 351.4L493.7 339.4L495.2 367.5L496.4 348.7L495.1 371.2L496.1 366.4L497.7 361.8L498.1 341.4L497.8 371.7L498.1 348.4L496.9 363.4L498.9 365.1L499.4 347.4L499.4 353.1L498.4 371.3L501.0 345.5L501.0 348.3L501.6 348.6L501.4 351.9L502.9 350.9L501.7 372.6L502.0 342.1L501.8 367.4L501.6 355.6L504.5 367.7L504.4 343.1L504.3 363.8L504.4 345.8L506.3 373.5L505.0 356.5L505.9 359.4L506.3 368.0L507.0 371.7L508.0 366.8L506.7 355.3L506.7 365.1L508.3 346.8L508.6 361.6L509.4 368.5L508.6 340.9L509.9 367.9L510.1 358.0L511.1 354.6L510.8 371.9L511.9 351.6L512.5 354.7L511.8 359.3L512.1 348.4L513.9 363.1L513.7 354.0L513.9 351.9L514.3 352.9L509.9 378.5L465.7 373.9L478.1 378.4L491.8 379.7L510.8 375.8L487.9 379.4L499.8 374.5L498.5 374.5L446.6 375.9L504.0 378.0L445.8 377.4L457.8 381.5L509.2 375.1L486.9 375.8L489.6 378.1L448.8 379.4L477.3 377.1L462.2 380.7L465.2 380.3L508.8 380.0L469.0 377.4L458.5 377.8L480.8 381.3L510.1 377.5L450.6 374.0L452.3 376.0L475.6 379.7L468.0 377.9L467.3 379.8L470.7 378.3L490.8 380.2L443.2 375.1L444.9 376.7L480.5 374.0L453.9 374.7L449.5 380.4L488.3 380.4L483.3 376.4L449.1 375.5L471.2 374.1" fill="none" stroke="none" marker-start="url(#m2)" marker-mid="url(#m2)" marker-end="url(#m2)"/>
<marker id="m3" markerUnits="userSpaceOnUse" markerWidth="7.0" markerHeight="7.0" refX="3.5" refY="3.5" overflow="visible"><circle cx="3.5" cy="3.5" r="2.5" fill="none" stroke="#ff1a1a" stroke-width="1.0"/></marker>
<path d="M316.2 376.9L318.2 377.6L317.9 377.3L319.9 376.7L319.8 376.8L320.7 377.4L322.2 376.0L322.5 378.7L323.2 377.0L323.9 374.8L325.2 378.1L325.9 375.3L327.1 377.0L328.4 377.6L328.7 377.1L328.8 377.7L330.7 377.6L332.0 376.3L332.3 375.6L332.2 376.1L334.2 375.1L335.4 375.9L336.1 374.9L335.9 376.1L337.9 375.0L338.3 374.6L339.3 374.2L339.2 375.1L340.4 373.9L341.8 374.1L342.0 374.6L343.9 373.8L345.0 371.9L343.5 372.4L346.5 372.7L346.3 371.1L347.5 369.0L347.8 369.6L349.6 369.1L350.4 369.2L349.5 370.7L350.6 368.7L352.6 367.1L351.8 367.9L353.1 365.2L353.1 365.2L354.6 364.6L355.0 365.6L355.8 364.7L356.3 361.2L356.8 362.2L356.7 360.2L356.5 359.5L357.8 358.7L357.9 358.4L359.1 358.0L359.3 358.7L359.7 357.3L359.8 356.3L360.9 355.5L361.2 353.6L361.8 353.4L363.0 353.9L362.3 352.9L363.2 352.0L363.6 349.5L364.8 350.4L364.1 347.5L364.9 347.4L365.4 348.2L366.7 346.5L367.0 347.0L366.4 343.7L367.4 344.9L368.6 344.8L368.1 344.2L367.6 342.0L368.3 342.6L369.1 337.5L369.8 338.6L369.9 338.1L370.0 338.3L370.3 336.1L371.3 336.4L370.9 335.9L371.0 336.1L371.8 333.9L372.2 332.0L371.8 332.2L372.9 332.3L373.3 329.3L373.7 330.2L374.3 328.9L373.5 328.8L374.0 327.5L373.9 326.8L374.6 326.2L376.2 325.5L375.0 322.7L375.4 323.3L376.3 322.0L376.6 321.5L377.0 321.6L376.9 319.4L376.3 317.2L377.1 316.5L377.8 317.6L377.8 315.4L378.0 315.1L378.2 314.5L378.9 313.5L379.4 312.4L379.3 313.1L379.5 311.4L379.8 309.4L379.8 308.2L380.3 307.5L380.3 308.3L380.7 307.3L381.1 306.2L380.9 304.7L382.7 304.4L382.1 303.0L382.2 300.9L381.6 301.4L382.6 299.8L382.3 299.0L382.5 297.3L382.0 297.4L382.0 295.7L382.7 294.8L383.3 294.5L383.3 293.1L383.2 293.5L383.9 291.8L384.0 291.5L384.0 291.8L383.9 289.9L384.5 288.4L383.8 288.4L384.7 286.9L384.7 286.0L384.3 285.3L384.0 284.1L384.3 283.0L385.5 282.1L385.1 282.0L385.3 280.2L385.4 281.1L386.0 279.2L385.2 278.5L385.3 277.5L385.5 277.9L385.3 276.3L386.7 272.7L386.3 274.8L387.1 271.1L386.4 270.6L386.3 270.2L387.8 270.0L386.9 268.7L387.5 268.7L386.9 268.5L387.0 266.1L387.9 267.0L387.6 264.8L388.6 264.2L388.7 263.7L388.4 262.5L388.9 261.0L389.5 258.4L388.4 260.6L389.3 257.8L389.5 258.5L389.2 257.3L389.7 255.7L390.0 255.9L389.8 253.8L391.1 252.2L390.4 253.0L391.8 251.7L392.7 250.9L394.8 251.4L393.7 251.7L394.1 255.2L394.8 255.1L395.0 257.0L395.8 255.0L396.6 256.5L397.0 257.8L397.3 258.5L397.1 257.8L398.4 259.9L398.4 260.4L397.6 260.6L399.5 261.9L398.9 262.1L399.1 264.0L399.5 265.1L399.5 265.5L400.0 267.2L400.1 269.4L400.5 268.8L400.2 270.5L400.2 269.0L400.4 271.9L400.5 273.4L401.2 271.7L401.3 275.6L401.1 273.7L401.9 276.9L402.4 276.3L402.1 277.8L402.7 280.3L402.3 280.5L402.3 280.7L402.2 280.4L403.0 281.1L403.4 282.3L403.2 283.6L403.1 284.7L404.0 288.3L403.0 286.6L403.7 286.4L404.1 287.3L404.1 290.1L403.4 290.1L404.8 289.9L405.0 292.0L404.8 293.6L404.5 294.0L405.3 293.3L405.5 294.8L406.3 294.7L406.0 296.5L407.1 296.7L407.1 297.0L407.0 299.3L407.3 299.7L406.4 299.8L408.3 302.2L407.5 303.7L407.8 303.1L407.8 305.7L409.7 304.6L409.1 307.2L410.2 305.0L409.5 308.6L409.0 309.3L410.1 310.4L409.9 311.0L410.2 312.1L410.8 312.0L410.3 314.7L411.8 314.9L411.2 314.6L412.6 316.5L411.6 316.7L412.4 317.4L412.1 319.5L413.1 319.1L412.3 319.6L413.3 321.8L413.4 322.9L413.9 322.1L412.7 322.5L413.6 324.3L414.8 326.6L414.9 325.1L416.4 327.3L415.4 327.6L415.1 329.3L416.3 331.0L416.9 331.2L417.3 331.0L416.7 332.1L416.7 332.9L417.4 334.4L417.9 333.0L418.3 336.8L417.7 335.6L419.0 336.0L419.1 338.0L419.1 339.0L420.4 338.4L420.7 341.3L421.1 341.5L422.0 341.6L422.7 342.9L422.2 343.8L423.6 344.8L423.4 345.2L425.0 345.7L425.4 347.4L425.4 347.5L425.9 348.5L426.7 347.7L427.4 348.7L428.2 349.8L428.1 349.4L429.6 351.0L430.1 353.5L431.3 351.7L431.8 353.6L432.3 351.4L432.8 353.6L434.5 352.5L435.0 354.6L435.4 355.0L435.8 356.7L436.5 357.1L437.3 356.1L438.0 356.4L438.9 358.5L439.2 356.1L440.6 359.5L441.9 359.6L442.9 358.1L443.1 356.7L443.6 360.0L443.9 358.0L444.9 360.4L446.9 362.9L447.9 359.5L446.9 361.4L449.4 360.1L449.4 361.5L450.6 362.1L451.6 363.5L452.2 363.6L454.0 362.4L453.4 364.1L455.6 364.1L456.1 364.0L456.8 364.1L457.6 365.3L458.3 366.6L459.4 365.1L460.2 364.5L461.1 368.8L461.7 367.2L462.3 367.7L462.9 367.9L463.9 367.1L465.0 367.6L464.9 369.6L466.7 366.4L468.1 368.0L468.6 368.8L468.9 365.7L470.2 368.7L471.6 367.9L471.9 369.1L472.7 368.6L473.9 368.1L475.5 368.3L475.6 368.9L476.1 369.9L477.9 370.8L478.5 369.2L479.6 368.5L480.1 370.4L481.2 369.0L481.1 371.7L482.4 368.8L483.0 370.4L485.1 370.6L486.0 370.9L486.5 371.7L486.9 371.2L487.8 370.5L489.2 370.5L489.8 370.6L490.7 370.9L492.1 371.5L492.5 373.0L491.9 370.6L492.9 371.6L495.4 372.3L496.2 371.0L497.8 372.1L497.7 370.9L499.0 371.5L499.4 372.2L500.7 371.4L502.1 371.3L501.8 372.5L503.3 372.4L503.9 372.4L504.7 371.0L506.3 371.6L506.7 373.3L507.7 375.1L507.9 372.1L509.6 374.0L510.3 371.6L511.9 372.1L512.1 373.8L512.8 372.7L415.4 326.4L415.7 325.6L415.9 326.4L415.6 325.7L417.0 329.0L416.7 332.5L417.5 330.0L418.3 332.9L418.4 332.0L419.4 335.0L419.6 335.8L419.7 336.0L420.5 339.5L421.3 338.3L422.7 337.1L422.7 343.0L422.5 343.3L424.2 345.0L424.3 344.9L426.1 346.4L427.2 345.6L427.6 345.1L427.8 348.1L429.3 348.9L430.7 348.1L430.9 351.3L431.6 351.7L432.4 351.1L433.3 353.3L434.6 353.6L435.4 350.0L436.8 355.4L437.8 355.6L437.8 350.8L440.0 357.1L440.1 356.3L442.3 357.9L443.3 355.5L444.1 357.6L446.1 359.1L446.4 354.2L447.7 360.9L448.9 360.8L450.0 361.1L450.6 362.1L452.2 361.5L453.5 360.9L454.4 362.0L455.2 363.8L457.0 359.8L457.8 356.5L457.8 361.3L459.0 364.8L461.8 362.3L461.6 363.7L462.5 365.1L464.2 367.3L465.7 366.4L467.0 367.4L467.1 364.1L467.7 364.8L470.0 368.0L471.2 367.7L472.7 368.1L473.3 366.6L474.7 365.5L476.1 367.5L477.6 367.0L478.1 369.0L480.5 367.3L480.5 369.4L481.5 363.8L482.5 369.2L484.9 368.8L485.9 367.5L487.2 367.7L487.7 368.5L489.1 370.6L490.7 367.5L492.4 369.3L492.8 370.3L494.3 370.3L495.3 367.9L496.6 370.8L496.2 371.2L498.7 369.8L499.6 370.4L501.8 367.1L503.0 370.5L503.8 368.9L505.2 371.4L505.7 372.4L507.1 371.1L509.1 364.5L510.0 370.0L510.9 372.1L513.1 372.2L513.4 372.9" fill="none" stroke="none" marker-start="url(#m3)" marker-mid="url(#m3)" marker-end="url(#m3)"/>
<path d="M316.2 371.5L317.1 371.5L317.9 371.5L318.7 371.5L319.6 371.5L320.4 371.4L321.2 371.4L322.0 371.4L322.9 371.4L323.7 371.4L324.5 371.4L325.3 371.4L326.2 371.4L327.0 371.4L327.8 371.4L328.7 371.4L329.5 371.4L330.3 371.4L331.1 371.4L332.0 371.4L332.8 371.4L333.6 371.4L334.4 371.4L335.3 371.4L336.1 371.3L336.9 371.3L337.8 371.3L338.6 371.2L339.4 371.2L340.2 371.1L341.1 371.1L341.9 371.0L342.7 370.9L343.5 370.8L344.4 370.7L345.2 370.6L346.0 370.4L346.9 370.2L347.7 370.0L348.5 369.7L349.3 369.5L350.2 369.1L351.0 368.7L351.8 368.3L352.6 367.8L353.5 367.3L354.3 366.6L355.1 365.9L356.0 365.2L356.8 364.3L357.6 363.3L358.4 362.3L359.3 361.1L360.1 359.8L360.9 358.3L361.7 356.8L362.6 355.1L363.4 353.3L364.2 351.3L365.1 349.2L365.9 346.9L366.7 344.5L367.5 341.9L368.4 339.2L369.2 336.3L370.0 333.3L370.8 330.2L371.7 326.9L372.5 323.5L373.3 320.0L374.2 316.4L375.0 312.7L375.8 309.0L376.6 305.3L377.5 301.5L378.3 297.7L379.1 294.0L379.9 290.3L380.8 286.6L381.6 283.1L382.4 279.7L383.3 276.5L384.1 273.4L384.9 270.5L385.7 267.9L386.6 265.5L387.4 263.3L388.2 261.5L389.0 259.9L389.9 258.7L390.7 257.8L391.5 257.2L392.4 257.0L393.2 257.1L394.0 257.5L394.8 258.3L395.7 259.4L396.5 260.8L397.3 262.5L398.1 264.5L399.0 266.8L399.8 269.4L400.6 272.1L401.5 275.1L402.3 278.3L403.1 281.6L403.9 285.1L404.8 288.7L405.6 292.4L406.4 296.1L407.2 299.9L408.1 303.6L408.9 307.4L409.7 311.2L410.6 314.9L411.4 318.5L412.2 322.0L413.0 325.5L413.9 328.8L414.7 332.0L415.5 335.1L416.3 338.0L417.2 340.8L418.0 343.4L418.8 345.9L419.6 348.2L420.5 350.4L421.3 352.5L422.1 354.3L423.0 356.1L423.8 357.7L424.6 359.2L425.4 360.5L426.3 361.8L427.1 362.9L427.9 363.9L428.7 364.8L429.6 365.6L430.4 366.4L431.2 367.0L432.1 367.6L432.9 368.1L433.7 368.6L434.5 369.0L435.4 369.3L436.2 369.6L437.0 369.9L437.8 370.1L438.7 370.3L439.5 370.5L440.3 370.6L441.2 370.8L442.0 370.9L442.8 371.0L443.6 371.1L444.5 371.1L445.3 371.2L446.1 371.2L446.9 371.3L447.8 371.3L448.6 371.3L449.4 371.3L450.3 371.4L451.1 371.4L451.9 371.4L452.7 371.4L453.6 371.4L454.4 371.4L455.2 371.4L456.0 371.4L456.9 371.4L457.7 371.4L458.5 371.4L459.4 371.4L460.2 371.4L461.0 371.4L461.8 371.4L462.7 371.4L463.5 371.4L464.3 371.4L465.1 371.4L466.0 371.5L466.8 371.5L467.6 371.5L468.5 371.5L469.3 371.5L470.1 371.5L470.9 371.5L471.8 371.5L472.6 371.5L473.4 371.5L474.2 371.5L475.1 371.5L475.9 371.5L476.7 371.5L477.6 371.5L478.4 371.5L479.2 371.5L480.0 371.5L480.9 371.5L481.7 371.5L482.5 371.5L483.3 371.5L484.2 371.5L485.0 371.5L485.8 371.5L486.7 371.5L487.5 371.5L488.3 371.5L489.1 371.5L490.0 371.5L490.8 371.5L491.6 371.5L492.4 371.5L493.3 371.5L494.1 371.5L494.9 371.5L495.8 371.5L496.6 371.5L497.4 371.5L498.2 371.5L499.1 371.5L499.9 371.5L500.7 371.5L501.5 371.5L502.4 371.5L503.2 371.5L504.0 371.5L504.9 371.5L505.7 371.5L506.5 371.5L507.3 371.5L508.2 371.5L509.0 371.5L509.8 371.5L510.6 371.5L511.5 371.5L512.3 371.5L513.1 371.5L514.0 371.5" fill="none" stroke="#500a0a" stroke-width="1.2"/>
<path d="M316.2 369.2L317.1 369.2L317.9 369.2L318.7 369.2L319.6 369.2L320.4 369.2L321.2 369.2L322.0 369.2L322.9 369.2L323.7 369.2L324.5 369.2L325.3 369.2L326.2 369.2L327.0 369.2L327.8 369.2L328.7 369.2L329.5 369.2L330.3 369.2L331.1 369.2L332.0 369.2L332.8 369.2L333.6 369.2L334.4 369.2L335.3 369.1L336.1 369.1L336.9 369.1L337.8 369.1L338.6 369.1L339.4 369.1L340.2 369.0L341.1 369.0L341.9 369.0L342.7 369.0L343.5 368.9L344.4 368.9L345.2 368.8L346.0 368.8L346.9 368.7L347.7 368.6L348.5 368.6L349.3 368.5L350.2 368.4L351.0 368.2L351.8 368.1L352.6 368.0L353.5 367.8L354.3 367.7L355.1 367.5L356.0 367.2L356.8 367.0L357.6 366.8L358.4 366.5L359.3 366.2L360.1 365.8L360.9 365.4L361.7 365.0L362.6 364.6L363.4 364.1L364.2 363.6L365.1 363.0L365.9 362.4L366.7 361.7L367.5 361.0L368.4 360.2L369.2 359.4L370.0 358.5L370.8 357.6L371.7 356.5L372.5 355.5L373.3 354.3L374.2 353.1L375.0 351.9L375.8 350.5L376.6 349.1L377.5 347.6L378.3 346.0L379.1 344.4L379.9 342.7L380.8 340.9L381.6 339.1L382.4 337.2L383.3 335.2L384.1 333.2L384.9 331.1L385.7 329.0L386.6 326.8L387.4 324.5L388.2 322.3L389.0 320.0L389.9 317.6L390.7 315.3L391.5 312.9L392.4 310.5L393.2 308.1L394.0 305.8L394.8 303.4L395.7 301.1L396.5 298.8L397.3 296.6L398.1 294.4L399.0 292.3L399.8 290.2L400.6 288.2L401.5 286.3L402.3 284.5L403.1 282.9L403.9 281.3L404.8 279.8L405.6 278.5L406.4 277.3L407.2 276.3L408.1 275.4L408.9 274.6L409.7 274.0L410.6 273.6L411.4 273.3L412.2 273.2L413.0 273.2L413.9 273.4L414.7 273.7L415.5 274.2L416.3 274.9L417.2 275.7L418.0 276.7L418.8 277.8L419.6 279.0L420.5 280.4L421.3 281.9L422.1 283.5L423.0 285.2L423.8 287.0L424.6 288.9L425.4 291.0L426.3 293.0L427.1 295.2L427.9 297.4L428.7 299.7L429.6 302.0L430.4 304.3L431.2 306.6L432.1 309.0L432.9 311.4L433.7 313.8L434.5 316.1L435.4 318.5L436.2 320.8L437.0 323.1L437.8 325.4L438.7 327.6L439.5 329.8L440.3 331.9L441.2 334.0L442.0 336.0L442.8 337.9L443.6 339.8L444.5 341.6L445.3 343.4L446.1 345.0L446.9 346.6L447.8 348.2L448.6 349.6L449.4 351.0L450.3 352.3L451.1 353.6L451.9 354.8L452.7 355.9L453.6 356.9L454.4 357.9L455.2 358.8L456.0 359.7L456.9 360.5L457.7 361.3L458.5 362.0L459.4 362.6L460.2 363.2L461.0 363.8L461.8 364.3L462.7 364.7L463.5 365.2L464.3 365.6L465.1 365.9L466.0 366.3L466.8 366.6L467.6 366.9L468.5 367.1L469.3 367.3L470.1 367.5L470.9 367.7L471.8 367.9L472.6 368.0L473.4 368.2L474.2 368.3L475.1 368.4L475.9 368.5L476.7 368.6L477.6 368.7L478.4 368.7L479.2 368.8L480.0 368.8L480.9 368.9L481.7 368.9L482.5 369.0L483.3 369.0L484.2 369.0L485.0 369.1L485.8 369.1L486.7 369.1L487.5 369.1L488.3 369.1L489.1 369.1L490.0 369.1L490.8 369.2L491.6 369.2L492.4 369.2L493.3 369.2L494.1 369.2L494.9 369.2L495.8 369.2L496.6 369.2L497.4 369.2L498.2 369.2L499.1 369.2L499.9 369.2L500.7 369.2L501.5 369.2L502.4 369.2L503.2 369.2L504.0 369.2L504.9 369.2L505.7 369.2L506.5 369.2L507.3 369.2L508.2 369.2L509.0 369.2L509.8 369.2L510.6 369.2L511.5 369.2L512.3 369.2L513.1 369.2L514.0 369.2" fill="none" stroke="#0b1c22" stroke-width="1.2"/>
</g>
<rect x="316.3" y="235.8" width="197.8" height="145.2" fill="none" stroke="#1f2b33" stroke-width="1.6"/>
<path d="M316.2 381.0L316.2 383.0M349.2 381.0L349.2 384.0M382.1 381.0L382.1 383.0M415.1 381.0L415.1 384.0M448.0 381.0L448.0 383.0M481.0 381.0L481.0 384.0M514.0 381.0L514.0 383.0M316.3 380.4L313.3 380.4M514.1 380.4L511.1 380.4M316.3 347.5L314.3 347.5M514.1 347.5L512.1 347.5M316.3 314.6L313.3 314.6M514.1 314.6L511.1 314.6M316.3 281.7L314.3 281.7M514.1 281.7L512.1 281.7M316.3 248.8L313.3 248.8M514.1 248.8L511.1 248.8M349.2 235.8L349.2 238.3M382.1 235.8L382.1 237.8M415.1 235.8L415.1 238.3M448.0 235.8L448.0 237.8M481.0 235.8L481.0 238.3M514.0 235.8L514.0 237.8" stroke="#1f2b33" stroke-width="1.2" fill="none"/>
<rect x="433.5" y="240.2" width="78.5" height="24.5" fill="#fff" stroke="#c5ced4" stroke-width="1"/>
<circle cx="445.6" cy="246" r="2.2" fill="none" stroke="#4cc6ee" stroke-width="0.95"/>
<circle cx="445.6" cy="258.2" r="2.2" fill="none" stroke="#f0304a" stroke-width="0.95"/>
<text x="459.5" y="250.0" font-size="10.5" text-anchor="start" fill="#1c1c1c" textLength="32" lengthAdjust="spacingAndGlyphs" stroke="#1c1c1c" stroke-width="0.22">Pristine</text>
<text x="459.5" y="261.7" font-size="10.5" text-anchor="start" fill="#1c1c1c" textLength="50" lengthAdjust="spacingAndGlyphs" stroke="#1c1c1c" stroke-width="0.22">OA Treated</text>
<text x="435.6" y="276.5" font-size="9.5" fill="#1c1c1c" stroke="#1c1c1c" stroke-width="0.2" textLength="71.4" lengthAdjust="spacingAndGlyphs">Δ<tspan font-size="11" dy="3">median</tspan><tspan dy="-3" font-size="11"> ~ x 61</tspan></text>
<text x="438.0" y="289.3" font-size="8.4" text-anchor="start" fill="#4cc6ee" font-weight="bold" textLength="72.4" lengthAdjust="spacingAndGlyphs" stroke="none">FWHM = 27.2 nm</text>
<text x="438.0" y="303.0" font-size="8.4" text-anchor="start" fill="#ff1a30" font-weight="bold" textLength="72.4" lengthAdjust="spacingAndGlyphs" stroke="none">FWHM = 21.7 nm</text>
<text x="349.2" y="395.8" font-size="12.5" text-anchor="middle" fill="#1c1c1c"  stroke="#1c1c1c" stroke-width="0.22">760</text>
<text x="415.1" y="395.8" font-size="12.5" text-anchor="middle" fill="#1c1c1c"  stroke="#1c1c1c" stroke-width="0.22">800</text>
<text x="481.0" y="395.8" font-size="12.5" text-anchor="middle" fill="#1c1c1c"  stroke="#1c1c1c" stroke-width="0.22">840</text>
<text x="311.5" y="384.8" font-size="12.5" text-anchor="end" fill="#1c1c1c"  stroke="#1c1c1c" stroke-width="0.22">0.0</text>
<text x="311.5" y="319.0" font-size="12.5" text-anchor="end" fill="#1c1c1c"  stroke="#1c1c1c" stroke-width="0.22">0.5</text>
<text x="311.5" y="253.2" font-size="12.5" text-anchor="end" fill="#1c1c1c"  stroke="#1c1c1c" stroke-width="0.22">1.0</text>
<text x="349.2" y="229.5" font-size="12.5" text-anchor="middle" fill="#1c1c1c"  stroke="#1c1c1c" stroke-width="0.22">1.63</text>
<text x="415.1" y="229.5" font-size="12.5" text-anchor="middle" fill="#1c1c1c"  stroke="#1c1c1c" stroke-width="0.22">1.55</text>
<text x="481.0" y="229.5" font-size="12.5" text-anchor="middle" fill="#1c1c1c"  stroke="#1c1c1c" stroke-width="0.22">1.48</text>
<text x="415.5" y="214.0" font-size="13.5" text-anchor="middle" fill="#1c1c1c"  stroke="#1c1c1c" stroke-width="0.22">Energy (eV)</text>
<text x="415.5" y="405.8" font-size="13.6" text-anchor="middle" fill="#1c1c1c"  stroke="#1c1c1c" stroke-width="0.22">Wavelength (nm)</text>
<text transform="translate(288.2 306.1) rotate(-90)" font-size="13" text-anchor="middle" fill="#1c1c1c" stroke="#1c1c1c" stroke-width="0.22">AU</text>
<text x="284.0" y="219.5" font-size="13.5" text-anchor="start" fill="#1c1c1c"  stroke="#1c1c1c" stroke-width="0.22">d)</text>
</svg></body></html>
